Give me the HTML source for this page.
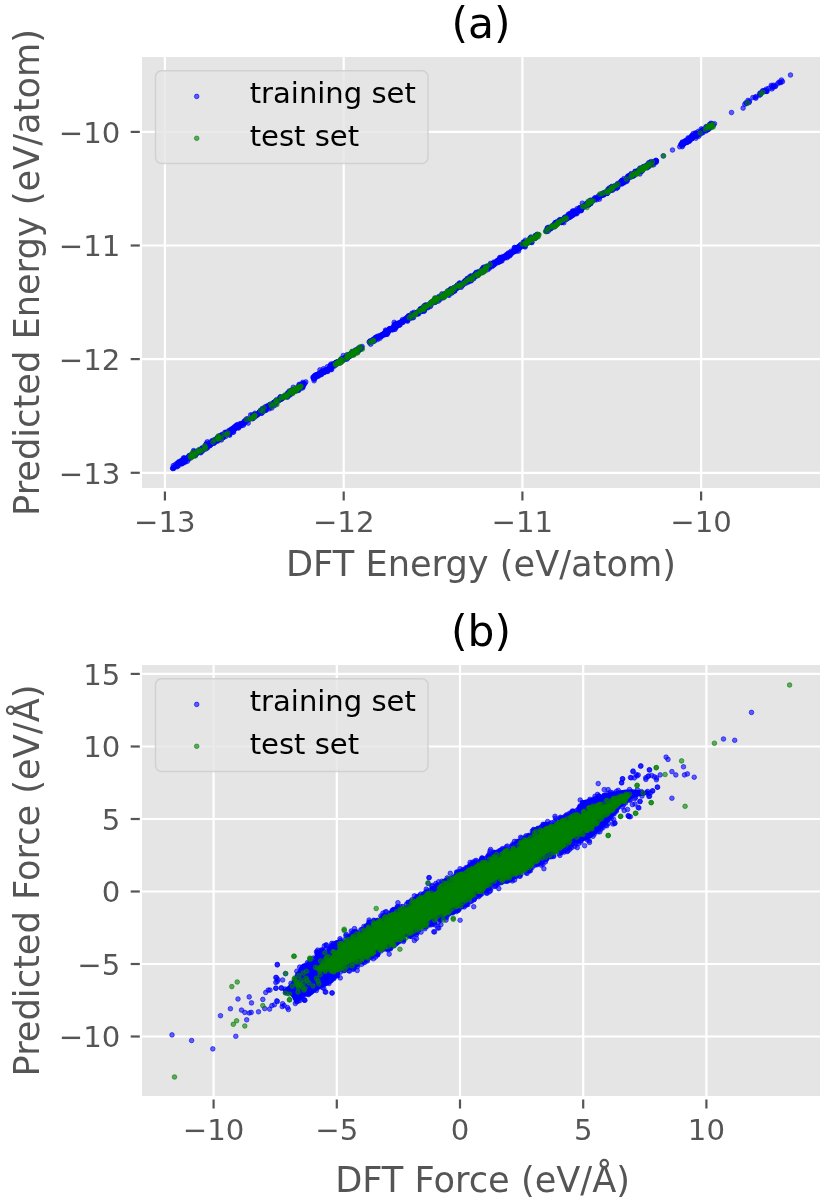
<!DOCTYPE html>
<html><head><meta charset="utf-8"><title>Energy and force parity plots</title>
<style>
html,body{margin:0;padding:0;background:#fff;}
body{width:825px;height:1201px;overflow:hidden;}
svg{display:block;}
text{font-family:"DejaVu Sans","Liberation Sans",sans-serif;}
.tk{font-size:29.2px;fill:#555555;}
.lg{font-size:29.05px;fill:#000;}
.lb{font-size:35.2px;fill:#555555;}
.tt{font-size:42.4px;fill:#000;}
</style></head>
<body>
<svg width="825" height="1201" viewBox="0 0 825 1201">
<rect x="0" y="0" width="825" height="1201" fill="#fff"/>
<rect x="142" y="57" width="678" height="431" fill="#e5e5e5"/>
<line x1="164.9" y1="57" x2="164.9" y2="488" stroke="#fff" stroke-width="2.2"/>
<line x1="343.7" y1="57" x2="343.7" y2="488" stroke="#fff" stroke-width="2.2"/>
<line x1="522.4" y1="57" x2="522.4" y2="488" stroke="#fff" stroke-width="2.2"/>
<line x1="701.1" y1="57" x2="701.1" y2="488" stroke="#fff" stroke-width="2.2"/>
<line x1="142" y1="472.8" x2="820" y2="472.8" stroke="#fff" stroke-width="2.2"/>
<line x1="142" y1="359.1" x2="820" y2="359.1" stroke="#fff" stroke-width="2.2"/>
<line x1="142" y1="245.5" x2="820" y2="245.5" stroke="#fff" stroke-width="2.2"/>
<line x1="142" y1="131.9" x2="820" y2="131.9" stroke="#fff" stroke-width="2.2"/>
<g fill="#0000ff" fill-opacity="0.6" stroke="#0000ff" stroke-opacity="0.6" stroke-width="1"><circle cx="172.6" cy="468.2" r="2.3"/><circle cx="172.8" cy="468.6" r="2.3"/><circle cx="173.3" cy="465.6" r="2.3"/><circle cx="173.8" cy="468.3" r="2.3"/><circle cx="173.9" cy="467.0" r="2.3"/><circle cx="174.0" cy="467.9" r="2.3"/><circle cx="175.6" cy="464.3" r="2.3"/><circle cx="176.3" cy="466.0" r="2.3"/><circle cx="176.8" cy="464.9" r="2.3"/><circle cx="177.2" cy="466.7" r="2.3"/><circle cx="177.3" cy="463.1" r="2.3"/><circle cx="177.5" cy="466.1" r="2.3"/><circle cx="178.5" cy="463.0" r="2.3"/><circle cx="178.6" cy="462.7" r="2.3"/><circle cx="178.8" cy="462.4" r="2.3"/><circle cx="179.0" cy="461.6" r="2.3"/><circle cx="179.1" cy="465.2" r="2.3"/><circle cx="179.5" cy="463.0" r="2.3"/><circle cx="180.0" cy="463.0" r="2.3"/><circle cx="180.2" cy="462.5" r="2.3"/><circle cx="180.4" cy="461.6" r="2.3"/><circle cx="181.4" cy="462.2" r="2.3"/><circle cx="181.5" cy="463.3" r="2.3"/><circle cx="181.5" cy="462.4" r="2.3"/><circle cx="181.5" cy="460.3" r="2.3"/><circle cx="181.7" cy="463.6" r="2.3"/><circle cx="181.7" cy="462.0" r="2.3"/><circle cx="181.8" cy="463.3" r="2.3"/><circle cx="182.2" cy="460.4" r="2.3"/><circle cx="182.4" cy="463.7" r="2.3"/><circle cx="183.1" cy="461.7" r="2.3"/><circle cx="183.3" cy="461.3" r="2.3"/><circle cx="183.4" cy="460.9" r="2.3"/><circle cx="183.5" cy="458.0" r="2.3"/><circle cx="184.0" cy="458.7" r="2.3"/><circle cx="184.0" cy="461.9" r="2.3"/><circle cx="184.3" cy="457.8" r="2.3"/><circle cx="184.8" cy="461.6" r="2.3"/><circle cx="185.0" cy="462.3" r="2.3"/><circle cx="185.4" cy="461.6" r="2.3"/><circle cx="185.5" cy="459.4" r="2.3"/><circle cx="187.2" cy="458.0" r="2.3"/><circle cx="187.5" cy="461.2" r="2.3"/><circle cx="187.6" cy="457.8" r="2.3"/><circle cx="187.9" cy="458.5" r="2.3"/><circle cx="188.1" cy="457.2" r="2.3"/><circle cx="188.6" cy="458.2" r="2.3"/><circle cx="188.8" cy="456.5" r="2.3"/><circle cx="188.8" cy="456.9" r="2.3"/><circle cx="188.9" cy="459.0" r="2.3"/><circle cx="189.1" cy="455.6" r="2.3"/><circle cx="189.3" cy="457.0" r="2.3"/><circle cx="189.4" cy="456.3" r="2.3"/><circle cx="189.9" cy="455.3" r="2.3"/><circle cx="189.9" cy="458.1" r="2.3"/><circle cx="190.8" cy="456.4" r="2.3"/><circle cx="191.7" cy="456.8" r="2.3"/><circle cx="191.9" cy="456.8" r="2.3"/><circle cx="192.2" cy="455.1" r="2.3"/><circle cx="192.6" cy="454.8" r="2.3"/><circle cx="192.6" cy="453.5" r="2.3"/><circle cx="192.7" cy="453.3" r="2.3"/><circle cx="192.8" cy="455.1" r="2.3"/><circle cx="192.9" cy="456.0" r="2.3"/><circle cx="193.6" cy="450.6" r="2.3"/><circle cx="193.9" cy="451.6" r="2.3"/><circle cx="194.2" cy="454.3" r="2.3"/><circle cx="194.3" cy="455.3" r="2.3"/><circle cx="194.3" cy="454.6" r="2.3"/><circle cx="194.3" cy="453.7" r="2.3"/><circle cx="194.5" cy="452.6" r="2.3"/><circle cx="194.7" cy="452.6" r="2.3"/><circle cx="194.7" cy="453.3" r="2.3"/><circle cx="195.0" cy="454.0" r="2.3"/><circle cx="195.0" cy="453.4" r="2.3"/><circle cx="195.1" cy="454.0" r="2.3"/><circle cx="195.1" cy="453.5" r="2.3"/><circle cx="195.2" cy="453.7" r="2.3"/><circle cx="195.2" cy="452.8" r="2.3"/><circle cx="195.4" cy="455.7" r="2.3"/><circle cx="195.8" cy="453.6" r="2.3"/><circle cx="195.9" cy="453.5" r="2.3"/><circle cx="195.9" cy="454.5" r="2.3"/><circle cx="196.1" cy="453.2" r="2.3"/><circle cx="196.1" cy="454.3" r="2.3"/><circle cx="196.3" cy="453.7" r="2.3"/><circle cx="196.3" cy="453.2" r="2.3"/><circle cx="196.4" cy="453.1" r="2.3"/><circle cx="196.5" cy="453.4" r="2.3"/><circle cx="196.6" cy="451.2" r="2.3"/><circle cx="197.5" cy="451.8" r="2.3"/><circle cx="197.9" cy="451.4" r="2.3"/><circle cx="198.2" cy="451.3" r="2.3"/><circle cx="198.4" cy="452.3" r="2.3"/><circle cx="199.8" cy="451.7" r="2.3"/><circle cx="199.8" cy="449.6" r="2.3"/><circle cx="200.5" cy="450.6" r="2.3"/><circle cx="200.6" cy="452.3" r="2.3"/><circle cx="200.7" cy="452.8" r="2.3"/><circle cx="200.8" cy="449.7" r="2.3"/><circle cx="200.9" cy="450.8" r="2.3"/><circle cx="200.9" cy="450.0" r="2.3"/><circle cx="201.0" cy="450.5" r="2.3"/><circle cx="201.1" cy="450.3" r="2.3"/><circle cx="201.3" cy="449.9" r="2.3"/><circle cx="201.7" cy="451.0" r="2.3"/><circle cx="201.9" cy="449.3" r="2.3"/><circle cx="201.9" cy="448.0" r="2.3"/><circle cx="202.1" cy="448.3" r="2.3"/><circle cx="202.1" cy="451.3" r="2.3"/><circle cx="202.3" cy="450.7" r="2.3"/><circle cx="202.9" cy="450.3" r="2.3"/><circle cx="204.6" cy="447.8" r="2.3"/><circle cx="205.0" cy="446.2" r="2.3"/><circle cx="205.1" cy="446.8" r="2.3"/><circle cx="205.4" cy="449.2" r="2.3"/><circle cx="205.6" cy="446.8" r="2.3"/><circle cx="205.7" cy="445.8" r="2.3"/><circle cx="205.7" cy="447.4" r="2.3"/><circle cx="205.8" cy="444.4" r="2.3"/><circle cx="206.3" cy="447.3" r="2.3"/><circle cx="206.3" cy="445.0" r="2.3"/><circle cx="206.6" cy="443.3" r="2.3"/><circle cx="206.9" cy="447.7" r="2.3"/><circle cx="207.0" cy="446.4" r="2.3"/><circle cx="207.1" cy="445.2" r="2.3"/><circle cx="207.3" cy="441.8" r="2.3"/><circle cx="207.4" cy="448.0" r="2.3"/><circle cx="208.1" cy="444.6" r="2.3"/><circle cx="209.1" cy="444.3" r="2.3"/><circle cx="209.1" cy="445.2" r="2.3"/><circle cx="209.3" cy="445.6" r="2.3"/><circle cx="209.4" cy="445.2" r="2.3"/><circle cx="209.4" cy="444.8" r="2.3"/><circle cx="209.8" cy="445.8" r="2.3"/><circle cx="210.2" cy="442.0" r="2.3"/><circle cx="210.2" cy="445.3" r="2.3"/><circle cx="210.3" cy="444.5" r="2.3"/><circle cx="210.9" cy="444.3" r="2.3"/><circle cx="211.0" cy="444.0" r="2.3"/><circle cx="211.3" cy="443.2" r="2.3"/><circle cx="211.6" cy="444.0" r="2.3"/><circle cx="211.9" cy="443.2" r="2.3"/><circle cx="212.3" cy="440.5" r="2.3"/><circle cx="213.0" cy="440.9" r="2.3"/><circle cx="213.0" cy="442.5" r="2.3"/><circle cx="213.2" cy="441.0" r="2.3"/><circle cx="213.3" cy="443.0" r="2.3"/><circle cx="213.4" cy="441.7" r="2.3"/><circle cx="214.1" cy="443.3" r="2.3"/><circle cx="214.3" cy="442.8" r="2.3"/><circle cx="214.7" cy="442.2" r="2.3"/><circle cx="214.8" cy="439.5" r="2.3"/><circle cx="214.8" cy="440.8" r="2.3"/><circle cx="216.1" cy="439.5" r="2.3"/><circle cx="216.5" cy="439.8" r="2.3"/><circle cx="216.7" cy="439.4" r="2.3"/><circle cx="216.7" cy="439.3" r="2.3"/><circle cx="216.8" cy="438.8" r="2.3"/><circle cx="217.0" cy="439.5" r="2.3"/><circle cx="217.0" cy="440.8" r="2.3"/><circle cx="217.1" cy="440.6" r="2.3"/><circle cx="217.1" cy="438.1" r="2.3"/><circle cx="217.5" cy="437.6" r="2.3"/><circle cx="217.9" cy="438.4" r="2.3"/><circle cx="217.9" cy="441.1" r="2.3"/><circle cx="218.0" cy="437.0" r="2.3"/><circle cx="218.5" cy="438.3" r="2.3"/><circle cx="218.6" cy="438.7" r="2.3"/><circle cx="218.7" cy="438.5" r="2.3"/><circle cx="218.8" cy="439.0" r="2.3"/><circle cx="218.9" cy="436.2" r="2.3"/><circle cx="219.4" cy="436.0" r="2.3"/><circle cx="219.9" cy="439.2" r="2.3"/><circle cx="220.0" cy="438.0" r="2.3"/><circle cx="220.0" cy="437.4" r="2.3"/><circle cx="221.0" cy="435.5" r="2.3"/><circle cx="221.4" cy="439.9" r="2.3"/><circle cx="221.5" cy="435.6" r="2.3"/><circle cx="221.6" cy="434.7" r="2.3"/><circle cx="222.0" cy="436.9" r="2.3"/><circle cx="222.1" cy="436.5" r="2.3"/><circle cx="222.3" cy="434.7" r="2.3"/><circle cx="222.4" cy="435.8" r="2.3"/><circle cx="222.9" cy="437.6" r="2.3"/><circle cx="223.0" cy="437.3" r="2.3"/><circle cx="223.1" cy="437.1" r="2.3"/><circle cx="223.4" cy="437.4" r="2.3"/><circle cx="223.5" cy="435.5" r="2.3"/><circle cx="223.8" cy="436.0" r="2.3"/><circle cx="224.0" cy="435.2" r="2.3"/><circle cx="224.0" cy="434.3" r="2.3"/><circle cx="224.7" cy="432.5" r="2.3"/><circle cx="224.9" cy="434.4" r="2.3"/><circle cx="225.6" cy="436.5" r="2.3"/><circle cx="225.9" cy="432.3" r="2.3"/><circle cx="226.2" cy="434.0" r="2.3"/><circle cx="226.3" cy="432.3" r="2.3"/><circle cx="227.1" cy="433.8" r="2.3"/><circle cx="227.6" cy="432.6" r="2.3"/><circle cx="227.8" cy="433.0" r="2.3"/><circle cx="228.2" cy="432.6" r="2.3"/><circle cx="228.9" cy="430.5" r="2.3"/><circle cx="228.9" cy="432.9" r="2.3"/><circle cx="229.2" cy="431.7" r="2.3"/><circle cx="229.2" cy="431.7" r="2.3"/><circle cx="229.3" cy="432.3" r="2.3"/><circle cx="229.5" cy="434.5" r="2.3"/><circle cx="229.5" cy="431.3" r="2.3"/><circle cx="229.7" cy="435.2" r="2.3"/><circle cx="229.7" cy="433.5" r="2.3"/><circle cx="230.1" cy="431.9" r="2.3"/><circle cx="230.2" cy="430.7" r="2.3"/><circle cx="230.6" cy="430.0" r="2.3"/><circle cx="230.6" cy="430.0" r="2.3"/><circle cx="230.9" cy="430.1" r="2.3"/><circle cx="231.3" cy="431.0" r="2.3"/><circle cx="231.5" cy="429.0" r="2.3"/><circle cx="231.5" cy="430.8" r="2.3"/><circle cx="232.8" cy="428.2" r="2.3"/><circle cx="232.9" cy="432.3" r="2.3"/><circle cx="233.3" cy="430.5" r="2.3"/><circle cx="233.5" cy="429.9" r="2.3"/><circle cx="233.5" cy="429.2" r="2.3"/><circle cx="233.6" cy="432.1" r="2.3"/><circle cx="233.8" cy="428.0" r="2.3"/><circle cx="233.9" cy="427.7" r="2.3"/><circle cx="234.2" cy="427.8" r="2.3"/><circle cx="234.6" cy="429.1" r="2.3"/><circle cx="234.9" cy="426.4" r="2.3"/><circle cx="235.3" cy="428.7" r="2.3"/><circle cx="235.8" cy="426.6" r="2.3"/><circle cx="235.9" cy="427.7" r="2.3"/><circle cx="236.1" cy="427.6" r="2.3"/><circle cx="236.2" cy="427.7" r="2.3"/><circle cx="236.2" cy="427.5" r="2.3"/><circle cx="236.4" cy="425.9" r="2.3"/><circle cx="236.4" cy="425.5" r="2.3"/><circle cx="236.7" cy="425.4" r="2.3"/><circle cx="236.8" cy="426.0" r="2.3"/><circle cx="236.9" cy="426.2" r="2.3"/><circle cx="237.1" cy="426.3" r="2.3"/><circle cx="237.3" cy="424.6" r="2.3"/><circle cx="237.7" cy="427.1" r="2.3"/><circle cx="237.8" cy="427.2" r="2.3"/><circle cx="238.1" cy="426.2" r="2.3"/><circle cx="238.5" cy="428.1" r="2.3"/><circle cx="238.5" cy="426.3" r="2.3"/><circle cx="238.6" cy="426.0" r="2.3"/><circle cx="238.7" cy="427.2" r="2.3"/><circle cx="239.0" cy="426.4" r="2.3"/><circle cx="239.7" cy="424.4" r="2.3"/><circle cx="239.8" cy="425.5" r="2.3"/><circle cx="239.9" cy="425.0" r="2.3"/><circle cx="240.2" cy="423.6" r="2.3"/><circle cx="240.7" cy="425.4" r="2.3"/><circle cx="241.3" cy="425.7" r="2.3"/><circle cx="241.4" cy="424.2" r="2.3"/><circle cx="241.5" cy="423.6" r="2.3"/><circle cx="243.4" cy="425.2" r="2.3"/><circle cx="243.7" cy="421.9" r="2.3"/><circle cx="243.7" cy="423.1" r="2.3"/><circle cx="244.0" cy="423.0" r="2.3"/><circle cx="244.1" cy="423.5" r="2.3"/><circle cx="244.2" cy="422.6" r="2.3"/><circle cx="244.7" cy="420.9" r="2.3"/><circle cx="245.3" cy="421.0" r="2.3"/><circle cx="245.4" cy="420.6" r="2.3"/><circle cx="246.1" cy="421.6" r="2.3"/><circle cx="246.4" cy="419.0" r="2.3"/><circle cx="247.2" cy="418.9" r="2.3"/><circle cx="247.8" cy="420.1" r="2.3"/><circle cx="248.2" cy="423.1" r="2.3"/><circle cx="248.9" cy="419.3" r="2.3"/><circle cx="250.6" cy="414.9" r="2.3"/><circle cx="252.1" cy="417.4" r="2.3"/><circle cx="252.3" cy="418.5" r="2.3"/><circle cx="252.3" cy="415.1" r="2.3"/><circle cx="252.6" cy="417.8" r="2.3"/><circle cx="252.6" cy="416.4" r="2.3"/><circle cx="252.7" cy="416.0" r="2.3"/><circle cx="252.9" cy="418.7" r="2.3"/><circle cx="253.1" cy="416.5" r="2.3"/><circle cx="254.0" cy="414.6" r="2.3"/><circle cx="254.7" cy="416.1" r="2.3"/><circle cx="254.8" cy="414.8" r="2.3"/><circle cx="254.9" cy="415.6" r="2.3"/><circle cx="255.0" cy="414.2" r="2.3"/><circle cx="255.0" cy="413.2" r="2.3"/><circle cx="255.2" cy="416.8" r="2.3"/><circle cx="255.8" cy="415.3" r="2.3"/><circle cx="256.3" cy="414.2" r="2.3"/><circle cx="256.7" cy="415.2" r="2.3"/><circle cx="257.1" cy="415.2" r="2.3"/><circle cx="257.8" cy="414.2" r="2.3"/><circle cx="257.9" cy="414.0" r="2.3"/><circle cx="258.1" cy="414.3" r="2.3"/><circle cx="259.4" cy="412.3" r="2.3"/><circle cx="259.6" cy="411.6" r="2.3"/><circle cx="259.8" cy="411.5" r="2.3"/><circle cx="260.3" cy="411.3" r="2.3"/><circle cx="260.5" cy="410.5" r="2.3"/><circle cx="261.2" cy="413.3" r="2.3"/><circle cx="261.3" cy="411.6" r="2.3"/><circle cx="261.5" cy="411.1" r="2.3"/><circle cx="261.6" cy="410.6" r="2.3"/><circle cx="261.9" cy="413.2" r="2.3"/><circle cx="262.2" cy="408.6" r="2.3"/><circle cx="262.5" cy="411.9" r="2.3"/><circle cx="262.6" cy="410.3" r="2.3"/><circle cx="262.7" cy="409.7" r="2.3"/><circle cx="263.5" cy="408.7" r="2.3"/><circle cx="263.7" cy="410.9" r="2.3"/><circle cx="263.8" cy="410.6" r="2.3"/><circle cx="264.0" cy="409.3" r="2.3"/><circle cx="264.1" cy="409.0" r="2.3"/><circle cx="264.9" cy="408.1" r="2.3"/><circle cx="264.9" cy="409.3" r="2.3"/><circle cx="265.3" cy="409.8" r="2.3"/><circle cx="265.5" cy="410.5" r="2.3"/><circle cx="265.5" cy="406.6" r="2.3"/><circle cx="266.3" cy="410.0" r="2.3"/><circle cx="266.8" cy="407.1" r="2.3"/><circle cx="267.1" cy="407.4" r="2.3"/><circle cx="267.5" cy="406.6" r="2.3"/><circle cx="267.7" cy="406.2" r="2.3"/><circle cx="267.9" cy="405.6" r="2.3"/><circle cx="268.8" cy="406.8" r="2.3"/><circle cx="268.9" cy="406.1" r="2.3"/><circle cx="269.1" cy="408.9" r="2.3"/><circle cx="269.5" cy="406.2" r="2.3"/><circle cx="269.7" cy="407.3" r="2.3"/><circle cx="269.8" cy="406.3" r="2.3"/><circle cx="270.0" cy="404.4" r="2.3"/><circle cx="270.2" cy="405.7" r="2.3"/><circle cx="270.4" cy="404.4" r="2.3"/><circle cx="271.0" cy="405.6" r="2.3"/><circle cx="271.4" cy="404.5" r="2.3"/><circle cx="271.5" cy="405.5" r="2.3"/><circle cx="271.8" cy="408.0" r="2.3"/><circle cx="272.2" cy="405.4" r="2.3"/><circle cx="272.4" cy="404.8" r="2.3"/><circle cx="272.6" cy="404.1" r="2.3"/><circle cx="272.6" cy="404.3" r="2.3"/><circle cx="272.9" cy="404.3" r="2.3"/><circle cx="273.5" cy="402.5" r="2.3"/><circle cx="273.6" cy="402.9" r="2.3"/><circle cx="273.8" cy="404.0" r="2.3"/><circle cx="274.2" cy="402.2" r="2.3"/><circle cx="274.4" cy="405.6" r="2.3"/><circle cx="274.9" cy="403.2" r="2.3"/><circle cx="275.4" cy="402.7" r="2.3"/><circle cx="275.7" cy="400.7" r="2.3"/><circle cx="276.0" cy="402.8" r="2.3"/><circle cx="276.1" cy="403.9" r="2.3"/><circle cx="276.3" cy="401.7" r="2.3"/><circle cx="276.5" cy="399.7" r="2.3"/><circle cx="276.8" cy="401.9" r="2.3"/><circle cx="278.8" cy="400.5" r="2.3"/><circle cx="278.8" cy="400.6" r="2.3"/><circle cx="279.5" cy="399.9" r="2.3"/><circle cx="279.5" cy="398.3" r="2.3"/><circle cx="280.3" cy="396.9" r="2.3"/><circle cx="280.3" cy="398.8" r="2.3"/><circle cx="280.4" cy="399.4" r="2.3"/><circle cx="280.5" cy="396.9" r="2.3"/><circle cx="280.9" cy="398.9" r="2.3"/><circle cx="281.3" cy="398.7" r="2.3"/><circle cx="281.5" cy="399.1" r="2.3"/><circle cx="282.1" cy="398.6" r="2.3"/><circle cx="282.7" cy="397.6" r="2.3"/><circle cx="282.7" cy="398.2" r="2.3"/><circle cx="284.3" cy="396.3" r="2.3"/><circle cx="284.7" cy="396.5" r="2.3"/><circle cx="284.8" cy="395.9" r="2.3"/><circle cx="286.0" cy="396.3" r="2.3"/><circle cx="286.3" cy="395.8" r="2.3"/><circle cx="286.4" cy="395.2" r="2.3"/><circle cx="287.2" cy="394.9" r="2.3"/><circle cx="287.3" cy="394.8" r="2.3"/><circle cx="287.4" cy="393.4" r="2.3"/><circle cx="287.5" cy="396.2" r="2.3"/><circle cx="287.5" cy="397.2" r="2.3"/><circle cx="287.6" cy="393.9" r="2.3"/><circle cx="288.0" cy="394.8" r="2.3"/><circle cx="288.0" cy="392.8" r="2.3"/><circle cx="288.2" cy="394.4" r="2.3"/><circle cx="288.5" cy="395.7" r="2.3"/><circle cx="289.2" cy="391.0" r="2.3"/><circle cx="289.3" cy="393.2" r="2.3"/><circle cx="289.4" cy="394.2" r="2.3"/><circle cx="289.5" cy="394.5" r="2.3"/><circle cx="289.5" cy="392.8" r="2.3"/><circle cx="289.9" cy="394.2" r="2.3"/><circle cx="289.9" cy="392.8" r="2.3"/><circle cx="290.1" cy="391.7" r="2.3"/><circle cx="290.3" cy="394.8" r="2.3"/><circle cx="290.3" cy="393.5" r="2.3"/><circle cx="290.7" cy="392.2" r="2.3"/><circle cx="290.7" cy="390.7" r="2.3"/><circle cx="291.7" cy="391.0" r="2.3"/><circle cx="292.0" cy="392.5" r="2.3"/><circle cx="292.2" cy="390.0" r="2.3"/><circle cx="292.6" cy="392.0" r="2.3"/><circle cx="292.8" cy="391.7" r="2.3"/><circle cx="292.9" cy="390.9" r="2.3"/><circle cx="293.2" cy="392.6" r="2.3"/><circle cx="293.3" cy="387.3" r="2.3"/><circle cx="293.4" cy="389.6" r="2.3"/><circle cx="294.8" cy="389.9" r="2.3"/><circle cx="295.1" cy="390.7" r="2.3"/><circle cx="296.3" cy="390.7" r="2.3"/><circle cx="296.4" cy="388.7" r="2.3"/><circle cx="296.7" cy="388.1" r="2.3"/><circle cx="296.7" cy="389.5" r="2.3"/><circle cx="296.9" cy="389.1" r="2.3"/><circle cx="297.2" cy="387.9" r="2.3"/><circle cx="297.5" cy="388.6" r="2.3"/><circle cx="298.0" cy="390.4" r="2.3"/><circle cx="298.2" cy="387.2" r="2.3"/><circle cx="298.2" cy="387.7" r="2.3"/><circle cx="298.3" cy="387.1" r="2.3"/><circle cx="298.6" cy="388.7" r="2.3"/><circle cx="298.8" cy="390.3" r="2.3"/><circle cx="299.0" cy="389.1" r="2.3"/><circle cx="299.0" cy="387.2" r="2.3"/><circle cx="299.0" cy="384.9" r="2.3"/><circle cx="299.4" cy="384.3" r="2.3"/><circle cx="300.2" cy="386.4" r="2.3"/><circle cx="301.1" cy="388.0" r="2.3"/><circle cx="301.2" cy="386.5" r="2.3"/><circle cx="301.2" cy="385.5" r="2.3"/><circle cx="301.3" cy="385.5" r="2.3"/><circle cx="301.6" cy="385.7" r="2.3"/><circle cx="302.2" cy="383.8" r="2.3"/><circle cx="302.3" cy="386.5" r="2.3"/><circle cx="302.6" cy="387.9" r="2.3"/><circle cx="302.6" cy="386.3" r="2.3"/><circle cx="302.7" cy="386.6" r="2.3"/><circle cx="302.8" cy="382.3" r="2.3"/><circle cx="303.0" cy="385.2" r="2.3"/><circle cx="303.1" cy="386.7" r="2.3"/><circle cx="303.2" cy="384.1" r="2.3"/><circle cx="303.3" cy="383.5" r="2.3"/><circle cx="304.0" cy="384.3" r="2.3"/><circle cx="304.9" cy="383.5" r="2.3"/><circle cx="305.8" cy="381.9" r="2.3"/><circle cx="312.9" cy="377.2" r="2.3"/><circle cx="313.5" cy="378.3" r="2.3"/><circle cx="313.7" cy="378.6" r="2.3"/><circle cx="313.8" cy="377.9" r="2.3"/><circle cx="313.8" cy="376.8" r="2.3"/><circle cx="313.9" cy="379.0" r="2.3"/><circle cx="313.9" cy="376.8" r="2.3"/><circle cx="314.1" cy="380.8" r="2.3"/><circle cx="314.5" cy="378.8" r="2.3"/><circle cx="314.7" cy="375.7" r="2.3"/><circle cx="314.9" cy="375.4" r="2.3"/><circle cx="315.2" cy="377.0" r="2.3"/><circle cx="315.3" cy="377.7" r="2.3"/><circle cx="315.9" cy="375.7" r="2.3"/><circle cx="315.9" cy="377.2" r="2.3"/><circle cx="316.2" cy="374.6" r="2.3"/><circle cx="317.3" cy="374.4" r="2.3"/><circle cx="317.6" cy="374.7" r="2.3"/><circle cx="318.2" cy="376.3" r="2.3"/><circle cx="318.4" cy="373.9" r="2.3"/><circle cx="318.5" cy="375.4" r="2.3"/><circle cx="318.6" cy="375.3" r="2.3"/><circle cx="318.6" cy="375.6" r="2.3"/><circle cx="318.9" cy="375.0" r="2.3"/><circle cx="319.2" cy="374.0" r="2.3"/><circle cx="319.6" cy="373.3" r="2.3"/><circle cx="319.8" cy="373.2" r="2.3"/><circle cx="319.9" cy="369.9" r="2.3"/><circle cx="320.4" cy="374.3" r="2.3"/><circle cx="320.8" cy="372.2" r="2.3"/><circle cx="321.0" cy="374.3" r="2.3"/><circle cx="321.5" cy="373.4" r="2.3"/><circle cx="321.5" cy="374.6" r="2.3"/><circle cx="321.6" cy="371.6" r="2.3"/><circle cx="322.2" cy="372.4" r="2.3"/><circle cx="322.2" cy="372.5" r="2.3"/><circle cx="323.0" cy="372.3" r="2.3"/><circle cx="323.1" cy="371.0" r="2.3"/><circle cx="323.3" cy="372.6" r="2.3"/><circle cx="323.4" cy="371.5" r="2.3"/><circle cx="323.5" cy="368.7" r="2.3"/><circle cx="324.0" cy="371.7" r="2.3"/><circle cx="324.3" cy="372.2" r="2.3"/><circle cx="324.6" cy="372.4" r="2.3"/><circle cx="324.7" cy="370.1" r="2.3"/><circle cx="325.2" cy="370.7" r="2.3"/><circle cx="326.1" cy="371.2" r="2.3"/><circle cx="326.2" cy="371.2" r="2.3"/><circle cx="326.2" cy="370.1" r="2.3"/><circle cx="326.9" cy="370.9" r="2.3"/><circle cx="327.3" cy="366.8" r="2.3"/><circle cx="327.6" cy="369.5" r="2.3"/><circle cx="327.6" cy="369.4" r="2.3"/><circle cx="327.7" cy="369.3" r="2.3"/><circle cx="327.8" cy="371.4" r="2.3"/><circle cx="327.9" cy="370.9" r="2.3"/><circle cx="328.9" cy="368.9" r="2.3"/><circle cx="329.3" cy="368.2" r="2.3"/><circle cx="330.0" cy="369.3" r="2.3"/><circle cx="330.1" cy="365.5" r="2.3"/><circle cx="330.4" cy="366.9" r="2.3"/><circle cx="330.5" cy="365.8" r="2.3"/><circle cx="330.6" cy="365.9" r="2.3"/><circle cx="330.7" cy="367.6" r="2.3"/><circle cx="330.9" cy="364.1" r="2.3"/><circle cx="331.1" cy="366.9" r="2.3"/><circle cx="331.3" cy="369.3" r="2.3"/><circle cx="331.6" cy="369.6" r="2.3"/><circle cx="331.6" cy="366.7" r="2.3"/><circle cx="331.7" cy="365.5" r="2.3"/><circle cx="331.7" cy="366.5" r="2.3"/><circle cx="332.7" cy="363.8" r="2.3"/><circle cx="332.8" cy="366.3" r="2.3"/><circle cx="333.3" cy="364.9" r="2.3"/><circle cx="333.7" cy="364.5" r="2.3"/><circle cx="334.2" cy="366.3" r="2.3"/><circle cx="334.4" cy="364.5" r="2.3"/><circle cx="334.8" cy="364.2" r="2.3"/><circle cx="334.9" cy="363.2" r="2.3"/><circle cx="335.7" cy="362.6" r="2.3"/><circle cx="335.8" cy="362.8" r="2.3"/><circle cx="336.0" cy="364.9" r="2.3"/><circle cx="336.0" cy="363.0" r="2.3"/><circle cx="336.4" cy="362.3" r="2.3"/><circle cx="336.6" cy="363.5" r="2.3"/><circle cx="336.8" cy="362.5" r="2.3"/><circle cx="336.9" cy="362.4" r="2.3"/><circle cx="337.2" cy="361.7" r="2.3"/><circle cx="337.3" cy="363.0" r="2.3"/><circle cx="337.4" cy="362.4" r="2.3"/><circle cx="337.6" cy="362.6" r="2.3"/><circle cx="338.0" cy="362.5" r="2.3"/><circle cx="338.6" cy="363.0" r="2.3"/><circle cx="339.5" cy="362.1" r="2.3"/><circle cx="339.7" cy="363.0" r="2.3"/><circle cx="340.0" cy="361.6" r="2.3"/><circle cx="340.2" cy="360.3" r="2.3"/><circle cx="340.3" cy="360.4" r="2.3"/><circle cx="340.8" cy="359.9" r="2.3"/><circle cx="341.2" cy="360.8" r="2.3"/><circle cx="341.3" cy="358.8" r="2.3"/><circle cx="341.5" cy="361.0" r="2.3"/><circle cx="341.5" cy="359.4" r="2.3"/><circle cx="341.6" cy="359.8" r="2.3"/><circle cx="341.9" cy="361.1" r="2.3"/><circle cx="342.1" cy="360.9" r="2.3"/><circle cx="342.4" cy="358.9" r="2.3"/><circle cx="342.5" cy="359.7" r="2.3"/><circle cx="342.5" cy="359.4" r="2.3"/><circle cx="343.3" cy="355.5" r="2.3"/><circle cx="343.4" cy="358.5" r="2.3"/><circle cx="343.9" cy="358.7" r="2.3"/><circle cx="343.9" cy="358.0" r="2.3"/><circle cx="344.5" cy="359.3" r="2.3"/><circle cx="344.8" cy="358.5" r="2.3"/><circle cx="345.2" cy="357.5" r="2.3"/><circle cx="345.3" cy="359.0" r="2.3"/><circle cx="345.6" cy="357.8" r="2.3"/><circle cx="345.7" cy="358.0" r="2.3"/><circle cx="346.5" cy="357.1" r="2.3"/><circle cx="346.9" cy="359.2" r="2.3"/><circle cx="347.0" cy="354.7" r="2.3"/><circle cx="347.4" cy="356.8" r="2.3"/><circle cx="347.9" cy="355.7" r="2.3"/><circle cx="347.9" cy="357.6" r="2.3"/><circle cx="348.1" cy="357.8" r="2.3"/><circle cx="348.1" cy="356.2" r="2.3"/><circle cx="349.4" cy="355.8" r="2.3"/><circle cx="349.7" cy="354.4" r="2.3"/><circle cx="349.8" cy="356.3" r="2.3"/><circle cx="350.4" cy="356.0" r="2.3"/><circle cx="350.5" cy="354.3" r="2.3"/><circle cx="350.6" cy="353.8" r="2.3"/><circle cx="350.6" cy="353.5" r="2.3"/><circle cx="350.9" cy="354.4" r="2.3"/><circle cx="351.6" cy="353.7" r="2.3"/><circle cx="352.7" cy="354.3" r="2.3"/><circle cx="352.8" cy="351.6" r="2.3"/><circle cx="353.1" cy="351.6" r="2.3"/><circle cx="353.1" cy="351.7" r="2.3"/><circle cx="354.1" cy="354.4" r="2.3"/><circle cx="354.7" cy="350.9" r="2.3"/><circle cx="355.2" cy="352.6" r="2.3"/><circle cx="355.4" cy="350.9" r="2.3"/><circle cx="355.6" cy="350.9" r="2.3"/><circle cx="355.7" cy="349.9" r="2.3"/><circle cx="355.8" cy="351.6" r="2.3"/><circle cx="356.8" cy="351.1" r="2.3"/><circle cx="357.5" cy="351.5" r="2.3"/><circle cx="357.7" cy="351.6" r="2.3"/><circle cx="357.8" cy="349.4" r="2.3"/><circle cx="357.8" cy="351.2" r="2.3"/><circle cx="357.8" cy="349.2" r="2.3"/><circle cx="358.0" cy="350.4" r="2.3"/><circle cx="358.2" cy="350.5" r="2.3"/><circle cx="358.6" cy="348.3" r="2.3"/><circle cx="359.1" cy="348.2" r="2.3"/><circle cx="359.4" cy="350.3" r="2.3"/><circle cx="359.7" cy="349.1" r="2.3"/><circle cx="359.8" cy="348.8" r="2.3"/><circle cx="360.3" cy="347.7" r="2.3"/><circle cx="360.9" cy="349.0" r="2.3"/><circle cx="361.2" cy="348.4" r="2.3"/><circle cx="361.7" cy="347.7" r="2.3"/><circle cx="362.1" cy="346.5" r="2.3"/><circle cx="369.2" cy="341.9" r="2.3"/><circle cx="369.6" cy="341.9" r="2.3"/><circle cx="369.6" cy="342.6" r="2.3"/><circle cx="370.2" cy="341.1" r="2.3"/><circle cx="370.3" cy="340.9" r="2.3"/><circle cx="370.3" cy="341.6" r="2.3"/><circle cx="370.7" cy="344.2" r="2.3"/><circle cx="371.4" cy="341.3" r="2.3"/><circle cx="372.5" cy="340.5" r="2.3"/><circle cx="372.9" cy="339.5" r="2.3"/><circle cx="373.1" cy="341.6" r="2.3"/><circle cx="373.7" cy="339.2" r="2.3"/><circle cx="373.8" cy="339.5" r="2.3"/><circle cx="374.2" cy="339.2" r="2.3"/><circle cx="374.4" cy="341.1" r="2.3"/><circle cx="374.6" cy="340.5" r="2.3"/><circle cx="375.2" cy="337.6" r="2.3"/><circle cx="375.7" cy="337.7" r="2.3"/><circle cx="376.0" cy="338.7" r="2.3"/><circle cx="376.5" cy="336.9" r="2.3"/><circle cx="376.9" cy="337.6" r="2.3"/><circle cx="377.2" cy="338.3" r="2.3"/><circle cx="377.7" cy="339.5" r="2.3"/><circle cx="377.9" cy="336.1" r="2.3"/><circle cx="378.5" cy="337.1" r="2.3"/><circle cx="379.7" cy="335.9" r="2.3"/><circle cx="380.1" cy="338.2" r="2.3"/><circle cx="380.3" cy="336.5" r="2.3"/><circle cx="380.6" cy="335.3" r="2.3"/><circle cx="381.3" cy="335.5" r="2.3"/><circle cx="381.9" cy="335.7" r="2.3"/><circle cx="382.0" cy="336.1" r="2.3"/><circle cx="382.3" cy="334.3" r="2.3"/><circle cx="382.8" cy="334.7" r="2.3"/><circle cx="382.9" cy="334.6" r="2.3"/><circle cx="382.9" cy="334.5" r="2.3"/><circle cx="383.9" cy="334.4" r="2.3"/><circle cx="383.9" cy="334.0" r="2.3"/><circle cx="384.0" cy="334.3" r="2.3"/><circle cx="384.0" cy="333.4" r="2.3"/><circle cx="384.5" cy="334.9" r="2.3"/><circle cx="384.7" cy="334.4" r="2.3"/><circle cx="384.9" cy="332.9" r="2.3"/><circle cx="385.0" cy="333.1" r="2.3"/><circle cx="385.3" cy="332.5" r="2.3"/><circle cx="385.5" cy="330.1" r="2.3"/><circle cx="385.5" cy="331.6" r="2.3"/><circle cx="386.1" cy="330.8" r="2.3"/><circle cx="386.1" cy="331.6" r="2.3"/><circle cx="386.3" cy="332.2" r="2.3"/><circle cx="386.4" cy="333.0" r="2.3"/><circle cx="386.5" cy="334.2" r="2.3"/><circle cx="386.9" cy="333.4" r="2.3"/><circle cx="387.1" cy="334.4" r="2.3"/><circle cx="387.2" cy="332.9" r="2.3"/><circle cx="387.9" cy="333.0" r="2.3"/><circle cx="387.9" cy="332.2" r="2.3"/><circle cx="388.3" cy="330.8" r="2.3"/><circle cx="388.9" cy="330.9" r="2.3"/><circle cx="388.9" cy="329.3" r="2.3"/><circle cx="389.2" cy="329.1" r="2.3"/><circle cx="389.3" cy="328.8" r="2.3"/><circle cx="389.8" cy="328.7" r="2.3"/><circle cx="390.1" cy="329.3" r="2.3"/><circle cx="390.4" cy="330.0" r="2.3"/><circle cx="390.5" cy="328.8" r="2.3"/><circle cx="390.6" cy="329.6" r="2.3"/><circle cx="390.9" cy="329.4" r="2.3"/><circle cx="392.2" cy="327.8" r="2.3"/><circle cx="392.5" cy="329.5" r="2.3"/><circle cx="392.7" cy="329.9" r="2.3"/><circle cx="393.6" cy="327.0" r="2.3"/><circle cx="394.1" cy="324.8" r="2.3"/><circle cx="394.1" cy="325.7" r="2.3"/><circle cx="394.2" cy="322.3" r="2.3"/><circle cx="394.5" cy="328.6" r="2.3"/><circle cx="394.9" cy="327.4" r="2.3"/><circle cx="395.0" cy="329.4" r="2.3"/><circle cx="395.1" cy="327.5" r="2.3"/><circle cx="395.3" cy="324.0" r="2.3"/><circle cx="395.7" cy="324.1" r="2.3"/><circle cx="395.7" cy="327.3" r="2.3"/><circle cx="395.7" cy="326.4" r="2.3"/><circle cx="396.1" cy="326.8" r="2.3"/><circle cx="396.1" cy="327.4" r="2.3"/><circle cx="396.4" cy="325.9" r="2.3"/><circle cx="396.4" cy="326.0" r="2.3"/><circle cx="396.5" cy="325.4" r="2.3"/><circle cx="396.8" cy="325.0" r="2.3"/><circle cx="396.9" cy="324.4" r="2.3"/><circle cx="397.2" cy="323.4" r="2.3"/><circle cx="397.7" cy="324.9" r="2.3"/><circle cx="397.8" cy="325.0" r="2.3"/><circle cx="397.8" cy="324.7" r="2.3"/><circle cx="398.5" cy="323.7" r="2.3"/><circle cx="398.7" cy="324.3" r="2.3"/><circle cx="398.8" cy="325.3" r="2.3"/><circle cx="399.3" cy="324.4" r="2.3"/><circle cx="399.3" cy="322.8" r="2.3"/><circle cx="399.5" cy="324.9" r="2.3"/><circle cx="399.5" cy="322.6" r="2.3"/><circle cx="400.1" cy="324.9" r="2.3"/><circle cx="401.8" cy="321.4" r="2.3"/><circle cx="401.8" cy="321.4" r="2.3"/><circle cx="401.9" cy="322.4" r="2.3"/><circle cx="402.0" cy="322.1" r="2.3"/><circle cx="402.4" cy="322.0" r="2.3"/><circle cx="402.5" cy="319.6" r="2.3"/><circle cx="402.7" cy="322.2" r="2.3"/><circle cx="403.2" cy="322.2" r="2.3"/><circle cx="404.0" cy="320.3" r="2.3"/><circle cx="405.1" cy="318.7" r="2.3"/><circle cx="405.2" cy="319.6" r="2.3"/><circle cx="406.0" cy="319.7" r="2.3"/><circle cx="406.5" cy="317.9" r="2.3"/><circle cx="406.5" cy="320.1" r="2.3"/><circle cx="406.7" cy="320.0" r="2.3"/><circle cx="407.4" cy="320.1" r="2.3"/><circle cx="407.5" cy="317.0" r="2.3"/><circle cx="407.6" cy="321.2" r="2.3"/><circle cx="407.8" cy="320.0" r="2.3"/><circle cx="408.3" cy="317.7" r="2.3"/><circle cx="408.3" cy="317.5" r="2.3"/><circle cx="408.4" cy="315.8" r="2.3"/><circle cx="408.7" cy="317.3" r="2.3"/><circle cx="408.8" cy="318.3" r="2.3"/><circle cx="409.0" cy="315.9" r="2.3"/><circle cx="409.7" cy="315.8" r="2.3"/><circle cx="409.8" cy="315.6" r="2.3"/><circle cx="410.6" cy="315.3" r="2.3"/><circle cx="410.9" cy="315.8" r="2.3"/><circle cx="411.0" cy="318.1" r="2.3"/><circle cx="411.1" cy="317.6" r="2.3"/><circle cx="412.0" cy="313.2" r="2.3"/><circle cx="412.1" cy="315.6" r="2.3"/><circle cx="412.6" cy="317.6" r="2.3"/><circle cx="412.7" cy="315.1" r="2.3"/><circle cx="412.9" cy="313.9" r="2.3"/><circle cx="413.3" cy="314.3" r="2.3"/><circle cx="413.4" cy="314.8" r="2.3"/><circle cx="413.5" cy="317.6" r="2.3"/><circle cx="413.5" cy="314.6" r="2.3"/><circle cx="413.8" cy="314.7" r="2.3"/><circle cx="414.1" cy="312.3" r="2.3"/><circle cx="414.3" cy="314.2" r="2.3"/><circle cx="414.5" cy="314.1" r="2.3"/><circle cx="415.3" cy="314.2" r="2.3"/><circle cx="415.8" cy="313.4" r="2.3"/><circle cx="416.1" cy="312.7" r="2.3"/><circle cx="416.7" cy="313.3" r="2.3"/><circle cx="416.8" cy="313.7" r="2.3"/><circle cx="417.5" cy="313.8" r="2.3"/><circle cx="418.0" cy="311.8" r="2.3"/><circle cx="418.0" cy="312.3" r="2.3"/><circle cx="418.2" cy="312.2" r="2.3"/><circle cx="418.2" cy="313.6" r="2.3"/><circle cx="418.4" cy="312.6" r="2.3"/><circle cx="418.5" cy="313.9" r="2.3"/><circle cx="420.1" cy="309.3" r="2.3"/><circle cx="420.3" cy="308.9" r="2.3"/><circle cx="420.8" cy="309.6" r="2.3"/><circle cx="421.0" cy="310.1" r="2.3"/><circle cx="421.2" cy="309.3" r="2.3"/><circle cx="421.3" cy="311.6" r="2.3"/><circle cx="421.8" cy="311.1" r="2.3"/><circle cx="421.9" cy="308.0" r="2.3"/><circle cx="422.0" cy="310.6" r="2.3"/><circle cx="422.1" cy="309.3" r="2.3"/><circle cx="423.6" cy="309.1" r="2.3"/><circle cx="423.9" cy="311.2" r="2.3"/><circle cx="424.0" cy="308.9" r="2.3"/><circle cx="424.1" cy="307.0" r="2.3"/><circle cx="424.3" cy="306.3" r="2.3"/><circle cx="424.3" cy="311.0" r="2.3"/><circle cx="424.4" cy="309.7" r="2.3"/><circle cx="424.8" cy="308.3" r="2.3"/><circle cx="424.9" cy="306.3" r="2.3"/><circle cx="425.0" cy="305.9" r="2.3"/><circle cx="425.1" cy="305.4" r="2.3"/><circle cx="425.5" cy="305.0" r="2.3"/><circle cx="425.6" cy="307.6" r="2.3"/><circle cx="425.7" cy="308.2" r="2.3"/><circle cx="426.1" cy="305.6" r="2.3"/><circle cx="426.2" cy="307.0" r="2.3"/><circle cx="426.4" cy="306.5" r="2.3"/><circle cx="426.6" cy="306.9" r="2.3"/><circle cx="426.7" cy="306.8" r="2.3"/><circle cx="427.1" cy="305.0" r="2.3"/><circle cx="427.6" cy="307.0" r="2.3"/><circle cx="427.8" cy="307.8" r="2.3"/><circle cx="427.9" cy="306.5" r="2.3"/><circle cx="429.5" cy="304.4" r="2.3"/><circle cx="430.2" cy="304.5" r="2.3"/><circle cx="430.3" cy="304.2" r="2.3"/><circle cx="430.4" cy="306.5" r="2.3"/><circle cx="430.6" cy="305.0" r="2.3"/><circle cx="430.6" cy="302.5" r="2.3"/><circle cx="431.1" cy="303.8" r="2.3"/><circle cx="431.2" cy="304.3" r="2.3"/><circle cx="433.3" cy="300.8" r="2.3"/><circle cx="433.7" cy="302.6" r="2.3"/><circle cx="433.7" cy="301.0" r="2.3"/><circle cx="433.7" cy="301.6" r="2.3"/><circle cx="433.9" cy="301.3" r="2.3"/><circle cx="434.0" cy="300.4" r="2.3"/><circle cx="435.0" cy="298.3" r="2.3"/><circle cx="435.1" cy="299.5" r="2.3"/><circle cx="435.3" cy="302.0" r="2.3"/><circle cx="435.4" cy="302.2" r="2.3"/><circle cx="436.2" cy="300.8" r="2.3"/><circle cx="436.3" cy="300.5" r="2.3"/><circle cx="436.8" cy="299.1" r="2.3"/><circle cx="437.0" cy="299.8" r="2.3"/><circle cx="437.6" cy="299.2" r="2.3"/><circle cx="438.4" cy="301.1" r="2.3"/><circle cx="438.5" cy="299.0" r="2.3"/><circle cx="438.5" cy="298.2" r="2.3"/><circle cx="438.7" cy="296.6" r="2.3"/><circle cx="439.1" cy="297.5" r="2.3"/><circle cx="439.5" cy="298.2" r="2.3"/><circle cx="439.9" cy="299.5" r="2.3"/><circle cx="440.0" cy="297.9" r="2.3"/><circle cx="440.5" cy="297.6" r="2.3"/><circle cx="440.7" cy="297.7" r="2.3"/><circle cx="440.9" cy="297.2" r="2.3"/><circle cx="441.4" cy="296.4" r="2.3"/><circle cx="441.4" cy="296.5" r="2.3"/><circle cx="441.9" cy="293.9" r="2.3"/><circle cx="442.1" cy="297.8" r="2.3"/><circle cx="443.3" cy="297.8" r="2.3"/><circle cx="443.5" cy="295.3" r="2.3"/><circle cx="443.7" cy="297.1" r="2.3"/><circle cx="443.9" cy="295.7" r="2.3"/><circle cx="443.9" cy="295.6" r="2.3"/><circle cx="444.5" cy="296.1" r="2.3"/><circle cx="444.6" cy="294.1" r="2.3"/><circle cx="444.8" cy="294.1" r="2.3"/><circle cx="444.9" cy="294.7" r="2.3"/><circle cx="444.9" cy="294.1" r="2.3"/><circle cx="445.4" cy="293.5" r="2.3"/><circle cx="445.6" cy="294.8" r="2.3"/><circle cx="445.6" cy="293.7" r="2.3"/><circle cx="445.7" cy="294.2" r="2.3"/><circle cx="446.0" cy="294.1" r="2.3"/><circle cx="447.6" cy="293.7" r="2.3"/><circle cx="447.7" cy="290.9" r="2.3"/><circle cx="447.7" cy="292.6" r="2.3"/><circle cx="448.3" cy="294.5" r="2.3"/><circle cx="448.6" cy="291.8" r="2.3"/><circle cx="449.0" cy="295.4" r="2.3"/><circle cx="449.1" cy="291.8" r="2.3"/><circle cx="449.7" cy="290.8" r="2.3"/><circle cx="449.9" cy="289.9" r="2.3"/><circle cx="450.0" cy="291.3" r="2.3"/><circle cx="450.2" cy="292.4" r="2.3"/><circle cx="450.8" cy="288.7" r="2.3"/><circle cx="450.9" cy="289.7" r="2.3"/><circle cx="451.5" cy="289.1" r="2.3"/><circle cx="451.7" cy="290.8" r="2.3"/><circle cx="451.8" cy="289.7" r="2.3"/><circle cx="451.8" cy="292.6" r="2.3"/><circle cx="451.8" cy="289.8" r="2.3"/><circle cx="452.0" cy="293.0" r="2.3"/><circle cx="452.5" cy="291.3" r="2.3"/><circle cx="452.6" cy="291.8" r="2.3"/><circle cx="452.6" cy="288.5" r="2.3"/><circle cx="453.1" cy="288.5" r="2.3"/><circle cx="453.5" cy="290.1" r="2.3"/><circle cx="453.8" cy="287.6" r="2.3"/><circle cx="454.5" cy="288.6" r="2.3"/><circle cx="454.6" cy="291.2" r="2.3"/><circle cx="454.7" cy="289.1" r="2.3"/><circle cx="454.8" cy="290.7" r="2.3"/><circle cx="455.8" cy="287.9" r="2.3"/><circle cx="455.9" cy="287.4" r="2.3"/><circle cx="456.1" cy="288.7" r="2.3"/><circle cx="456.2" cy="286.6" r="2.3"/><circle cx="456.5" cy="286.1" r="2.3"/><circle cx="456.7" cy="288.5" r="2.3"/><circle cx="456.8" cy="286.6" r="2.3"/><circle cx="457.0" cy="287.3" r="2.3"/><circle cx="457.3" cy="287.3" r="2.3"/><circle cx="457.4" cy="284.8" r="2.3"/><circle cx="457.6" cy="287.6" r="2.3"/><circle cx="457.8" cy="287.1" r="2.3"/><circle cx="457.8" cy="286.7" r="2.3"/><circle cx="457.9" cy="285.9" r="2.3"/><circle cx="459.2" cy="284.8" r="2.3"/><circle cx="459.2" cy="286.9" r="2.3"/><circle cx="459.4" cy="283.9" r="2.3"/><circle cx="459.6" cy="283.2" r="2.3"/><circle cx="459.6" cy="283.0" r="2.3"/><circle cx="459.6" cy="285.3" r="2.3"/><circle cx="459.7" cy="286.1" r="2.3"/><circle cx="459.8" cy="286.7" r="2.3"/><circle cx="459.8" cy="284.9" r="2.3"/><circle cx="460.2" cy="285.2" r="2.3"/><circle cx="460.5" cy="285.0" r="2.3"/><circle cx="460.9" cy="285.4" r="2.3"/><circle cx="461.2" cy="287.3" r="2.3"/><circle cx="461.5" cy="284.6" r="2.3"/><circle cx="461.5" cy="284.5" r="2.3"/><circle cx="461.8" cy="284.6" r="2.3"/><circle cx="462.4" cy="285.5" r="2.3"/><circle cx="462.7" cy="283.9" r="2.3"/><circle cx="463.3" cy="283.4" r="2.3"/><circle cx="463.4" cy="284.5" r="2.3"/><circle cx="463.7" cy="282.1" r="2.3"/><circle cx="463.7" cy="282.9" r="2.3"/><circle cx="463.7" cy="282.7" r="2.3"/><circle cx="464.0" cy="282.2" r="2.3"/><circle cx="464.4" cy="282.7" r="2.3"/><circle cx="464.5" cy="282.5" r="2.3"/><circle cx="464.5" cy="281.7" r="2.3"/><circle cx="464.9" cy="281.2" r="2.3"/><circle cx="465.1" cy="280.9" r="2.3"/><circle cx="465.4" cy="282.0" r="2.3"/><circle cx="465.5" cy="280.8" r="2.3"/><circle cx="465.8" cy="280.1" r="2.3"/><circle cx="466.0" cy="283.2" r="2.3"/><circle cx="466.3" cy="281.8" r="2.3"/><circle cx="466.3" cy="281.2" r="2.3"/><circle cx="466.8" cy="280.9" r="2.3"/><circle cx="467.3" cy="278.4" r="2.3"/><circle cx="467.4" cy="279.0" r="2.3"/><circle cx="467.4" cy="280.7" r="2.3"/><circle cx="467.4" cy="280.6" r="2.3"/><circle cx="468.1" cy="281.8" r="2.3"/><circle cx="468.6" cy="281.0" r="2.3"/><circle cx="468.7" cy="278.0" r="2.3"/><circle cx="468.7" cy="281.8" r="2.3"/><circle cx="468.9" cy="278.7" r="2.3"/><circle cx="469.2" cy="280.2" r="2.3"/><circle cx="469.8" cy="279.4" r="2.3"/><circle cx="469.8" cy="279.1" r="2.3"/><circle cx="470.0" cy="276.6" r="2.3"/><circle cx="470.2" cy="278.3" r="2.3"/><circle cx="470.6" cy="277.8" r="2.3"/><circle cx="471.0" cy="277.0" r="2.3"/><circle cx="471.2" cy="280.9" r="2.3"/><circle cx="471.2" cy="275.7" r="2.3"/><circle cx="471.4" cy="280.0" r="2.3"/><circle cx="471.4" cy="278.8" r="2.3"/><circle cx="472.1" cy="276.7" r="2.3"/><circle cx="473.4" cy="278.2" r="2.3"/><circle cx="473.8" cy="278.6" r="2.3"/><circle cx="474.5" cy="274.5" r="2.3"/><circle cx="475.1" cy="276.0" r="2.3"/><circle cx="475.3" cy="274.3" r="2.3"/><circle cx="475.3" cy="274.8" r="2.3"/><circle cx="475.7" cy="275.5" r="2.3"/><circle cx="475.7" cy="273.1" r="2.3"/><circle cx="475.9" cy="275.4" r="2.3"/><circle cx="476.2" cy="272.4" r="2.3"/><circle cx="476.3" cy="276.0" r="2.3"/><circle cx="476.6" cy="275.9" r="2.3"/><circle cx="477.2" cy="275.1" r="2.3"/><circle cx="477.7" cy="273.6" r="2.3"/><circle cx="478.0" cy="275.1" r="2.3"/><circle cx="478.3" cy="274.4" r="2.3"/><circle cx="478.4" cy="271.7" r="2.3"/><circle cx="478.6" cy="273.1" r="2.3"/><circle cx="478.7" cy="271.9" r="2.3"/><circle cx="479.0" cy="272.6" r="2.3"/><circle cx="479.3" cy="273.6" r="2.3"/><circle cx="479.5" cy="273.7" r="2.3"/><circle cx="479.9" cy="272.3" r="2.3"/><circle cx="480.8" cy="271.9" r="2.3"/><circle cx="480.9" cy="272.5" r="2.3"/><circle cx="481.1" cy="272.4" r="2.3"/><circle cx="481.7" cy="269.5" r="2.3"/><circle cx="481.9" cy="270.0" r="2.3"/><circle cx="482.1" cy="270.8" r="2.3"/><circle cx="482.3" cy="271.4" r="2.3"/><circle cx="482.4" cy="271.5" r="2.3"/><circle cx="482.8" cy="268.2" r="2.3"/><circle cx="482.8" cy="271.4" r="2.3"/><circle cx="483.3" cy="267.4" r="2.3"/><circle cx="483.4" cy="271.1" r="2.3"/><circle cx="483.5" cy="272.1" r="2.3"/><circle cx="484.5" cy="267.1" r="2.3"/><circle cx="485.4" cy="269.1" r="2.3"/><circle cx="486.3" cy="266.6" r="2.3"/><circle cx="486.8" cy="267.6" r="2.3"/><circle cx="487.0" cy="268.3" r="2.3"/><circle cx="487.3" cy="266.6" r="2.3"/><circle cx="487.4" cy="268.1" r="2.3"/><circle cx="487.7" cy="267.0" r="2.3"/><circle cx="487.8" cy="267.7" r="2.3"/><circle cx="487.9" cy="269.6" r="2.3"/><circle cx="488.0" cy="266.9" r="2.3"/><circle cx="489.0" cy="267.4" r="2.3"/><circle cx="489.3" cy="266.7" r="2.3"/><circle cx="489.3" cy="266.0" r="2.3"/><circle cx="489.6" cy="268.1" r="2.3"/><circle cx="490.1" cy="265.4" r="2.3"/><circle cx="490.3" cy="265.2" r="2.3"/><circle cx="490.5" cy="263.4" r="2.3"/><circle cx="490.9" cy="264.5" r="2.3"/><circle cx="491.2" cy="264.9" r="2.3"/><circle cx="491.6" cy="265.9" r="2.3"/><circle cx="492.2" cy="264.7" r="2.3"/><circle cx="492.3" cy="266.4" r="2.3"/><circle cx="492.8" cy="263.8" r="2.3"/><circle cx="492.9" cy="264.5" r="2.3"/><circle cx="493.1" cy="264.6" r="2.3"/><circle cx="493.2" cy="264.1" r="2.3"/><circle cx="493.2" cy="263.5" r="2.3"/><circle cx="493.4" cy="263.6" r="2.3"/><circle cx="493.8" cy="265.2" r="2.3"/><circle cx="493.8" cy="262.1" r="2.3"/><circle cx="493.8" cy="263.6" r="2.3"/><circle cx="494.3" cy="263.0" r="2.3"/><circle cx="494.4" cy="263.3" r="2.3"/><circle cx="494.8" cy="264.3" r="2.3"/><circle cx="494.8" cy="262.7" r="2.3"/><circle cx="494.9" cy="263.5" r="2.3"/><circle cx="496.6" cy="263.0" r="2.3"/><circle cx="496.7" cy="261.7" r="2.3"/><circle cx="496.8" cy="260.8" r="2.3"/><circle cx="497.2" cy="260.8" r="2.3"/><circle cx="498.2" cy="260.7" r="2.3"/><circle cx="498.4" cy="261.6" r="2.3"/><circle cx="498.5" cy="261.1" r="2.3"/><circle cx="498.5" cy="260.9" r="2.3"/><circle cx="498.5" cy="262.5" r="2.3"/><circle cx="498.9" cy="259.5" r="2.3"/><circle cx="499.2" cy="260.1" r="2.3"/><circle cx="499.5" cy="261.7" r="2.3"/><circle cx="499.5" cy="258.2" r="2.3"/><circle cx="499.9" cy="257.4" r="2.3"/><circle cx="500.2" cy="261.3" r="2.3"/><circle cx="500.3" cy="259.8" r="2.3"/><circle cx="500.7" cy="260.3" r="2.3"/><circle cx="500.9" cy="258.2" r="2.3"/><circle cx="501.0" cy="260.8" r="2.3"/><circle cx="501.0" cy="258.5" r="2.3"/><circle cx="501.4" cy="258.4" r="2.3"/><circle cx="501.7" cy="257.3" r="2.3"/><circle cx="502.0" cy="260.9" r="2.3"/><circle cx="502.0" cy="259.4" r="2.3"/><circle cx="502.5" cy="258.4" r="2.3"/><circle cx="502.6" cy="257.0" r="2.3"/><circle cx="503.6" cy="257.4" r="2.3"/><circle cx="504.0" cy="256.3" r="2.3"/><circle cx="504.1" cy="256.6" r="2.3"/><circle cx="504.4" cy="258.1" r="2.3"/><circle cx="504.6" cy="257.0" r="2.3"/><circle cx="504.9" cy="257.2" r="2.3"/><circle cx="504.9" cy="257.1" r="2.3"/><circle cx="505.5" cy="257.4" r="2.3"/><circle cx="506.2" cy="254.9" r="2.3"/><circle cx="506.3" cy="255.4" r="2.3"/><circle cx="506.9" cy="257.8" r="2.3"/><circle cx="507.2" cy="254.3" r="2.3"/><circle cx="507.4" cy="255.8" r="2.3"/><circle cx="508.1" cy="256.5" r="2.3"/><circle cx="508.3" cy="253.0" r="2.3"/><circle cx="508.8" cy="254.2" r="2.3"/><circle cx="509.0" cy="253.6" r="2.3"/><circle cx="509.3" cy="254.1" r="2.3"/><circle cx="509.4" cy="253.8" r="2.3"/><circle cx="509.7" cy="255.9" r="2.3"/><circle cx="509.7" cy="252.7" r="2.3"/><circle cx="509.8" cy="254.5" r="2.3"/><circle cx="510.1" cy="253.3" r="2.3"/><circle cx="510.3" cy="253.3" r="2.3"/><circle cx="510.3" cy="254.4" r="2.3"/><circle cx="510.7" cy="254.6" r="2.3"/><circle cx="511.0" cy="253.0" r="2.3"/><circle cx="511.2" cy="251.1" r="2.3"/><circle cx="512.3" cy="252.8" r="2.3"/><circle cx="512.4" cy="252.7" r="2.3"/><circle cx="513.2" cy="251.3" r="2.3"/><circle cx="513.6" cy="251.8" r="2.3"/><circle cx="514.1" cy="249.2" r="2.3"/><circle cx="514.4" cy="250.1" r="2.3"/><circle cx="514.4" cy="247.5" r="2.3"/><circle cx="514.6" cy="250.2" r="2.3"/><circle cx="514.7" cy="247.6" r="2.3"/><circle cx="514.9" cy="251.0" r="2.3"/><circle cx="515.1" cy="249.9" r="2.3"/><circle cx="515.1" cy="251.5" r="2.3"/><circle cx="515.4" cy="250.4" r="2.3"/><circle cx="515.4" cy="250.3" r="2.3"/><circle cx="515.8" cy="249.0" r="2.3"/><circle cx="516.3" cy="247.7" r="2.3"/><circle cx="516.4" cy="249.7" r="2.3"/><circle cx="516.6" cy="251.0" r="2.3"/><circle cx="516.7" cy="249.2" r="2.3"/><circle cx="516.7" cy="249.3" r="2.3"/><circle cx="517.1" cy="249.5" r="2.3"/><circle cx="517.6" cy="247.5" r="2.3"/><circle cx="517.7" cy="247.1" r="2.3"/><circle cx="518.1" cy="249.1" r="2.3"/><circle cx="518.4" cy="248.9" r="2.3"/><circle cx="518.6" cy="251.1" r="2.3"/><circle cx="518.8" cy="248.5" r="2.3"/><circle cx="518.9" cy="246.6" r="2.3"/><circle cx="519.1" cy="248.7" r="2.3"/><circle cx="519.3" cy="246.3" r="2.3"/><circle cx="519.4" cy="246.5" r="2.3"/><circle cx="519.5" cy="246.6" r="2.3"/><circle cx="519.5" cy="246.5" r="2.3"/><circle cx="520.0" cy="247.1" r="2.3"/><circle cx="520.3" cy="245.5" r="2.3"/><circle cx="520.4" cy="245.4" r="2.3"/><circle cx="520.4" cy="246.3" r="2.3"/><circle cx="520.5" cy="246.7" r="2.3"/><circle cx="520.6" cy="245.0" r="2.3"/><circle cx="520.7" cy="244.6" r="2.3"/><circle cx="520.8" cy="247.3" r="2.3"/><circle cx="521.0" cy="245.3" r="2.3"/><circle cx="522.9" cy="245.1" r="2.3"/><circle cx="523.2" cy="242.0" r="2.3"/><circle cx="523.2" cy="245.3" r="2.3"/><circle cx="523.3" cy="245.6" r="2.3"/><circle cx="523.4" cy="245.9" r="2.3"/><circle cx="523.9" cy="243.3" r="2.3"/><circle cx="524.0" cy="245.8" r="2.3"/><circle cx="524.0" cy="243.6" r="2.3"/><circle cx="524.2" cy="245.0" r="2.3"/><circle cx="524.2" cy="242.6" r="2.3"/><circle cx="524.2" cy="242.3" r="2.3"/><circle cx="524.7" cy="242.5" r="2.3"/><circle cx="524.8" cy="246.3" r="2.3"/><circle cx="525.2" cy="245.5" r="2.3"/><circle cx="525.2" cy="247.0" r="2.3"/><circle cx="525.4" cy="240.2" r="2.3"/><circle cx="525.7" cy="244.1" r="2.3"/><circle cx="526.1" cy="243.6" r="2.3"/><circle cx="526.2" cy="243.0" r="2.3"/><circle cx="527.3" cy="241.6" r="2.3"/><circle cx="527.3" cy="242.7" r="2.3"/><circle cx="527.7" cy="242.0" r="2.3"/><circle cx="528.4" cy="241.7" r="2.3"/><circle cx="529.7" cy="242.4" r="2.3"/><circle cx="530.0" cy="238.3" r="2.3"/><circle cx="530.3" cy="238.3" r="2.3"/><circle cx="530.8" cy="240.0" r="2.3"/><circle cx="530.9" cy="240.2" r="2.3"/><circle cx="530.9" cy="237.7" r="2.3"/><circle cx="530.9" cy="237.0" r="2.3"/><circle cx="531.0" cy="239.9" r="2.3"/><circle cx="531.3" cy="239.0" r="2.3"/><circle cx="531.7" cy="240.1" r="2.3"/><circle cx="531.7" cy="239.1" r="2.3"/><circle cx="531.8" cy="242.6" r="2.3"/><circle cx="531.8" cy="242.2" r="2.3"/><circle cx="531.9" cy="238.8" r="2.3"/><circle cx="532.0" cy="239.6" r="2.3"/><circle cx="532.1" cy="238.7" r="2.3"/><circle cx="532.2" cy="239.1" r="2.3"/><circle cx="533.4" cy="237.7" r="2.3"/><circle cx="533.5" cy="238.0" r="2.3"/><circle cx="533.6" cy="238.5" r="2.3"/><circle cx="534.5" cy="237.2" r="2.3"/><circle cx="535.0" cy="238.2" r="2.3"/><circle cx="535.1" cy="235.6" r="2.3"/><circle cx="535.3" cy="238.4" r="2.3"/><circle cx="535.7" cy="237.5" r="2.3"/><circle cx="535.8" cy="235.8" r="2.3"/><circle cx="536.6" cy="236.8" r="2.3"/><circle cx="537.0" cy="234.9" r="2.3"/><circle cx="537.0" cy="234.3" r="2.3"/><circle cx="538.1" cy="234.4" r="2.3"/><circle cx="546.0" cy="231.2" r="2.3"/><circle cx="546.6" cy="231.6" r="2.3"/><circle cx="546.6" cy="229.8" r="2.3"/><circle cx="547.4" cy="228.1" r="2.3"/><circle cx="547.5" cy="227.7" r="2.3"/><circle cx="547.7" cy="229.5" r="2.3"/><circle cx="548.1" cy="231.3" r="2.3"/><circle cx="548.2" cy="228.6" r="2.3"/><circle cx="548.4" cy="229.2" r="2.3"/><circle cx="548.6" cy="228.1" r="2.3"/><circle cx="548.9" cy="227.3" r="2.3"/><circle cx="549.4" cy="228.9" r="2.3"/><circle cx="549.6" cy="229.1" r="2.3"/><circle cx="550.3" cy="228.3" r="2.3"/><circle cx="550.5" cy="228.5" r="2.3"/><circle cx="550.5" cy="228.9" r="2.3"/><circle cx="550.5" cy="227.3" r="2.3"/><circle cx="550.8" cy="228.4" r="2.3"/><circle cx="551.0" cy="227.6" r="2.3"/><circle cx="552.1" cy="227.0" r="2.3"/><circle cx="552.3" cy="227.3" r="2.3"/><circle cx="552.8" cy="225.4" r="2.3"/><circle cx="553.0" cy="226.6" r="2.3"/><circle cx="553.4" cy="225.9" r="2.3"/><circle cx="553.7" cy="224.6" r="2.3"/><circle cx="553.9" cy="225.7" r="2.3"/><circle cx="554.5" cy="227.0" r="2.3"/><circle cx="554.5" cy="225.7" r="2.3"/><circle cx="554.6" cy="225.7" r="2.3"/><circle cx="555.1" cy="224.0" r="2.3"/><circle cx="555.1" cy="222.6" r="2.3"/><circle cx="555.2" cy="224.4" r="2.3"/><circle cx="555.6" cy="224.6" r="2.3"/><circle cx="555.6" cy="222.6" r="2.3"/><circle cx="555.9" cy="225.1" r="2.3"/><circle cx="556.2" cy="223.6" r="2.3"/><circle cx="556.4" cy="223.3" r="2.3"/><circle cx="556.6" cy="223.8" r="2.3"/><circle cx="557.0" cy="223.8" r="2.3"/><circle cx="557.0" cy="223.3" r="2.3"/><circle cx="557.1" cy="221.6" r="2.3"/><circle cx="557.3" cy="222.6" r="2.3"/><circle cx="557.4" cy="224.0" r="2.3"/><circle cx="558.1" cy="222.5" r="2.3"/><circle cx="559.4" cy="220.8" r="2.3"/><circle cx="559.6" cy="219.7" r="2.3"/><circle cx="559.6" cy="220.9" r="2.3"/><circle cx="559.7" cy="221.6" r="2.3"/><circle cx="559.8" cy="220.0" r="2.3"/><circle cx="560.0" cy="220.6" r="2.3"/><circle cx="560.2" cy="221.3" r="2.3"/><circle cx="560.3" cy="222.3" r="2.3"/><circle cx="560.3" cy="221.3" r="2.3"/><circle cx="560.9" cy="219.9" r="2.3"/><circle cx="561.2" cy="222.2" r="2.3"/><circle cx="561.5" cy="222.6" r="2.3"/><circle cx="562.1" cy="219.7" r="2.3"/><circle cx="562.5" cy="222.0" r="2.3"/><circle cx="562.5" cy="221.7" r="2.3"/><circle cx="562.5" cy="220.3" r="2.3"/><circle cx="562.6" cy="220.2" r="2.3"/><circle cx="562.6" cy="219.9" r="2.3"/><circle cx="563.0" cy="219.6" r="2.3"/><circle cx="563.4" cy="218.8" r="2.3"/><circle cx="563.4" cy="219.6" r="2.3"/><circle cx="563.7" cy="220.3" r="2.3"/><circle cx="563.9" cy="222.7" r="2.3"/><circle cx="564.6" cy="217.2" r="2.3"/><circle cx="564.8" cy="217.7" r="2.3"/><circle cx="565.2" cy="217.6" r="2.3"/><circle cx="565.5" cy="218.2" r="2.3"/><circle cx="565.8" cy="219.1" r="2.3"/><circle cx="566.1" cy="217.2" r="2.3"/><circle cx="566.4" cy="217.7" r="2.3"/><circle cx="566.5" cy="219.2" r="2.3"/><circle cx="566.8" cy="216.1" r="2.3"/><circle cx="567.0" cy="219.0" r="2.3"/><circle cx="567.9" cy="217.2" r="2.3"/><circle cx="568.5" cy="214.1" r="2.3"/><circle cx="568.6" cy="217.2" r="2.3"/><circle cx="568.7" cy="215.9" r="2.3"/><circle cx="568.8" cy="214.8" r="2.3"/><circle cx="569.0" cy="215.9" r="2.3"/><circle cx="569.1" cy="217.7" r="2.3"/><circle cx="569.6" cy="216.2" r="2.3"/><circle cx="569.6" cy="215.6" r="2.3"/><circle cx="570.0" cy="217.2" r="2.3"/><circle cx="570.0" cy="213.5" r="2.3"/><circle cx="570.1" cy="214.9" r="2.3"/><circle cx="570.2" cy="214.3" r="2.3"/><circle cx="570.3" cy="214.8" r="2.3"/><circle cx="570.6" cy="214.5" r="2.3"/><circle cx="570.7" cy="215.4" r="2.3"/><circle cx="571.1" cy="216.5" r="2.3"/><circle cx="571.5" cy="213.6" r="2.3"/><circle cx="571.6" cy="214.3" r="2.3"/><circle cx="572.0" cy="212.1" r="2.3"/><circle cx="572.1" cy="215.5" r="2.3"/><circle cx="572.3" cy="213.7" r="2.3"/><circle cx="572.6" cy="211.0" r="2.3"/><circle cx="572.6" cy="215.4" r="2.3"/><circle cx="573.0" cy="214.9" r="2.3"/><circle cx="573.2" cy="213.0" r="2.3"/><circle cx="573.3" cy="211.1" r="2.3"/><circle cx="573.5" cy="214.6" r="2.3"/><circle cx="573.7" cy="212.9" r="2.3"/><circle cx="574.4" cy="212.8" r="2.3"/><circle cx="574.6" cy="213.1" r="2.3"/><circle cx="574.7" cy="212.7" r="2.3"/><circle cx="574.8" cy="210.8" r="2.3"/><circle cx="575.2" cy="211.9" r="2.3"/><circle cx="575.2" cy="213.7" r="2.3"/><circle cx="575.2" cy="212.8" r="2.3"/><circle cx="575.4" cy="211.9" r="2.3"/><circle cx="575.9" cy="213.3" r="2.3"/><circle cx="576.2" cy="212.3" r="2.3"/><circle cx="576.5" cy="211.7" r="2.3"/><circle cx="576.6" cy="213.8" r="2.3"/><circle cx="577.0" cy="208.7" r="2.3"/><circle cx="577.3" cy="212.8" r="2.3"/><circle cx="577.9" cy="210.3" r="2.3"/><circle cx="578.4" cy="210.3" r="2.3"/><circle cx="578.6" cy="210.7" r="2.3"/><circle cx="579.3" cy="207.9" r="2.3"/><circle cx="579.5" cy="209.3" r="2.3"/><circle cx="579.5" cy="210.4" r="2.3"/><circle cx="579.6" cy="207.8" r="2.3"/><circle cx="579.9" cy="208.4" r="2.3"/><circle cx="580.1" cy="210.2" r="2.3"/><circle cx="580.4" cy="210.7" r="2.3"/><circle cx="580.6" cy="207.5" r="2.3"/><circle cx="580.7" cy="208.7" r="2.3"/><circle cx="580.9" cy="210.3" r="2.3"/><circle cx="580.9" cy="207.8" r="2.3"/><circle cx="581.1" cy="210.1" r="2.3"/><circle cx="581.1" cy="209.2" r="2.3"/><circle cx="581.3" cy="209.2" r="2.3"/><circle cx="581.4" cy="210.6" r="2.3"/><circle cx="581.5" cy="207.2" r="2.3"/><circle cx="582.3" cy="203.2" r="2.3"/><circle cx="582.3" cy="206.7" r="2.3"/><circle cx="582.7" cy="206.8" r="2.3"/><circle cx="582.8" cy="207.5" r="2.3"/><circle cx="583.2" cy="207.1" r="2.3"/><circle cx="583.5" cy="206.4" r="2.3"/><circle cx="584.0" cy="205.7" r="2.3"/><circle cx="584.5" cy="206.8" r="2.3"/><circle cx="585.2" cy="205.7" r="2.3"/><circle cx="585.5" cy="205.8" r="2.3"/><circle cx="585.9" cy="204.6" r="2.3"/><circle cx="586.1" cy="204.0" r="2.3"/><circle cx="586.3" cy="203.6" r="2.3"/><circle cx="586.4" cy="205.5" r="2.3"/><circle cx="586.5" cy="205.5" r="2.3"/><circle cx="586.6" cy="203.9" r="2.3"/><circle cx="587.0" cy="204.9" r="2.3"/><circle cx="587.0" cy="204.8" r="2.3"/><circle cx="587.0" cy="203.9" r="2.3"/><circle cx="587.3" cy="203.9" r="2.3"/><circle cx="588.0" cy="202.2" r="2.3"/><circle cx="588.5" cy="205.0" r="2.3"/><circle cx="588.7" cy="202.0" r="2.3"/><circle cx="588.8" cy="203.9" r="2.3"/><circle cx="589.1" cy="202.3" r="2.3"/><circle cx="589.3" cy="204.7" r="2.3"/><circle cx="589.6" cy="203.0" r="2.3"/><circle cx="589.9" cy="203.4" r="2.3"/><circle cx="590.3" cy="200.2" r="2.3"/><circle cx="590.5" cy="203.5" r="2.3"/><circle cx="590.7" cy="200.7" r="2.3"/><circle cx="590.8" cy="203.0" r="2.3"/><circle cx="590.9" cy="203.4" r="2.3"/><circle cx="591.2" cy="201.4" r="2.3"/><circle cx="591.3" cy="200.4" r="2.3"/><circle cx="593.2" cy="200.6" r="2.3"/><circle cx="594.1" cy="199.2" r="2.3"/><circle cx="594.6" cy="199.4" r="2.3"/><circle cx="594.6" cy="199.7" r="2.3"/><circle cx="594.8" cy="197.8" r="2.3"/><circle cx="595.5" cy="199.0" r="2.3"/><circle cx="595.6" cy="197.9" r="2.3"/><circle cx="596.6" cy="199.8" r="2.3"/><circle cx="597.7" cy="197.9" r="2.3"/><circle cx="598.4" cy="196.0" r="2.3"/><circle cx="598.7" cy="197.6" r="2.3"/><circle cx="599.4" cy="199.2" r="2.3"/><circle cx="599.6" cy="195.5" r="2.3"/><circle cx="600.2" cy="195.3" r="2.3"/><circle cx="600.3" cy="196.4" r="2.3"/><circle cx="601.0" cy="195.4" r="2.3"/><circle cx="601.2" cy="195.8" r="2.3"/><circle cx="601.8" cy="194.6" r="2.3"/><circle cx="602.0" cy="193.5" r="2.3"/><circle cx="602.9" cy="193.9" r="2.3"/><circle cx="603.1" cy="194.3" r="2.3"/><circle cx="603.1" cy="194.8" r="2.3"/><circle cx="603.3" cy="194.2" r="2.3"/><circle cx="603.5" cy="194.6" r="2.3"/><circle cx="603.6" cy="192.7" r="2.3"/><circle cx="603.7" cy="195.1" r="2.3"/><circle cx="603.8" cy="194.5" r="2.3"/><circle cx="604.7" cy="192.8" r="2.3"/><circle cx="604.8" cy="192.7" r="2.3"/><circle cx="605.2" cy="192.5" r="2.3"/><circle cx="605.5" cy="193.2" r="2.3"/><circle cx="605.8" cy="192.2" r="2.3"/><circle cx="607.0" cy="193.5" r="2.3"/><circle cx="607.2" cy="193.4" r="2.3"/><circle cx="607.7" cy="192.9" r="2.3"/><circle cx="607.8" cy="190.7" r="2.3"/><circle cx="608.0" cy="189.3" r="2.3"/><circle cx="608.3" cy="191.4" r="2.3"/><circle cx="608.3" cy="191.6" r="2.3"/><circle cx="609.0" cy="190.8" r="2.3"/><circle cx="609.2" cy="188.0" r="2.3"/><circle cx="609.6" cy="189.7" r="2.3"/><circle cx="609.7" cy="189.9" r="2.3"/><circle cx="609.8" cy="190.6" r="2.3"/><circle cx="610.1" cy="189.1" r="2.3"/><circle cx="610.6" cy="187.8" r="2.3"/><circle cx="610.6" cy="189.1" r="2.3"/><circle cx="610.8" cy="190.3" r="2.3"/><circle cx="611.2" cy="187.4" r="2.3"/><circle cx="611.7" cy="188.7" r="2.3"/><circle cx="611.8" cy="186.4" r="2.3"/><circle cx="612.1" cy="189.7" r="2.3"/><circle cx="612.2" cy="188.5" r="2.3"/><circle cx="612.4" cy="187.9" r="2.3"/><circle cx="612.7" cy="190.2" r="2.3"/><circle cx="613.1" cy="187.7" r="2.3"/><circle cx="613.1" cy="187.0" r="2.3"/><circle cx="613.2" cy="187.9" r="2.3"/><circle cx="613.4" cy="187.1" r="2.3"/><circle cx="613.6" cy="187.2" r="2.3"/><circle cx="613.8" cy="188.4" r="2.3"/><circle cx="613.8" cy="186.4" r="2.3"/><circle cx="614.3" cy="188.0" r="2.3"/><circle cx="614.3" cy="187.4" r="2.3"/><circle cx="614.3" cy="187.9" r="2.3"/><circle cx="614.8" cy="185.9" r="2.3"/><circle cx="614.9" cy="187.2" r="2.3"/><circle cx="616.2" cy="186.4" r="2.3"/><circle cx="616.4" cy="188.4" r="2.3"/><circle cx="616.8" cy="185.8" r="2.3"/><circle cx="617.3" cy="183.9" r="2.3"/><circle cx="617.4" cy="187.7" r="2.3"/><circle cx="617.4" cy="184.6" r="2.3"/><circle cx="617.7" cy="184.9" r="2.3"/><circle cx="617.9" cy="186.9" r="2.3"/><circle cx="618.5" cy="184.9" r="2.3"/><circle cx="618.7" cy="183.1" r="2.3"/><circle cx="618.7" cy="184.3" r="2.3"/><circle cx="619.4" cy="183.4" r="2.3"/><circle cx="621.0" cy="181.4" r="2.3"/><circle cx="621.2" cy="183.0" r="2.3"/><circle cx="621.3" cy="181.5" r="2.3"/><circle cx="621.6" cy="184.0" r="2.3"/><circle cx="621.7" cy="183.4" r="2.3"/><circle cx="621.9" cy="180.4" r="2.3"/><circle cx="622.1" cy="180.4" r="2.3"/><circle cx="622.4" cy="180.7" r="2.3"/><circle cx="622.6" cy="183.6" r="2.3"/><circle cx="623.0" cy="181.8" r="2.3"/><circle cx="623.9" cy="182.0" r="2.3"/><circle cx="624.0" cy="178.5" r="2.3"/><circle cx="624.2" cy="182.4" r="2.3"/><circle cx="624.5" cy="182.1" r="2.3"/><circle cx="625.7" cy="180.5" r="2.3"/><circle cx="625.8" cy="179.3" r="2.3"/><circle cx="625.9" cy="180.4" r="2.3"/><circle cx="625.9" cy="180.0" r="2.3"/><circle cx="625.9" cy="179.3" r="2.3"/><circle cx="626.5" cy="179.2" r="2.3"/><circle cx="626.7" cy="181.5" r="2.3"/><circle cx="627.5" cy="180.2" r="2.3"/><circle cx="627.6" cy="176.5" r="2.3"/><circle cx="628.2" cy="178.1" r="2.3"/><circle cx="628.2" cy="175.9" r="2.3"/><circle cx="628.2" cy="176.4" r="2.3"/><circle cx="629.2" cy="176.2" r="2.3"/><circle cx="629.5" cy="177.2" r="2.3"/><circle cx="630.6" cy="174.7" r="2.3"/><circle cx="631.0" cy="176.9" r="2.3"/><circle cx="631.1" cy="173.6" r="2.3"/><circle cx="632.0" cy="175.0" r="2.3"/><circle cx="632.1" cy="174.9" r="2.3"/><circle cx="632.4" cy="175.9" r="2.3"/><circle cx="632.5" cy="176.1" r="2.3"/><circle cx="633.0" cy="175.4" r="2.3"/><circle cx="633.1" cy="175.7" r="2.3"/><circle cx="633.2" cy="176.0" r="2.3"/><circle cx="634.1" cy="175.7" r="2.3"/><circle cx="634.2" cy="174.0" r="2.3"/><circle cx="634.3" cy="172.8" r="2.3"/><circle cx="635.0" cy="171.4" r="2.3"/><circle cx="635.4" cy="172.6" r="2.3"/><circle cx="635.4" cy="173.7" r="2.3"/><circle cx="635.4" cy="172.8" r="2.3"/><circle cx="635.5" cy="171.4" r="2.3"/><circle cx="635.5" cy="173.3" r="2.3"/><circle cx="635.7" cy="172.1" r="2.3"/><circle cx="635.9" cy="172.7" r="2.3"/><circle cx="636.2" cy="172.8" r="2.3"/><circle cx="636.6" cy="173.5" r="2.3"/><circle cx="636.9" cy="171.7" r="2.3"/><circle cx="637.4" cy="173.2" r="2.3"/><circle cx="637.7" cy="173.2" r="2.3"/><circle cx="637.8" cy="171.6" r="2.3"/><circle cx="638.1" cy="170.6" r="2.3"/><circle cx="638.1" cy="170.6" r="2.3"/><circle cx="638.6" cy="170.4" r="2.3"/><circle cx="638.6" cy="171.8" r="2.3"/><circle cx="639.4" cy="171.1" r="2.3"/><circle cx="639.8" cy="169.3" r="2.3"/><circle cx="639.9" cy="168.1" r="2.3"/><circle cx="639.9" cy="174.0" r="2.3"/><circle cx="639.9" cy="169.1" r="2.3"/><circle cx="640.0" cy="170.3" r="2.3"/><circle cx="640.2" cy="170.5" r="2.3"/><circle cx="640.5" cy="171.2" r="2.3"/><circle cx="640.5" cy="171.0" r="2.3"/><circle cx="640.9" cy="171.5" r="2.3"/><circle cx="641.1" cy="169.6" r="2.3"/><circle cx="641.4" cy="170.9" r="2.3"/><circle cx="641.6" cy="169.8" r="2.3"/><circle cx="642.0" cy="171.2" r="2.3"/><circle cx="642.0" cy="167.8" r="2.3"/><circle cx="642.2" cy="168.3" r="2.3"/><circle cx="642.3" cy="170.6" r="2.3"/><circle cx="642.3" cy="168.6" r="2.3"/><circle cx="642.3" cy="169.6" r="2.3"/><circle cx="643.0" cy="169.8" r="2.3"/><circle cx="643.1" cy="168.6" r="2.3"/><circle cx="643.1" cy="167.6" r="2.3"/><circle cx="643.3" cy="166.6" r="2.3"/><circle cx="643.7" cy="167.9" r="2.3"/><circle cx="643.8" cy="166.8" r="2.3"/><circle cx="643.9" cy="167.3" r="2.3"/><circle cx="646.1" cy="165.9" r="2.3"/><circle cx="646.5" cy="165.2" r="2.3"/><circle cx="647.0" cy="167.9" r="2.3"/><circle cx="647.4" cy="166.4" r="2.3"/><circle cx="648.3" cy="163.5" r="2.3"/><circle cx="648.4" cy="166.9" r="2.3"/><circle cx="648.8" cy="166.1" r="2.3"/><circle cx="649.0" cy="162.6" r="2.3"/><circle cx="649.0" cy="166.1" r="2.3"/><circle cx="649.4" cy="164.5" r="2.3"/><circle cx="649.7" cy="164.2" r="2.3"/><circle cx="650.2" cy="164.5" r="2.3"/><circle cx="650.7" cy="162.7" r="2.3"/><circle cx="650.8" cy="162.7" r="2.3"/><circle cx="651.0" cy="164.5" r="2.3"/><circle cx="651.0" cy="161.5" r="2.3"/><circle cx="651.9" cy="164.1" r="2.3"/><circle cx="652.0" cy="163.6" r="2.3"/><circle cx="652.8" cy="162.7" r="2.3"/><circle cx="653.0" cy="162.1" r="2.3"/><circle cx="653.1" cy="163.7" r="2.3"/><circle cx="653.7" cy="161.6" r="2.3"/><circle cx="653.7" cy="164.7" r="2.3"/><circle cx="654.0" cy="162.4" r="2.3"/><circle cx="654.3" cy="162.7" r="2.3"/><circle cx="654.4" cy="162.4" r="2.3"/><circle cx="654.8" cy="161.4" r="2.3"/><circle cx="655.8" cy="160.4" r="2.3"/><circle cx="655.9" cy="161.6" r="2.3"/><circle cx="656.1" cy="160.5" r="2.3"/><circle cx="656.3" cy="162.2" r="2.3"/><circle cx="656.5" cy="160.7" r="2.3"/><circle cx="679.7" cy="146.8" r="2.3"/><circle cx="680.9" cy="144.8" r="2.3"/><circle cx="681.0" cy="144.2" r="2.3"/><circle cx="681.9" cy="145.3" r="2.3"/><circle cx="682.0" cy="143.6" r="2.3"/><circle cx="682.0" cy="144.8" r="2.3"/><circle cx="682.2" cy="142.2" r="2.3"/><circle cx="682.3" cy="146.7" r="2.3"/><circle cx="682.4" cy="143.8" r="2.3"/><circle cx="682.6" cy="142.3" r="2.3"/><circle cx="682.7" cy="144.1" r="2.3"/><circle cx="683.2" cy="144.7" r="2.3"/><circle cx="683.3" cy="144.4" r="2.3"/><circle cx="683.3" cy="142.6" r="2.3"/><circle cx="683.6" cy="143.8" r="2.3"/><circle cx="684.5" cy="141.2" r="2.3"/><circle cx="684.9" cy="142.2" r="2.3"/><circle cx="685.3" cy="142.7" r="2.3"/><circle cx="685.5" cy="142.4" r="2.3"/><circle cx="685.5" cy="141.3" r="2.3"/><circle cx="685.9" cy="140.3" r="2.3"/><circle cx="686.6" cy="142.2" r="2.3"/><circle cx="686.9" cy="142.5" r="2.3"/><circle cx="686.9" cy="142.4" r="2.3"/><circle cx="686.9" cy="140.3" r="2.3"/><circle cx="688.1" cy="137.9" r="2.3"/><circle cx="688.5" cy="140.6" r="2.3"/><circle cx="688.8" cy="138.9" r="2.3"/><circle cx="689.0" cy="140.1" r="2.3"/><circle cx="689.0" cy="138.5" r="2.3"/><circle cx="689.1" cy="141.4" r="2.3"/><circle cx="689.3" cy="138.7" r="2.3"/><circle cx="689.5" cy="140.9" r="2.3"/><circle cx="689.6" cy="140.3" r="2.3"/><circle cx="689.6" cy="138.8" r="2.3"/><circle cx="689.7" cy="139.5" r="2.3"/><circle cx="690.1" cy="139.0" r="2.3"/><circle cx="690.2" cy="138.2" r="2.3"/><circle cx="690.7" cy="138.3" r="2.3"/><circle cx="691.2" cy="136.4" r="2.3"/><circle cx="691.2" cy="137.3" r="2.3"/><circle cx="691.3" cy="139.2" r="2.3"/><circle cx="691.5" cy="138.1" r="2.3"/><circle cx="691.7" cy="138.6" r="2.3"/><circle cx="691.8" cy="138.3" r="2.3"/><circle cx="692.0" cy="135.5" r="2.3"/><circle cx="692.2" cy="138.6" r="2.3"/><circle cx="692.5" cy="135.8" r="2.3"/><circle cx="693.1" cy="135.1" r="2.3"/><circle cx="693.2" cy="133.5" r="2.3"/><circle cx="693.6" cy="136.7" r="2.3"/><circle cx="693.6" cy="136.3" r="2.3"/><circle cx="693.9" cy="136.1" r="2.3"/><circle cx="694.7" cy="136.4" r="2.3"/><circle cx="695.3" cy="133.4" r="2.3"/><circle cx="695.7" cy="132.9" r="2.3"/><circle cx="695.8" cy="138.2" r="2.3"/><circle cx="696.5" cy="135.3" r="2.3"/><circle cx="696.6" cy="133.3" r="2.3"/><circle cx="696.6" cy="136.1" r="2.3"/><circle cx="696.6" cy="135.6" r="2.3"/><circle cx="696.7" cy="134.7" r="2.3"/><circle cx="697.1" cy="134.5" r="2.3"/><circle cx="697.5" cy="134.4" r="2.3"/><circle cx="698.1" cy="134.0" r="2.3"/><circle cx="698.4" cy="131.3" r="2.3"/><circle cx="698.8" cy="136.3" r="2.3"/><circle cx="698.9" cy="133.9" r="2.3"/><circle cx="699.3" cy="134.5" r="2.3"/><circle cx="699.7" cy="132.5" r="2.3"/><circle cx="700.5" cy="132.8" r="2.3"/><circle cx="700.7" cy="131.6" r="2.3"/><circle cx="701.1" cy="131.9" r="2.3"/><circle cx="701.4" cy="128.8" r="2.3"/><circle cx="701.5" cy="133.3" r="2.3"/><circle cx="701.6" cy="132.2" r="2.3"/><circle cx="702.3" cy="130.0" r="2.3"/><circle cx="702.5" cy="131.5" r="2.3"/><circle cx="702.7" cy="130.7" r="2.3"/><circle cx="702.9" cy="132.7" r="2.3"/><circle cx="703.1" cy="129.7" r="2.3"/><circle cx="703.6" cy="130.5" r="2.3"/><circle cx="704.0" cy="129.4" r="2.3"/><circle cx="705.1" cy="130.5" r="2.3"/><circle cx="705.4" cy="129.9" r="2.3"/><circle cx="705.8" cy="130.0" r="2.3"/><circle cx="705.9" cy="126.8" r="2.3"/><circle cx="706.0" cy="131.0" r="2.3"/><circle cx="706.1" cy="128.2" r="2.3"/><circle cx="706.1" cy="128.4" r="2.3"/><circle cx="706.7" cy="126.8" r="2.3"/><circle cx="707.0" cy="127.8" r="2.3"/><circle cx="707.1" cy="129.5" r="2.3"/><circle cx="707.6" cy="127.2" r="2.3"/><circle cx="707.7" cy="129.9" r="2.3"/><circle cx="707.8" cy="126.4" r="2.3"/><circle cx="708.4" cy="127.4" r="2.3"/><circle cx="708.6" cy="128.1" r="2.3"/><circle cx="708.9" cy="127.6" r="2.3"/><circle cx="708.9" cy="126.2" r="2.3"/><circle cx="709.2" cy="128.9" r="2.3"/><circle cx="709.5" cy="124.5" r="2.3"/><circle cx="709.6" cy="127.4" r="2.3"/><circle cx="710.3" cy="124.2" r="2.3"/><circle cx="710.8" cy="125.6" r="2.3"/><circle cx="711.0" cy="123.2" r="2.3"/><circle cx="711.2" cy="127.1" r="2.3"/><circle cx="711.2" cy="124.4" r="2.3"/><circle cx="711.5" cy="125.4" r="2.3"/><circle cx="711.5" cy="126.1" r="2.3"/><circle cx="712.1" cy="123.9" r="2.3"/><circle cx="712.3" cy="125.1" r="2.3"/><circle cx="712.7" cy="125.5" r="2.3"/><circle cx="712.8" cy="124.8" r="2.3"/><circle cx="713.4" cy="125.1" r="2.3"/><circle cx="714.5" cy="123.7" r="2.3"/><circle cx="743.1" cy="108.1" r="2.3"/><circle cx="744.8" cy="104.2" r="2.3"/><circle cx="745.9" cy="102.7" r="2.3"/><circle cx="746.9" cy="103.5" r="2.3"/><circle cx="748.0" cy="100.4" r="2.3"/><circle cx="749.2" cy="102.4" r="2.3"/><circle cx="749.4" cy="101.2" r="2.3"/><circle cx="752.8" cy="97.6" r="2.3"/><circle cx="755.1" cy="97.3" r="2.3"/><circle cx="755.8" cy="98.2" r="2.3"/><circle cx="756.2" cy="96.5" r="2.3"/><circle cx="759.7" cy="95.2" r="2.3"/><circle cx="759.9" cy="93.2" r="2.3"/><circle cx="760.3" cy="93.3" r="2.3"/><circle cx="760.3" cy="94.6" r="2.3"/><circle cx="761.9" cy="92.7" r="2.3"/><circle cx="762.6" cy="90.7" r="2.3"/><circle cx="763.5" cy="90.9" r="2.3"/><circle cx="764.7" cy="90.5" r="2.3"/><circle cx="765.7" cy="91.1" r="2.3"/><circle cx="766.0" cy="91.4" r="2.3"/><circle cx="766.3" cy="91.4" r="2.3"/><circle cx="766.4" cy="89.1" r="2.3"/><circle cx="767.1" cy="91.4" r="2.3"/><circle cx="768.7" cy="88.4" r="2.3"/><circle cx="771.3" cy="85.3" r="2.3"/><circle cx="771.9" cy="88.9" r="2.3"/><circle cx="771.9" cy="86.5" r="2.3"/><circle cx="773.0" cy="87.5" r="2.3"/><circle cx="773.4" cy="86.2" r="2.3"/><circle cx="773.7" cy="85.2" r="2.3"/><circle cx="775.1" cy="86.1" r="2.3"/><circle cx="775.4" cy="86.4" r="2.3"/><circle cx="777.6" cy="83.8" r="2.3"/><circle cx="778.9" cy="82.2" r="2.3"/><circle cx="780.1" cy="82.2" r="2.3"/><circle cx="780.7" cy="82.6" r="2.3"/><circle cx="781.4" cy="80.0" r="2.3"/><circle cx="782.5" cy="81.6" r="2.3"/><circle cx="672.5" cy="150.0" r="2.3"/><circle cx="731.5" cy="112.5" r="2.3"/><circle cx="790.5" cy="75.0" r="2.3"/><circle cx="663.2" cy="155.9" r="2.3"/></g><g fill="#008000" fill-opacity="0.6" stroke="#008000" stroke-opacity="0.6" stroke-width="1"><circle cx="217.8" cy="438.9" r="2.3"/><circle cx="219.0" cy="437.7" r="2.3"/><circle cx="227.1" cy="434.5" r="2.3"/><circle cx="218.7" cy="436.9" r="2.3"/><circle cx="227.8" cy="433.1" r="2.3"/><circle cx="224.1" cy="434.5" r="2.3"/><circle cx="221.3" cy="438.4" r="2.3"/><circle cx="212.9" cy="442.2" r="2.3"/><circle cx="218.5" cy="438.9" r="2.3"/><circle cx="214.5" cy="439.8" r="2.3"/><circle cx="218.2" cy="436.1" r="2.3"/><circle cx="218.1" cy="438.6" r="2.3"/><circle cx="532.2" cy="240.3" r="2.3"/><circle cx="531.6" cy="239.7" r="2.3"/><circle cx="531.8" cy="237.5" r="2.3"/><circle cx="531.7" cy="238.8" r="2.3"/><circle cx="535.7" cy="236.9" r="2.3"/><circle cx="530.1" cy="240.1" r="2.3"/><circle cx="353.4" cy="355.2" r="2.3"/><circle cx="348.0" cy="356.6" r="2.3"/><circle cx="354.2" cy="351.6" r="2.3"/><circle cx="351.8" cy="353.8" r="2.3"/><circle cx="348.3" cy="355.6" r="2.3"/><circle cx="356.8" cy="350.9" r="2.3"/><circle cx="358.0" cy="350.3" r="2.3"/><circle cx="350.9" cy="354.8" r="2.3"/><circle cx="354.3" cy="352.8" r="2.3"/><circle cx="548.2" cy="228.4" r="2.3"/><circle cx="555.1" cy="225.0" r="2.3"/><circle cx="551.6" cy="226.9" r="2.3"/><circle cx="556.1" cy="225.7" r="2.3"/><circle cx="557.5" cy="223.5" r="2.3"/><circle cx="555.7" cy="225.2" r="2.3"/><circle cx="559.3" cy="221.7" r="2.3"/><circle cx="558.7" cy="223.0" r="2.3"/><circle cx="482.9" cy="270.2" r="2.3"/><circle cx="485.3" cy="268.6" r="2.3"/><circle cx="478.3" cy="275.5" r="2.3"/><circle cx="469.5" cy="278.4" r="2.3"/><circle cx="482.3" cy="271.9" r="2.3"/><circle cx="482.2" cy="271.2" r="2.3"/><circle cx="480.0" cy="271.4" r="2.3"/><circle cx="472.8" cy="276.6" r="2.3"/><circle cx="482.2" cy="271.2" r="2.3"/><circle cx="431.2" cy="303.3" r="2.3"/><circle cx="437.0" cy="298.9" r="2.3"/><circle cx="432.6" cy="301.7" r="2.3"/><circle cx="435.9" cy="299.7" r="2.3"/><circle cx="434.8" cy="300.5" r="2.3"/><circle cx="435.6" cy="298.1" r="2.3"/><circle cx="433.9" cy="300.5" r="2.3"/><circle cx="453.0" cy="288.3" r="2.3"/><circle cx="454.7" cy="287.7" r="2.3"/><circle cx="444.9" cy="294.4" r="2.3"/><circle cx="441.3" cy="295.2" r="2.3"/><circle cx="459.7" cy="286.4" r="2.3"/><circle cx="447.5" cy="294.3" r="2.3"/><circle cx="445.3" cy="294.9" r="2.3"/><circle cx="442.6" cy="296.7" r="2.3"/><circle cx="454.0" cy="289.3" r="2.3"/><circle cx="616.5" cy="185.5" r="2.3"/><circle cx="611.4" cy="187.9" r="2.3"/><circle cx="612.0" cy="188.9" r="2.3"/><circle cx="611.3" cy="188.4" r="2.3"/><circle cx="612.4" cy="187.6" r="2.3"/><circle cx="626.3" cy="179.1" r="2.3"/><circle cx="606.8" cy="190.7" r="2.3"/><circle cx="618.1" cy="184.0" r="2.3"/><circle cx="486.6" cy="268.3" r="2.3"/><circle cx="475.1" cy="275.6" r="2.3"/><circle cx="485.4" cy="270.9" r="2.3"/><circle cx="482.2" cy="272.9" r="2.3"/><circle cx="487.2" cy="265.9" r="2.3"/><circle cx="486.0" cy="269.0" r="2.3"/><circle cx="485.5" cy="267.5" r="2.3"/><circle cx="490.1" cy="264.5" r="2.3"/><circle cx="429.8" cy="304.4" r="2.3"/><circle cx="437.3" cy="299.5" r="2.3"/><circle cx="424.8" cy="307.6" r="2.3"/><circle cx="431.2" cy="303.2" r="2.3"/><circle cx="436.6" cy="301.5" r="2.3"/><circle cx="430.9" cy="303.4" r="2.3"/><circle cx="429.4" cy="304.6" r="2.3"/><circle cx="430.5" cy="304.6" r="2.3"/><circle cx="439.3" cy="298.4" r="2.3"/><circle cx="431.9" cy="301.4" r="2.3"/><circle cx="433.1" cy="302.2" r="2.3"/><circle cx="434.8" cy="298.0" r="2.3"/><circle cx="438.0" cy="298.2" r="2.3"/><circle cx="642.5" cy="170.3" r="2.3"/><circle cx="639.2" cy="169.5" r="2.3"/><circle cx="645.8" cy="166.7" r="2.3"/><circle cx="648.1" cy="166.2" r="2.3"/><circle cx="642.2" cy="168.7" r="2.3"/><circle cx="632.2" cy="174.6" r="2.3"/><circle cx="631.2" cy="176.9" r="2.3"/><circle cx="636.8" cy="173.9" r="2.3"/><circle cx="642.8" cy="169.3" r="2.3"/><circle cx="631.4" cy="175.9" r="2.3"/><circle cx="637.2" cy="173.6" r="2.3"/><circle cx="648.5" cy="164.4" r="2.3"/><circle cx="634.8" cy="172.9" r="2.3"/><circle cx="648.9" cy="163.8" r="2.3"/><circle cx="640.9" cy="170.8" r="2.3"/><circle cx="643.1" cy="169.4" r="2.3"/><circle cx="642.2" cy="169.9" r="2.3"/><circle cx="642.0" cy="169.9" r="2.3"/><circle cx="643.8" cy="168.1" r="2.3"/><circle cx="642.2" cy="169.8" r="2.3"/><circle cx="652.4" cy="161.8" r="2.3"/><circle cx="646.3" cy="167.6" r="2.3"/><circle cx="647.1" cy="166.3" r="2.3"/><circle cx="288.2" cy="394.3" r="2.3"/><circle cx="270.8" cy="404.2" r="2.3"/><circle cx="281.5" cy="397.2" r="2.3"/><circle cx="262.9" cy="411.4" r="2.3"/><circle cx="271.7" cy="406.5" r="2.3"/><circle cx="276.3" cy="401.2" r="2.3"/><circle cx="281.0" cy="398.0" r="2.3"/><circle cx="275.8" cy="400.6" r="2.3"/><circle cx="276.9" cy="404.5" r="2.3"/><circle cx="274.0" cy="404.2" r="2.3"/><circle cx="447.8" cy="293.3" r="2.3"/><circle cx="451.9" cy="291.1" r="2.3"/><circle cx="445.6" cy="294.1" r="2.3"/><circle cx="450.2" cy="291.5" r="2.3"/><circle cx="448.7" cy="293.0" r="2.3"/><circle cx="445.6" cy="295.1" r="2.3"/><circle cx="446.2" cy="292.7" r="2.3"/><circle cx="448.1" cy="291.3" r="2.3"/><circle cx="448.3" cy="293.6" r="2.3"/><circle cx="449.1" cy="291.9" r="2.3"/><circle cx="451.7" cy="292.6" r="2.3"/><circle cx="642.1" cy="169.3" r="2.3"/><circle cx="644.4" cy="166.5" r="2.3"/><circle cx="652.1" cy="165.2" r="2.3"/><circle cx="638.2" cy="172.7" r="2.3"/><circle cx="645.5" cy="167.4" r="2.3"/><circle cx="643.3" cy="168.0" r="2.3"/><circle cx="525.7" cy="243.7" r="2.3"/><circle cx="525.5" cy="244.4" r="2.3"/><circle cx="528.2" cy="240.9" r="2.3"/><circle cx="522.2" cy="244.2" r="2.3"/><circle cx="525.2" cy="242.9" r="2.3"/><circle cx="525.4" cy="243.8" r="2.3"/><circle cx="527.9" cy="243.1" r="2.3"/><circle cx="254.3" cy="416.2" r="2.3"/><circle cx="250.4" cy="419.0" r="2.3"/><circle cx="255.0" cy="415.2" r="2.3"/><circle cx="250.9" cy="418.6" r="2.3"/><circle cx="260.5" cy="410.5" r="2.3"/><circle cx="246.6" cy="419.6" r="2.3"/><circle cx="254.5" cy="415.5" r="2.3"/><circle cx="254.0" cy="417.5" r="2.3"/><circle cx="263.8" cy="407.8" r="2.3"/><circle cx="252.2" cy="417.3" r="2.3"/><circle cx="459.5" cy="284.9" r="2.3"/><circle cx="461.3" cy="285.5" r="2.3"/><circle cx="460.0" cy="285.9" r="2.3"/><circle cx="459.6" cy="285.8" r="2.3"/><circle cx="463.0" cy="283.7" r="2.3"/><circle cx="456.8" cy="285.7" r="2.3"/><circle cx="535.7" cy="236.5" r="2.3"/><circle cx="528.9" cy="241.3" r="2.3"/><circle cx="531.8" cy="239.6" r="2.3"/><circle cx="537.2" cy="236.5" r="2.3"/><circle cx="527.4" cy="241.9" r="2.3"/><circle cx="537.5" cy="234.8" r="2.3"/><circle cx="539.0" cy="234.7" r="2.3"/><circle cx="535.2" cy="237.4" r="2.3"/><circle cx="535.0" cy="238.1" r="2.3"/><circle cx="533.4" cy="237.7" r="2.3"/><circle cx="537.5" cy="234.7" r="2.3"/><circle cx="557.9" cy="222.5" r="2.3"/><circle cx="555.2" cy="225.6" r="2.3"/><circle cx="563.1" cy="220.0" r="2.3"/><circle cx="564.4" cy="218.8" r="2.3"/><circle cx="557.4" cy="224.4" r="2.3"/><circle cx="566.1" cy="217.8" r="2.3"/><circle cx="554.9" cy="226.4" r="2.3"/><circle cx="552.9" cy="226.6" r="2.3"/><circle cx="566.2" cy="218.7" r="2.3"/><circle cx="561.1" cy="220.7" r="2.3"/><circle cx="204.8" cy="447.5" r="2.3"/><circle cx="191.7" cy="453.9" r="2.3"/><circle cx="198.9" cy="449.6" r="2.3"/><circle cx="200.5" cy="451.0" r="2.3"/><circle cx="204.8" cy="445.7" r="2.3"/><circle cx="205.5" cy="448.3" r="2.3"/><circle cx="202.4" cy="450.2" r="2.3"/><circle cx="196.7" cy="451.3" r="2.3"/><circle cx="192.8" cy="452.6" r="2.3"/><circle cx="192.2" cy="456.9" r="2.3"/><circle cx="194.1" cy="454.5" r="2.3"/><circle cx="190.1" cy="456.1" r="2.3"/><circle cx="196.4" cy="452.9" r="2.3"/><circle cx="190.8" cy="458.0" r="2.3"/><circle cx="195.1" cy="455.9" r="2.3"/><circle cx="191.6" cy="455.3" r="2.3"/><circle cx="199.0" cy="451.7" r="2.3"/><circle cx="292.3" cy="391.8" r="2.3"/><circle cx="294.5" cy="389.4" r="2.3"/><circle cx="278.3" cy="401.1" r="2.3"/><circle cx="284.8" cy="395.0" r="2.3"/><circle cx="293.4" cy="391.1" r="2.3"/><circle cx="290.6" cy="392.0" r="2.3"/><circle cx="283.6" cy="397.6" r="2.3"/><circle cx="287.0" cy="395.7" r="2.3"/><circle cx="285.7" cy="395.8" r="2.3"/><circle cx="353.3" cy="352.3" r="2.3"/><circle cx="360.1" cy="346.8" r="2.3"/><circle cx="351.8" cy="353.7" r="2.3"/><circle cx="354.1" cy="353.2" r="2.3"/><circle cx="355.7" cy="351.2" r="2.3"/><circle cx="357.6" cy="352.9" r="2.3"/><circle cx="354.7" cy="351.1" r="2.3"/><circle cx="356.5" cy="352.8" r="2.3"/><circle cx="353.7" cy="353.7" r="2.3"/><circle cx="358.8" cy="347.8" r="2.3"/><circle cx="353.4" cy="352.5" r="2.3"/><circle cx="342.9" cy="360.9" r="2.3"/><circle cx="340.4" cy="362.0" r="2.3"/><circle cx="353.0" cy="354.1" r="2.3"/><circle cx="347.6" cy="357.7" r="2.3"/><circle cx="340.2" cy="361.2" r="2.3"/><circle cx="340.8" cy="359.0" r="2.3"/><circle cx="352.1" cy="355.1" r="2.3"/><circle cx="347.3" cy="355.4" r="2.3"/><circle cx="337.0" cy="363.9" r="2.3"/><circle cx="353.1" cy="354.1" r="2.3"/><circle cx="348.0" cy="356.6" r="2.3"/><circle cx="527.6" cy="242.4" r="2.3"/><circle cx="529.3" cy="239.4" r="2.3"/><circle cx="532.2" cy="239.3" r="2.3"/><circle cx="530.4" cy="239.8" r="2.3"/><circle cx="526.1" cy="244.3" r="2.3"/><circle cx="527.9" cy="243.0" r="2.3"/><circle cx="526.0" cy="242.8" r="2.3"/><circle cx="369.6" cy="342.4" r="2.3"/><circle cx="373.4" cy="340.9" r="2.3"/><circle cx="373.5" cy="340.5" r="2.3"/><circle cx="371.5" cy="341.6" r="2.3"/><circle cx="362.4" cy="349.1" r="2.3"/><circle cx="458.2" cy="286.0" r="2.3"/><circle cx="441.9" cy="296.3" r="2.3"/><circle cx="449.2" cy="292.6" r="2.3"/><circle cx="444.7" cy="297.0" r="2.3"/><circle cx="447.4" cy="291.4" r="2.3"/><circle cx="452.6" cy="288.9" r="2.3"/><circle cx="442.7" cy="297.4" r="2.3"/><circle cx="451.1" cy="290.6" r="2.3"/><circle cx="445.0" cy="295.2" r="2.3"/><circle cx="451.5" cy="290.1" r="2.3"/><circle cx="538.2" cy="236.8" r="2.3"/><circle cx="545.6" cy="231.4" r="2.3"/><circle cx="547.9" cy="230.3" r="2.3"/><circle cx="551.8" cy="225.9" r="2.3"/><circle cx="477.5" cy="274.4" r="2.3"/><circle cx="469.6" cy="279.7" r="2.3"/><circle cx="464.2" cy="283.1" r="2.3"/><circle cx="471.3" cy="279.1" r="2.3"/><circle cx="472.1" cy="279.3" r="2.3"/><circle cx="480.8" cy="272.3" r="2.3"/><circle cx="467.0" cy="280.1" r="2.3"/><circle cx="477.3" cy="274.8" r="2.3"/><circle cx="466.1" cy="281.5" r="2.3"/><circle cx="476.8" cy="274.0" r="2.3"/><circle cx="583.9" cy="206.5" r="2.3"/><circle cx="582.5" cy="206.4" r="2.3"/><circle cx="590.2" cy="201.5" r="2.3"/><circle cx="589.0" cy="203.3" r="2.3"/><circle cx="587.0" cy="207.5" r="2.3"/><circle cx="588.2" cy="201.2" r="2.3"/><circle cx="593.2" cy="200.9" r="2.3"/><circle cx="590.0" cy="202.2" r="2.3"/><circle cx="586.9" cy="204.6" r="2.3"/><circle cx="590.0" cy="203.2" r="2.3"/><circle cx="590.4" cy="201.1" r="2.3"/><circle cx="591.7" cy="201.3" r="2.3"/><circle cx="588.3" cy="203.0" r="2.3"/><circle cx="411.0" cy="315.2" r="2.3"/><circle cx="412.3" cy="317.0" r="2.3"/><circle cx="418.6" cy="310.9" r="2.3"/><circle cx="420.0" cy="310.9" r="2.3"/><circle cx="420.1" cy="310.8" r="2.3"/><circle cx="409.1" cy="317.8" r="2.3"/><circle cx="415.6" cy="314.7" r="2.3"/><circle cx="421.7" cy="309.6" r="2.3"/><circle cx="423.4" cy="309.4" r="2.3"/><circle cx="424.9" cy="307.0" r="2.3"/><circle cx="415.0" cy="314.6" r="2.3"/><circle cx="427.0" cy="305.8" r="2.3"/><circle cx="415.5" cy="313.3" r="2.3"/><circle cx="429.5" cy="303.8" r="2.3"/><circle cx="426.8" cy="306.5" r="2.3"/><circle cx="423.9" cy="309.4" r="2.3"/><circle cx="423.7" cy="306.0" r="2.3"/><circle cx="605.1" cy="192.5" r="2.3"/><circle cx="599.8" cy="194.0" r="2.3"/><circle cx="612.5" cy="188.6" r="2.3"/><circle cx="607.8" cy="192.2" r="2.3"/><circle cx="610.1" cy="189.8" r="2.3"/><circle cx="602.1" cy="193.8" r="2.3"/><circle cx="607.9" cy="192.3" r="2.3"/><circle cx="614.0" cy="186.5" r="2.3"/><circle cx="296.5" cy="389.6" r="2.3"/><circle cx="292.5" cy="390.3" r="2.3"/><circle cx="286.2" cy="397.2" r="2.3"/><circle cx="287.9" cy="395.2" r="2.3"/><circle cx="291.8" cy="391.2" r="2.3"/><circle cx="289.8" cy="391.7" r="2.3"/><circle cx="292.6" cy="393.6" r="2.3"/><circle cx="291.5" cy="391.6" r="2.3"/><circle cx="296.6" cy="389.8" r="2.3"/><circle cx="291.3" cy="390.2" r="2.3"/><circle cx="292.4" cy="392.7" r="2.3"/><circle cx="297.2" cy="388.3" r="2.3"/><circle cx="294.9" cy="388.7" r="2.3"/><circle cx="296.1" cy="391.3" r="2.3"/><circle cx="301.0" cy="386.2" r="2.3"/><circle cx="297.9" cy="386.9" r="2.3"/><circle cx="296.7" cy="388.3" r="2.3"/><circle cx="296.7" cy="389.0" r="2.3"/><circle cx="300.4" cy="386.7" r="2.3"/><circle cx="299.5" cy="387.4" r="2.3"/><circle cx="300.6" cy="386.5" r="2.3"/><circle cx="293.4" cy="390.5" r="2.3"/><circle cx="299.6" cy="388.2" r="2.3"/><circle cx="337.0" cy="363.2" r="2.3"/><circle cx="351.9" cy="351.4" r="2.3"/><circle cx="348.6" cy="354.9" r="2.3"/><circle cx="355.7" cy="350.7" r="2.3"/><circle cx="335.9" cy="364.5" r="2.3"/><circle cx="349.0" cy="355.4" r="2.3"/><circle cx="347.7" cy="357.5" r="2.3"/><circle cx="335.9" cy="363.7" r="2.3"/><circle cx="353.8" cy="353.2" r="2.3"/><circle cx="350.2" cy="355.5" r="2.3"/><circle cx="346.1" cy="358.1" r="2.3"/><circle cx="339.6" cy="360.8" r="2.3"/><circle cx="339.1" cy="363.2" r="2.3"/><circle cx="340.3" cy="361.4" r="2.3"/><circle cx="335.4" cy="364.6" r="2.3"/><circle cx="338.3" cy="361.9" r="2.3"/><circle cx="337.8" cy="362.8" r="2.3"/><circle cx="341.0" cy="362.8" r="2.3"/><circle cx="342.1" cy="360.1" r="2.3"/><circle cx="336.2" cy="363.7" r="2.3"/><circle cx="636.1" cy="173.8" r="2.3"/><circle cx="642.4" cy="167.6" r="2.3"/><circle cx="644.3" cy="167.9" r="2.3"/><circle cx="635.3" cy="174.7" r="2.3"/><circle cx="637.2" cy="173.5" r="2.3"/><circle cx="639.6" cy="169.7" r="2.3"/><circle cx="708.3" cy="128.0" r="2.3"/><circle cx="706.4" cy="127.8" r="2.3"/><circle cx="711.6" cy="125.2" r="2.3"/><circle cx="700.2" cy="133.0" r="2.3"/><circle cx="713.1" cy="127.0" r="2.3"/><circle cx="712.7" cy="124.9" r="2.3"/><circle cx="711.4" cy="127.3" r="2.3"/><circle cx="705.2" cy="129.4" r="2.3"/><circle cx="709.2" cy="126.6" r="2.3"/><circle cx="708.2" cy="125.9" r="2.3"/><circle cx="709.4" cy="125.9" r="2.3"/><circle cx="712.2" cy="124.8" r="2.3"/><circle cx="708.8" cy="126.2" r="2.3"/><circle cx="761.0" cy="94.0" r="2.3"/><circle cx="762.8" cy="92.3" r="2.3"/><circle cx="747.6" cy="102.9" r="2.3"/><circle cx="663.6" cy="155.9" r="2.3"/></g>
<line x1="164.9" y1="491.5" x2="164.9" y2="500.5" stroke="#555" stroke-width="2.2"/>
<text x="164.9" y="532.2" class="tk" text-anchor="middle">−13</text>
<line x1="343.7" y1="491.5" x2="343.7" y2="500.5" stroke="#555" stroke-width="2.2"/>
<text x="343.7" y="532.2" class="tk" text-anchor="middle">−12</text>
<line x1="522.4" y1="491.5" x2="522.4" y2="500.5" stroke="#555" stroke-width="2.2"/>
<text x="522.4" y="532.2" class="tk" text-anchor="middle">−11</text>
<line x1="701.1" y1="491.5" x2="701.1" y2="500.5" stroke="#555" stroke-width="2.2"/>
<text x="701.1" y="532.2" class="tk" text-anchor="middle">−10</text>
<line x1="130.7" y1="472.8" x2="139.8" y2="472.8" stroke="#555" stroke-width="2.2"/>
<text x="120.3" y="483.6" class="tk" text-anchor="end">−13</text>
<line x1="130.7" y1="359.1" x2="139.8" y2="359.1" stroke="#555" stroke-width="2.2"/>
<text x="120.3" y="370" class="tk" text-anchor="end">−12</text>
<line x1="130.7" y1="245.5" x2="139.8" y2="245.5" stroke="#555" stroke-width="2.2"/>
<text x="120.3" y="256.4" class="tk" text-anchor="end">−11</text>
<line x1="130.7" y1="131.9" x2="139.8" y2="131.9" stroke="#555" stroke-width="2.2"/>
<text x="120.3" y="142.8" class="tk" text-anchor="end">−10</text>
<text x="481" y="37.7" class="tt" text-anchor="middle">(a)</text>
<text x="481" y="576.4" class="lb" text-anchor="middle">DFT Energy (eV/atom)</text>
<text x="38.8" y="272.5" class="lb" text-anchor="middle" transform="rotate(-90 38.8 272.5)">Predicted Energy (eV/atom)</text>
<rect x="155.5" y="70.7" width="272.5" height="92.8" rx="5.9" fill="#e5e5e5" fill-opacity="0.8" stroke="#cccccc" stroke-opacity="0.8" stroke-width="1.5"/>
<circle cx="196.7" cy="96.4" r="2.3" fill="#0000ff" fill-opacity="0.6" stroke="#0000ff" stroke-opacity="0.6" stroke-width="1"/>
<circle cx="196.7" cy="138.3" r="2.3" fill="#008000" fill-opacity="0.6" stroke="#008000" stroke-opacity="0.6" stroke-width="1"/>
<text x="249.7" y="103.2" class="lg">training set</text>
<text x="249.7" y="146.2" class="lg">test set</text>
<rect x="142" y="665" width="678" height="431" fill="#e5e5e5"/>
<line x1="213.6" y1="665" x2="213.6" y2="1096" stroke="#fff" stroke-width="2.2"/>
<line x1="336.8" y1="665" x2="336.8" y2="1096" stroke="#fff" stroke-width="2.2"/>
<line x1="460" y1="665" x2="460" y2="1096" stroke="#fff" stroke-width="2.2"/>
<line x1="583.2" y1="665" x2="583.2" y2="1096" stroke="#fff" stroke-width="2.2"/>
<line x1="706.4" y1="665" x2="706.4" y2="1096" stroke="#fff" stroke-width="2.2"/>
<line x1="142" y1="1036.5" x2="820" y2="1036.5" stroke="#fff" stroke-width="2.2"/>
<line x1="142" y1="964" x2="820" y2="964" stroke="#fff" stroke-width="2.2"/>
<line x1="142" y1="891.5" x2="820" y2="891.5" stroke="#fff" stroke-width="2.2"/>
<line x1="142" y1="819" x2="820" y2="819" stroke="#fff" stroke-width="2.2"/>
<line x1="142" y1="746.5" x2="820" y2="746.5" stroke="#fff" stroke-width="2.2"/>
<line x1="142" y1="673.9" x2="820" y2="673.9" stroke="#fff" stroke-width="2.2"/>
<path d="M298.0,981.7 L301.0,973.3 L304.0,967.7 L307.0,965.4 L310.0,963.1 L313.0,960.8 L316.0,958.4 L319.0,956.1 L322.0,954.1 L325.0,952.2 L328.0,950.4 L331.0,948.5 L334.0,946.6 L337.0,944.7 L340.0,942.9 L343.0,941.2 L346.0,939.5 L349.0,937.8 L352.0,936.1 L355.0,934.4 L358.0,932.7 L361.0,931.0 L364.0,929.3 L367.0,927.6 L370.0,925.8 L373.0,924.1 L376.0,922.4 L379.0,920.7 L382.0,918.9 L385.0,917.2 L388.0,915.5 L391.0,913.8 L394.0,912.0 L397.0,910.3 L400.0,908.6 L403.0,906.9 L406.0,905.2 L409.0,903.6 L412.0,901.9 L415.0,900.2 L418.0,898.5 L421.0,896.8 L424.0,895.2 L427.0,893.5 L430.0,891.8 L433.0,889.9 L436.0,888.1 L439.0,886.2 L442.0,884.3 L445.0,882.5 L448.0,880.7 L451.0,878.8 L454.0,877.0 L457.0,875.1 L460.0,873.3 L463.0,871.5 L466.0,869.7 L469.0,867.8 L472.0,866.0 L475.0,864.2 L478.0,862.4 L481.0,860.8 L484.0,859.5 L487.0,858.2 L490.0,856.9 L493.0,855.6 L496.0,854.2 L499.0,852.7 L502.0,851.2 L505.0,849.8 L508.0,848.5 L511.0,847.1 L514.0,845.7 L517.0,844.3 L520.0,842.9 L523.0,840.9 L526.0,838.8 L529.0,836.8 L532.0,834.7 L535.0,832.7 L538.0,830.6 L541.0,828.8 L544.0,827.3 L547.0,825.9 L550.0,824.5 L553.0,823.0 L556.0,821.6 L559.0,820.1 L562.0,818.7 L565.0,817.2 L568.0,815.8 L571.0,814.1 L574.0,812.5 L577.0,810.8 L580.0,809.1 L583.0,807.4 L586.0,805.8 L589.0,804.1 L592.0,802.7 L595.0,801.4 L598.0,800.1 L601.0,798.8 L604.0,797.5 L607.0,797.0 L610.0,796.9 L613.0,796.9 L616.0,798.2 L619.0,800.4 L619.0,800.4 L616.0,806.2 L613.0,811.3 L610.0,814.9 L607.0,818.6 L604.0,821.8 L601.0,824.1 L598.0,826.4 L595.0,828.7 L592.0,831.0 L589.0,833.2 L586.0,835.1 L583.0,837.1 L580.0,839.0 L577.0,841.0 L574.0,842.9 L571.0,844.9 L568.0,846.8 L565.0,848.3 L562.0,849.9 L559.0,851.4 L556.0,853.0 L553.0,854.5 L550.0,856.1 L547.0,857.6 L544.0,859.2 L541.0,860.7 L538.0,862.5 L535.0,864.5 L532.0,866.4 L529.0,868.3 L526.0,870.3 L523.0,872.2 L520.0,874.1 L517.0,875.4 L514.0,876.6 L511.0,877.9 L508.0,879.1 L505.0,880.3 L502.0,881.6 L499.0,882.9 L496.0,884.3 L493.0,885.8 L490.0,887.4 L487.0,889.1 L484.0,890.7 L481.0,892.4 L478.0,894.3 L475.0,896.5 L472.0,898.7 L469.0,900.8 L466.0,903.0 L463.0,905.1 L460.0,907.3 L457.0,908.8 L454.0,910.4 L451.0,911.9 L448.0,913.5 L445.0,915.0 L442.0,916.5 L439.0,918.1 L436.0,919.7 L433.0,921.2 L430.0,922.8 L427.0,924.6 L424.0,926.4 L421.0,928.1 L418.0,929.9 L415.0,931.7 L412.0,933.5 L409.0,935.3 L406.0,937.0 L403.0,938.8 L400.0,940.6 L397.0,942.2 L394.0,943.7 L391.0,945.3 L388.0,946.9 L385.0,948.5 L382.0,950.0 L379.0,951.6 L376.0,953.2 L373.0,954.8 L370.0,956.3 L367.0,957.9 L364.0,959.5 L361.0,961.1 L358.0,962.6 L355.0,964.2 L352.0,965.7 L349.0,967.2 L346.0,968.8 L343.0,970.3 L340.0,971.9 L337.0,973.4 L334.0,975.0 L331.0,976.6 L328.0,978.2 L325.0,979.7 L322.0,981.3 L319.0,982.8 L316.0,983.9 L313.0,985.0 L310.0,986.2 L307.0,987.3 L304.0,988.5 L301.0,986.3 L298.0,981.7Z" fill="#0000ff"/><path d="M299.1,968.8 L302.0,963.9 L308.8,962.0 L314.6,960.1 L321.4,957.2 L328.2,951.3 L333.0,947.5 L339.8,941.0 L339.8,978.0 L335.9,978.5 L333.0,982.4 L328.2,985.3 L321.4,988.2 L315.6,992.1 L310.7,996.0 L303.9,996.9 L299.1,1001.8 L295.2,1003.7 L292.3,997.9 L289.4,994.0 L284.5,994.0 L282.6,990.1 L287.5,986.2 L291.3,982.4 L294.2,976.6Z" fill="#0000ff"/><path d="M580.0,800.7 L589.7,798.8 L599.4,795.9 L609.1,792.5 L616.9,791.0 L625.6,789.5 L634.3,789.5 L642.1,790.5 L648.8,791.5 L649.0,793.5 L644.9,795.4 L638.1,796.5 L632.3,798.5 L627.5,802.7 L622.6,805.6 L618.8,810.4 L615.9,814.3 L612.0,818.2 L609.1,822.1 L603.3,827.9 L597.5,832.7 L591.6,837.6 L587.8,840.0 L580.0,842.0Z" fill="#0000ff"/><g fill="#0000ff" fill-opacity="0.6" stroke="#0000ff" stroke-opacity="0.6" stroke-width="1"><circle cx="494.8" cy="852.6" r="2.3"/><circle cx="608.3" cy="795.8" r="2.3"/><circle cx="406.5" cy="904.3" r="2.3"/><circle cx="535.0" cy="865.2" r="2.3"/><circle cx="316.5" cy="983.9" r="2.3"/><circle cx="516.9" cy="841.6" r="2.3"/><circle cx="331.9" cy="945.7" r="2.3"/><circle cx="433.8" cy="888.8" r="2.3"/><circle cx="368.8" cy="922.4" r="2.3"/><circle cx="331.2" cy="946.1" r="2.3"/><circle cx="339.2" cy="942.8" r="2.3"/><circle cx="585.2" cy="804.7" r="2.3"/><circle cx="548.5" cy="825.1" r="2.3"/><circle cx="350.9" cy="935.9" r="2.3"/><circle cx="341.1" cy="942.0" r="2.3"/><circle cx="410.5" cy="901.7" r="2.3"/><circle cx="347.9" cy="936.6" r="2.3"/><circle cx="447.0" cy="915.4" r="2.3"/><circle cx="521.7" cy="838.1" r="2.3"/><circle cx="429.9" cy="924.2" r="2.3"/><circle cx="588.9" cy="835.6" r="2.3"/><circle cx="546.9" cy="825.2" r="2.3"/><circle cx="528.4" cy="870.7" r="2.3"/><circle cx="535.8" cy="864.2" r="2.3"/><circle cx="442.4" cy="917.3" r="2.3"/><circle cx="411.3" cy="934.1" r="2.3"/><circle cx="474.1" cy="898.5" r="2.3"/><circle cx="313.5" cy="986.3" r="2.3"/><circle cx="367.4" cy="960.9" r="2.3"/><circle cx="371.1" cy="957.6" r="2.3"/><circle cx="391.0" cy="912.9" r="2.3"/><circle cx="434.3" cy="921.2" r="2.3"/><circle cx="403.4" cy="941.5" r="2.3"/><circle cx="613.0" cy="811.9" r="2.3"/><circle cx="333.6" cy="977.7" r="2.3"/><circle cx="396.0" cy="910.2" r="2.3"/><circle cx="439.7" cy="918.2" r="2.3"/><circle cx="535.2" cy="830.5" r="2.3"/><circle cx="460.1" cy="868.7" r="2.3"/><circle cx="456.7" cy="875.1" r="2.3"/><circle cx="416.1" cy="932.9" r="2.3"/><circle cx="306.9" cy="965.0" r="2.3"/><circle cx="489.6" cy="856.4" r="2.3"/><circle cx="575.8" cy="843.5" r="2.3"/><circle cx="476.2" cy="860.4" r="2.3"/><circle cx="596.0" cy="799.0" r="2.3"/><circle cx="608.7" cy="796.4" r="2.3"/><circle cx="390.4" cy="948.9" r="2.3"/><circle cx="588.1" cy="834.0" r="2.3"/><circle cx="300.8" cy="970.8" r="2.3"/><circle cx="619.1" cy="799.2" r="2.3"/><circle cx="553.7" cy="855.5" r="2.3"/><circle cx="378.1" cy="953.7" r="2.3"/><circle cx="384.5" cy="916.4" r="2.3"/><circle cx="309.8" cy="987.3" r="2.3"/><circle cx="472.7" cy="863.4" r="2.3"/><circle cx="610.3" cy="792.2" r="2.3"/><circle cx="540.9" cy="828.0" r="2.3"/><circle cx="452.7" cy="912.8" r="2.3"/><circle cx="425.4" cy="892.4" r="2.3"/><circle cx="381.1" cy="951.0" r="2.3"/><circle cx="566.6" cy="814.8" r="2.3"/><circle cx="470.0" cy="867.2" r="2.3"/><circle cx="317.7" cy="954.7" r="2.3"/><circle cx="461.1" cy="871.5" r="2.3"/><circle cx="348.7" cy="970.6" r="2.3"/><circle cx="537.5" cy="830.8" r="2.3"/><circle cx="544.7" cy="825.9" r="2.3"/><circle cx="565.1" cy="816.2" r="2.3"/><circle cx="426.4" cy="925.3" r="2.3"/><circle cx="479.7" cy="895.5" r="2.3"/><circle cx="353.9" cy="932.0" r="2.3"/><circle cx="598.2" cy="798.2" r="2.3"/><circle cx="462.0" cy="906.7" r="2.3"/><circle cx="545.9" cy="858.9" r="2.3"/><circle cx="377.7" cy="954.6" r="2.3"/><circle cx="506.2" cy="881.2" r="2.3"/><circle cx="368.9" cy="923.8" r="2.3"/><circle cx="529.2" cy="870.9" r="2.3"/><circle cx="374.1" cy="920.8" r="2.3"/><circle cx="365.2" cy="927.6" r="2.3"/><circle cx="512.5" cy="846.0" r="2.3"/><circle cx="357.0" cy="964.3" r="2.3"/><circle cx="386.4" cy="916.4" r="2.3"/><circle cx="418.7" cy="929.9" r="2.3"/><circle cx="487.3" cy="889.2" r="2.3"/><circle cx="349.6" cy="967.3" r="2.3"/><circle cx="395.3" cy="911.1" r="2.3"/><circle cx="498.1" cy="883.4" r="2.3"/><circle cx="449.7" cy="913.3" r="2.3"/><circle cx="396.2" cy="943.9" r="2.3"/><circle cx="458.4" cy="910.4" r="2.3"/><circle cx="409.9" cy="936.4" r="2.3"/><circle cx="572.3" cy="811.1" r="2.3"/><circle cx="485.9" cy="891.0" r="2.3"/><circle cx="497.8" cy="852.7" r="2.3"/><circle cx="397.4" cy="942.5" r="2.3"/><circle cx="415.1" cy="899.6" r="2.3"/><circle cx="435.8" cy="883.6" r="2.3"/><circle cx="457.0" cy="910.2" r="2.3"/><circle cx="525.8" cy="838.2" r="2.3"/><circle cx="511.5" cy="846.1" r="2.3"/><circle cx="316.7" cy="957.5" r="2.3"/><circle cx="455.4" cy="909.9" r="2.3"/><circle cx="528.3" cy="837.1" r="2.3"/><circle cx="584.7" cy="804.6" r="2.3"/><circle cx="345.5" cy="939.2" r="2.3"/><circle cx="490.8" cy="888.3" r="2.3"/><circle cx="482.7" cy="858.6" r="2.3"/><circle cx="364.7" cy="962.4" r="2.3"/><circle cx="476.3" cy="896.6" r="2.3"/><circle cx="496.1" cy="885.0" r="2.3"/><circle cx="480.3" cy="860.9" r="2.3"/><circle cx="530.7" cy="867.5" r="2.3"/><circle cx="463.0" cy="870.5" r="2.3"/><circle cx="336.1" cy="944.3" r="2.3"/><circle cx="525.6" cy="837.2" r="2.3"/><circle cx="554.7" cy="821.5" r="2.3"/><circle cx="535.3" cy="831.4" r="2.3"/><circle cx="319.8" cy="984.9" r="2.3"/><circle cx="361.7" cy="964.3" r="2.3"/><circle cx="543.4" cy="860.1" r="2.3"/><circle cx="613.6" cy="812.1" r="2.3"/><circle cx="585.4" cy="836.1" r="2.3"/><circle cx="507.3" cy="846.1" r="2.3"/><circle cx="322.5" cy="952.7" r="2.3"/><circle cx="336.2" cy="974.1" r="2.3"/><circle cx="390.9" cy="947.4" r="2.3"/><circle cx="351.3" cy="966.5" r="2.3"/><circle cx="498.2" cy="852.4" r="2.3"/><circle cx="330.4" cy="947.6" r="2.3"/><circle cx="321.7" cy="953.0" r="2.3"/><circle cx="310.6" cy="961.3" r="2.3"/><circle cx="426.9" cy="891.0" r="2.3"/><circle cx="330.3" cy="948.7" r="2.3"/><circle cx="324.9" cy="982.0" r="2.3"/><circle cx="327.5" cy="981.4" r="2.3"/><circle cx="377.4" cy="955.0" r="2.3"/><circle cx="600.3" cy="825.4" r="2.3"/><circle cx="325.2" cy="981.8" r="2.3"/><circle cx="597.1" cy="828.7" r="2.3"/><circle cx="366.5" cy="959.3" r="2.3"/><circle cx="495.4" cy="886.0" r="2.3"/><circle cx="459.1" cy="871.9" r="2.3"/><circle cx="394.1" cy="945.8" r="2.3"/><circle cx="440.1" cy="884.4" r="2.3"/><circle cx="509.3" cy="879.9" r="2.3"/><circle cx="501.3" cy="850.3" r="2.3"/><circle cx="484.8" cy="890.5" r="2.3"/><circle cx="332.7" cy="975.9" r="2.3"/><circle cx="470.0" cy="864.8" r="2.3"/><circle cx="497.2" cy="852.0" r="2.3"/><circle cx="351.2" cy="931.0" r="2.3"/><circle cx="570.3" cy="847.1" r="2.3"/><circle cx="589.0" cy="802.8" r="2.3"/><circle cx="457.2" cy="873.1" r="2.3"/><circle cx="473.9" cy="899.5" r="2.3"/><circle cx="423.6" cy="893.9" r="2.3"/><circle cx="617.6" cy="804.0" r="2.3"/><circle cx="362.3" cy="960.8" r="2.3"/><circle cx="499.7" cy="850.5" r="2.3"/><circle cx="619.5" cy="798.5" r="2.3"/><circle cx="579.5" cy="807.3" r="2.3"/><circle cx="518.4" cy="841.3" r="2.3"/><circle cx="317.3" cy="957.2" r="2.3"/><circle cx="397.3" cy="906.6" r="2.3"/><circle cx="431.7" cy="886.1" r="2.3"/><circle cx="507.0" cy="881.3" r="2.3"/><circle cx="333.0" cy="947.1" r="2.3"/><circle cx="543.5" cy="824.8" r="2.3"/><circle cx="318.9" cy="955.5" r="2.3"/><circle cx="383.8" cy="949.2" r="2.3"/><circle cx="541.7" cy="862.7" r="2.3"/><circle cx="521.0" cy="874.1" r="2.3"/><circle cx="602.9" cy="823.2" r="2.3"/><circle cx="417.0" cy="898.8" r="2.3"/><circle cx="377.4" cy="920.7" r="2.3"/><circle cx="445.7" cy="880.8" r="2.3"/><circle cx="427.4" cy="926.1" r="2.3"/><circle cx="514.2" cy="844.7" r="2.3"/><circle cx="532.2" cy="867.5" r="2.3"/><circle cx="464.3" cy="906.9" r="2.3"/><circle cx="434.7" cy="922.9" r="2.3"/><circle cx="481.8" cy="860.1" r="2.3"/><circle cx="338.4" cy="943.7" r="2.3"/><circle cx="302.3" cy="968.5" r="2.3"/><circle cx="313.2" cy="958.1" r="2.3"/><circle cx="357.4" cy="964.8" r="2.3"/><circle cx="387.7" cy="949.8" r="2.3"/><circle cx="466.8" cy="868.3" r="2.3"/><circle cx="462.8" cy="869.9" r="2.3"/><circle cx="313.7" cy="986.1" r="2.3"/><circle cx="396.2" cy="943.0" r="2.3"/><circle cx="502.5" cy="848.6" r="2.3"/><circle cx="474.2" cy="899.5" r="2.3"/><circle cx="467.8" cy="904.6" r="2.3"/><circle cx="355.7" cy="932.1" r="2.3"/><circle cx="423.4" cy="894.5" r="2.3"/><circle cx="322.9" cy="983.0" r="2.3"/><circle cx="386.3" cy="948.8" r="2.3"/><circle cx="440.3" cy="919.9" r="2.3"/><circle cx="546.1" cy="824.3" r="2.3"/><circle cx="345.3" cy="969.6" r="2.3"/><circle cx="398.8" cy="908.0" r="2.3"/><circle cx="585.2" cy="804.1" r="2.3"/><circle cx="581.8" cy="805.5" r="2.3"/><circle cx="578.2" cy="809.3" r="2.3"/><circle cx="362.0" cy="929.5" r="2.3"/><circle cx="454.1" cy="876.9" r="2.3"/><circle cx="368.1" cy="958.5" r="2.3"/><circle cx="475.0" cy="864.0" r="2.3"/><circle cx="602.3" cy="796.9" r="2.3"/><circle cx="407.9" cy="902.6" r="2.3"/><circle cx="333.3" cy="946.7" r="2.3"/><circle cx="566.7" cy="815.5" r="2.3"/><circle cx="480.7" cy="892.9" r="2.3"/><circle cx="415.4" cy="899.0" r="2.3"/><circle cx="453.4" cy="911.8" r="2.3"/><circle cx="456.6" cy="872.0" r="2.3"/><circle cx="466.6" cy="904.8" r="2.3"/><circle cx="605.6" cy="820.9" r="2.3"/><circle cx="354.1" cy="934.2" r="2.3"/><circle cx="416.4" cy="934.7" r="2.3"/><circle cx="355.9" cy="933.7" r="2.3"/><circle cx="433.1" cy="924.1" r="2.3"/><circle cx="414.0" cy="933.4" r="2.3"/><circle cx="504.8" cy="849.2" r="2.3"/><circle cx="457.2" cy="872.4" r="2.3"/><circle cx="393.3" cy="909.7" r="2.3"/><circle cx="569.5" cy="813.3" r="2.3"/><circle cx="489.0" cy="888.4" r="2.3"/><circle cx="410.9" cy="935.6" r="2.3"/><circle cx="443.4" cy="882.2" r="2.3"/><circle cx="614.9" cy="796.7" r="2.3"/><circle cx="572.6" cy="811.7" r="2.3"/><circle cx="519.4" cy="875.9" r="2.3"/><circle cx="311.7" cy="986.1" r="2.3"/><circle cx="465.0" cy="904.2" r="2.3"/><circle cx="361.4" cy="961.7" r="2.3"/><circle cx="340.2" cy="972.3" r="2.3"/><circle cx="576.9" cy="841.1" r="2.3"/><circle cx="444.3" cy="881.2" r="2.3"/><circle cx="313.2" cy="985.8" r="2.3"/><circle cx="590.9" cy="800.9" r="2.3"/><circle cx="494.3" cy="853.1" r="2.3"/><circle cx="617.6" cy="798.8" r="2.3"/><circle cx="510.7" cy="878.4" r="2.3"/><circle cx="499.4" cy="851.7" r="2.3"/><circle cx="392.6" cy="911.1" r="2.3"/><circle cx="532.3" cy="831.0" r="2.3"/><circle cx="408.5" cy="902.3" r="2.3"/><circle cx="545.4" cy="861.9" r="2.3"/><circle cx="561.3" cy="852.6" r="2.3"/><circle cx="589.8" cy="834.1" r="2.3"/><circle cx="560.4" cy="817.2" r="2.3"/><circle cx="373.4" cy="958.8" r="2.3"/><circle cx="439.5" cy="918.7" r="2.3"/><circle cx="420.7" cy="894.0" r="2.3"/><circle cx="595.3" cy="829.4" r="2.3"/><circle cx="376.9" cy="953.1" r="2.3"/><circle cx="605.9" cy="795.6" r="2.3"/><circle cx="316.7" cy="984.8" r="2.3"/><circle cx="563.8" cy="850.3" r="2.3"/><circle cx="336.8" cy="943.3" r="2.3"/><circle cx="382.6" cy="917.5" r="2.3"/><circle cx="335.6" cy="945.1" r="2.3"/><circle cx="345.9" cy="935.7" r="2.3"/><circle cx="417.1" cy="896.6" r="2.3"/><circle cx="599.8" cy="798.9" r="2.3"/><circle cx="321.8" cy="952.0" r="2.3"/><circle cx="384.0" cy="915.5" r="2.3"/><circle cx="538.0" cy="828.3" r="2.3"/><circle cx="335.1" cy="945.7" r="2.3"/><circle cx="592.3" cy="801.4" r="2.3"/><circle cx="336.3" cy="943.3" r="2.3"/><circle cx="424.1" cy="926.9" r="2.3"/><circle cx="351.6" cy="936.0" r="2.3"/><circle cx="469.5" cy="866.7" r="2.3"/><circle cx="555.5" cy="818.2" r="2.3"/><circle cx="331.8" cy="943.4" r="2.3"/><circle cx="582.3" cy="838.0" r="2.3"/><circle cx="511.4" cy="878.7" r="2.3"/><circle cx="321.0" cy="953.5" r="2.3"/><circle cx="572.1" cy="844.3" r="2.3"/><circle cx="473.7" cy="864.8" r="2.3"/><circle cx="348.6" cy="967.6" r="2.3"/><circle cx="585.7" cy="835.8" r="2.3"/><circle cx="454.8" cy="910.9" r="2.3"/><circle cx="580.1" cy="806.9" r="2.3"/><circle cx="567.8" cy="847.9" r="2.3"/><circle cx="464.4" cy="870.3" r="2.3"/><circle cx="491.0" cy="856.3" r="2.3"/><circle cx="389.7" cy="913.3" r="2.3"/><circle cx="364.5" cy="959.4" r="2.3"/><circle cx="465.9" cy="867.7" r="2.3"/><circle cx="409.6" cy="935.3" r="2.3"/><circle cx="369.6" cy="925.5" r="2.3"/><circle cx="570.6" cy="814.3" r="2.3"/><circle cx="419.5" cy="895.8" r="2.3"/><circle cx="568.0" cy="850.9" r="2.3"/><circle cx="448.3" cy="879.1" r="2.3"/><circle cx="452.3" cy="911.7" r="2.3"/><circle cx="545.5" cy="824.5" r="2.3"/><circle cx="304.5" cy="990.3" r="2.3"/><circle cx="537.2" cy="864.6" r="2.3"/><circle cx="394.5" cy="911.2" r="2.3"/><circle cx="315.2" cy="958.7" r="2.3"/><circle cx="615.6" cy="807.6" r="2.3"/><circle cx="415.7" cy="932.4" r="2.3"/><circle cx="605.6" cy="821.9" r="2.3"/><circle cx="560.4" cy="818.5" r="2.3"/><circle cx="498.5" cy="852.3" r="2.3"/><circle cx="346.6" cy="968.7" r="2.3"/><circle cx="363.9" cy="926.5" r="2.3"/><circle cx="550.0" cy="823.6" r="2.3"/><circle cx="582.6" cy="806.9" r="2.3"/><circle cx="529.2" cy="835.5" r="2.3"/><circle cx="430.9" cy="923.1" r="2.3"/><circle cx="528.8" cy="836.4" r="2.3"/><circle cx="534.6" cy="831.7" r="2.3"/><circle cx="458.0" cy="909.8" r="2.3"/><circle cx="393.4" cy="911.7" r="2.3"/><circle cx="354.8" cy="965.6" r="2.3"/><circle cx="444.7" cy="915.4" r="2.3"/><circle cx="355.7" cy="931.5" r="2.3"/><circle cx="604.3" cy="795.2" r="2.3"/><circle cx="614.2" cy="794.3" r="2.3"/><circle cx="329.6" cy="949.3" r="2.3"/><circle cx="432.2" cy="890.0" r="2.3"/><circle cx="353.6" cy="968.4" r="2.3"/><circle cx="437.8" cy="886.1" r="2.3"/><circle cx="436.5" cy="887.2" r="2.3"/><circle cx="458.3" cy="872.2" r="2.3"/><circle cx="470.4" cy="901.5" r="2.3"/><circle cx="607.7" cy="793.6" r="2.3"/><circle cx="573.2" cy="843.4" r="2.3"/><circle cx="549.7" cy="856.8" r="2.3"/><circle cx="490.5" cy="890.7" r="2.3"/><circle cx="523.8" cy="840.1" r="2.3"/><circle cx="469.9" cy="866.1" r="2.3"/><circle cx="350.1" cy="935.7" r="2.3"/><circle cx="357.0" cy="932.4" r="2.3"/><circle cx="384.1" cy="917.3" r="2.3"/><circle cx="432.2" cy="889.1" r="2.3"/><circle cx="383.6" cy="915.9" r="2.3"/><circle cx="514.3" cy="876.7" r="2.3"/><circle cx="515.8" cy="843.9" r="2.3"/><circle cx="417.3" cy="896.7" r="2.3"/><circle cx="537.9" cy="828.7" r="2.3"/><circle cx="397.6" cy="907.4" r="2.3"/><circle cx="298.5" cy="981.0" r="2.3"/><circle cx="478.4" cy="894.8" r="2.3"/><circle cx="546.6" cy="858.2" r="2.3"/><circle cx="393.9" cy="909.6" r="2.3"/><circle cx="589.8" cy="800.7" r="2.3"/><circle cx="541.1" cy="865.1" r="2.3"/><circle cx="474.9" cy="861.1" r="2.3"/><circle cx="425.0" cy="928.7" r="2.3"/><circle cx="495.3" cy="853.0" r="2.3"/><circle cx="438.3" cy="922.5" r="2.3"/><circle cx="595.7" cy="829.2" r="2.3"/><circle cx="482.2" cy="859.8" r="2.3"/><circle cx="413.2" cy="933.2" r="2.3"/><circle cx="302.9" cy="989.2" r="2.3"/><circle cx="578.9" cy="840.4" r="2.3"/><circle cx="514.2" cy="876.5" r="2.3"/><circle cx="533.5" cy="831.9" r="2.3"/><circle cx="374.7" cy="954.1" r="2.3"/><circle cx="317.1" cy="955.0" r="2.3"/><circle cx="443.4" cy="883.3" r="2.3"/><circle cx="532.8" cy="834.0" r="2.3"/><circle cx="374.0" cy="922.7" r="2.3"/><circle cx="323.5" cy="951.3" r="2.3"/><circle cx="392.3" cy="910.4" r="2.3"/><circle cx="366.4" cy="925.7" r="2.3"/><circle cx="447.3" cy="880.3" r="2.3"/><circle cx="477.6" cy="862.2" r="2.3"/><circle cx="488.8" cy="855.5" r="2.3"/><circle cx="495.3" cy="853.9" r="2.3"/><circle cx="542.7" cy="826.0" r="2.3"/><circle cx="334.3" cy="946.2" r="2.3"/><circle cx="520.1" cy="876.3" r="2.3"/><circle cx="402.8" cy="906.6" r="2.3"/><circle cx="302.2" cy="967.4" r="2.3"/><circle cx="553.6" cy="856.5" r="2.3"/><circle cx="595.4" cy="800.9" r="2.3"/><circle cx="450.3" cy="878.7" r="2.3"/><circle cx="559.2" cy="853.7" r="2.3"/><circle cx="506.2" cy="847.0" r="2.3"/><circle cx="398.6" cy="908.8" r="2.3"/><circle cx="337.6" cy="973.2" r="2.3"/><circle cx="493.8" cy="852.3" r="2.3"/><circle cx="311.1" cy="986.0" r="2.3"/><circle cx="377.4" cy="920.4" r="2.3"/><circle cx="371.0" cy="955.9" r="2.3"/><circle cx="440.1" cy="919.7" r="2.3"/><circle cx="464.3" cy="869.8" r="2.3"/><circle cx="487.7" cy="856.3" r="2.3"/><circle cx="570.7" cy="813.5" r="2.3"/><circle cx="578.8" cy="843.4" r="2.3"/><circle cx="447.8" cy="880.0" r="2.3"/><circle cx="581.1" cy="840.4" r="2.3"/><circle cx="474.7" cy="862.9" r="2.3"/><circle cx="514.5" cy="841.4" r="2.3"/><circle cx="415.6" cy="899.2" r="2.3"/><circle cx="356.9" cy="963.8" r="2.3"/><circle cx="298.2" cy="982.2" r="2.3"/><circle cx="527.5" cy="837.8" r="2.3"/><circle cx="311.1" cy="961.8" r="2.3"/><circle cx="612.1" cy="812.9" r="2.3"/><circle cx="512.7" cy="844.2" r="2.3"/><circle cx="387.0" cy="948.5" r="2.3"/><circle cx="516.2" cy="876.5" r="2.3"/><circle cx="445.7" cy="881.2" r="2.3"/><circle cx="481.7" cy="859.9" r="2.3"/><circle cx="538.0" cy="863.8" r="2.3"/><circle cx="482.3" cy="858.1" r="2.3"/><circle cx="365.8" cy="960.1" r="2.3"/><circle cx="403.0" cy="939.9" r="2.3"/><circle cx="599.2" cy="827.2" r="2.3"/><circle cx="446.6" cy="917.4" r="2.3"/><circle cx="503.2" cy="881.5" r="2.3"/><circle cx="579.0" cy="809.6" r="2.3"/><circle cx="390.2" cy="948.2" r="2.3"/><circle cx="501.8" cy="882.2" r="2.3"/><circle cx="525.9" cy="835.9" r="2.3"/><circle cx="500.7" cy="882.8" r="2.3"/><circle cx="337.0" cy="974.1" r="2.3"/><circle cx="438.6" cy="881.8" r="2.3"/><circle cx="586.7" cy="835.6" r="2.3"/><circle cx="428.1" cy="892.6" r="2.3"/><circle cx="464.5" cy="905.4" r="2.3"/><circle cx="435.0" cy="924.9" r="2.3"/><circle cx="586.9" cy="836.9" r="2.3"/><circle cx="368.5" cy="925.6" r="2.3"/><circle cx="560.6" cy="818.0" r="2.3"/><circle cx="481.8" cy="858.0" r="2.3"/><circle cx="473.7" cy="863.8" r="2.3"/><circle cx="576.4" cy="810.7" r="2.3"/><circle cx="486.3" cy="892.9" r="2.3"/><circle cx="593.0" cy="801.8" r="2.3"/><circle cx="595.0" cy="800.6" r="2.3"/><circle cx="547.6" cy="821.5" r="2.3"/><circle cx="377.3" cy="954.2" r="2.3"/><circle cx="430.9" cy="924.0" r="2.3"/><circle cx="578.5" cy="840.7" r="2.3"/><circle cx="363.4" cy="962.2" r="2.3"/><circle cx="580.8" cy="808.1" r="2.3"/><circle cx="604.3" cy="822.0" r="2.3"/><circle cx="588.3" cy="803.3" r="2.3"/><circle cx="430.3" cy="890.1" r="2.3"/><circle cx="582.9" cy="806.6" r="2.3"/><circle cx="323.8" cy="983.8" r="2.3"/><circle cx="393.2" cy="945.6" r="2.3"/><circle cx="562.1" cy="850.2" r="2.3"/><circle cx="539.1" cy="862.4" r="2.3"/><circle cx="611.9" cy="813.0" r="2.3"/><circle cx="565.1" cy="850.7" r="2.3"/><circle cx="346.2" cy="934.3" r="2.3"/><circle cx="467.0" cy="903.8" r="2.3"/><circle cx="466.6" cy="904.1" r="2.3"/><circle cx="561.6" cy="851.9" r="2.3"/><circle cx="587.2" cy="836.7" r="2.3"/><circle cx="336.6" cy="945.0" r="2.3"/><circle cx="539.6" cy="862.9" r="2.3"/><circle cx="551.7" cy="822.7" r="2.3"/><circle cx="543.1" cy="824.3" r="2.3"/><circle cx="618.4" cy="800.4" r="2.3"/><circle cx="534.5" cy="832.7" r="2.3"/><circle cx="481.6" cy="894.1" r="2.3"/><circle cx="444.6" cy="917.4" r="2.3"/><circle cx="562.3" cy="818.1" r="2.3"/><circle cx="518.8" cy="841.6" r="2.3"/><circle cx="497.7" cy="883.6" r="2.3"/><circle cx="360.9" cy="929.7" r="2.3"/><circle cx="399.4" cy="941.4" r="2.3"/><circle cx="354.6" cy="932.3" r="2.3"/><circle cx="489.2" cy="854.0" r="2.3"/><circle cx="456.2" cy="874.7" r="2.3"/><circle cx="415.4" cy="931.7" r="2.3"/><circle cx="592.3" cy="802.3" r="2.3"/><circle cx="543.1" cy="826.8" r="2.3"/><circle cx="452.2" cy="912.1" r="2.3"/><circle cx="440.8" cy="917.9" r="2.3"/><circle cx="340.5" cy="940.4" r="2.3"/><circle cx="569.8" cy="849.3" r="2.3"/><circle cx="517.5" cy="842.5" r="2.3"/><circle cx="336.4" cy="942.7" r="2.3"/><circle cx="546.9" cy="858.5" r="2.3"/><circle cx="355.8" cy="932.7" r="2.3"/><circle cx="366.6" cy="959.9" r="2.3"/><circle cx="604.9" cy="822.5" r="2.3"/><circle cx="354.2" cy="967.8" r="2.3"/><circle cx="377.7" cy="952.7" r="2.3"/><circle cx="322.1" cy="981.5" r="2.3"/><circle cx="599.7" cy="826.3" r="2.3"/><circle cx="408.5" cy="935.6" r="2.3"/><circle cx="530.4" cy="870.7" r="2.3"/><circle cx="321.2" cy="952.8" r="2.3"/><circle cx="494.5" cy="853.5" r="2.3"/><circle cx="352.3" cy="932.9" r="2.3"/><circle cx="299.1" cy="980.5" r="2.3"/><circle cx="413.1" cy="934.2" r="2.3"/><circle cx="581.1" cy="838.5" r="2.3"/><circle cx="361.4" cy="961.2" r="2.3"/><circle cx="367.2" cy="958.8" r="2.3"/><circle cx="368.3" cy="926.3" r="2.3"/><circle cx="494.8" cy="886.4" r="2.3"/><circle cx="521.5" cy="841.4" r="2.3"/><circle cx="556.7" cy="820.4" r="2.3"/><circle cx="369.2" cy="957.5" r="2.3"/><circle cx="336.7" cy="944.5" r="2.3"/><circle cx="615.1" cy="794.9" r="2.3"/><circle cx="391.8" cy="912.2" r="2.3"/><circle cx="350.1" cy="967.5" r="2.3"/><circle cx="489.5" cy="888.0" r="2.3"/><circle cx="492.4" cy="854.3" r="2.3"/><circle cx="403.2" cy="939.3" r="2.3"/><circle cx="432.4" cy="922.4" r="2.3"/><circle cx="432.3" cy="888.9" r="2.3"/><circle cx="332.9" cy="946.6" r="2.3"/><circle cx="415.4" cy="899.7" r="2.3"/><circle cx="417.3" cy="898.0" r="2.3"/><circle cx="398.3" cy="941.8" r="2.3"/><circle cx="366.5" cy="958.4" r="2.3"/><circle cx="304.1" cy="989.2" r="2.3"/><circle cx="381.8" cy="917.5" r="2.3"/><circle cx="528.4" cy="835.5" r="2.3"/><circle cx="456.8" cy="875.0" r="2.3"/><circle cx="511.2" cy="879.4" r="2.3"/><circle cx="351.5" cy="966.4" r="2.3"/><circle cx="343.6" cy="970.5" r="2.3"/><circle cx="393.0" cy="910.2" r="2.3"/><circle cx="317.6" cy="983.5" r="2.3"/><circle cx="534.2" cy="829.8" r="2.3"/><circle cx="452.6" cy="877.7" r="2.3"/><circle cx="415.5" cy="899.5" r="2.3"/><circle cx="573.4" cy="811.2" r="2.3"/><circle cx="344.6" cy="970.5" r="2.3"/><circle cx="616.8" cy="794.9" r="2.3"/><circle cx="447.2" cy="877.9" r="2.3"/><circle cx="584.6" cy="836.8" r="2.3"/><circle cx="540.9" cy="827.1" r="2.3"/><circle cx="417.7" cy="898.0" r="2.3"/><circle cx="546.1" cy="859.8" r="2.3"/><circle cx="551.5" cy="855.9" r="2.3"/><circle cx="536.4" cy="831.1" r="2.3"/><circle cx="505.2" cy="880.5" r="2.3"/><circle cx="301.9" cy="968.7" r="2.3"/><circle cx="563.9" cy="817.5" r="2.3"/><circle cx="604.3" cy="822.7" r="2.3"/><circle cx="337.8" cy="942.7" r="2.3"/><circle cx="376.3" cy="921.1" r="2.3"/><circle cx="508.2" cy="880.7" r="2.3"/><circle cx="458.0" cy="908.8" r="2.3"/><circle cx="598.9" cy="826.2" r="2.3"/><circle cx="584.4" cy="806.4" r="2.3"/><circle cx="484.9" cy="858.9" r="2.3"/><circle cx="471.6" cy="901.2" r="2.3"/><circle cx="386.3" cy="911.7" r="2.3"/><circle cx="444.5" cy="882.2" r="2.3"/><circle cx="432.4" cy="885.5" r="2.3"/><circle cx="488.0" cy="857.1" r="2.3"/><circle cx="323.8" cy="988.3" r="2.3"/><circle cx="375.4" cy="957.1" r="2.3"/><circle cx="559.9" cy="855.4" r="2.3"/><circle cx="470.1" cy="862.4" r="2.3"/><circle cx="581.2" cy="806.9" r="2.3"/><circle cx="356.2" cy="932.7" r="2.3"/><circle cx="366.7" cy="926.1" r="2.3"/><circle cx="567.9" cy="847.6" r="2.3"/><circle cx="598.4" cy="828.5" r="2.3"/><circle cx="380.8" cy="916.0" r="2.3"/><circle cx="354.5" cy="928.6" r="2.3"/><circle cx="369.9" cy="922.1" r="2.3"/><circle cx="403.9" cy="940.0" r="2.3"/><circle cx="594.0" cy="832.2" r="2.3"/><circle cx="487.1" cy="893.3" r="2.3"/><circle cx="446.0" cy="920.1" r="2.3"/><circle cx="478.5" cy="896.7" r="2.3"/><circle cx="436.8" cy="885.1" r="2.3"/><circle cx="589.9" cy="801.9" r="2.3"/><circle cx="555.0" cy="816.3" r="2.3"/><circle cx="467.7" cy="867.2" r="2.3"/><circle cx="567.5" cy="815.9" r="2.3"/><circle cx="331.3" cy="976.5" r="2.3"/><circle cx="604.5" cy="795.4" r="2.3"/><circle cx="321.0" cy="950.1" r="2.3"/><circle cx="514.6" cy="879.9" r="2.3"/><circle cx="543.9" cy="868.7" r="2.3"/><circle cx="317.7" cy="950.1" r="2.3"/><circle cx="577.3" cy="847.6" r="2.3"/><circle cx="618.0" cy="797.7" r="2.3"/><circle cx="595.0" cy="796.3" r="2.3"/><circle cx="502.5" cy="849.6" r="2.3"/><circle cx="461.8" cy="906.6" r="2.3"/><circle cx="459.4" cy="908.7" r="2.3"/><circle cx="426.3" cy="889.1" r="2.3"/><circle cx="369.1" cy="920.0" r="2.3"/><circle cx="430.9" cy="924.9" r="2.3"/><circle cx="536.6" cy="829.5" r="2.3"/><circle cx="603.1" cy="827.4" r="2.3"/><circle cx="437.2" cy="885.6" r="2.3"/><circle cx="615.8" cy="810.3" r="2.3"/><circle cx="526.0" cy="872.6" r="2.3"/><circle cx="490.0" cy="851.2" r="2.3"/><circle cx="388.3" cy="949.3" r="2.3"/><circle cx="606.8" cy="825.7" r="2.3"/><circle cx="304.0" cy="966.2" r="2.3"/><circle cx="400.3" cy="906.4" r="2.3"/><circle cx="422.6" cy="895.7" r="2.3"/><circle cx="490.6" cy="849.5" r="2.3"/><circle cx="353.2" cy="969.4" r="2.3"/><circle cx="353.7" cy="933.1" r="2.3"/><circle cx="385.9" cy="948.3" r="2.3"/><circle cx="590.8" cy="835.2" r="2.3"/><circle cx="580.2" cy="805.8" r="2.3"/><circle cx="357.7" cy="966.5" r="2.3"/><circle cx="328.9" cy="949.6" r="2.3"/><circle cx="472.6" cy="862.2" r="2.3"/><circle cx="512.4" cy="880.9" r="2.3"/><circle cx="593.0" cy="836.3" r="2.3"/><circle cx="340.0" cy="938.7" r="2.3"/><circle cx="586.0" cy="805.3" r="2.3"/><circle cx="382.9" cy="913.2" r="2.3"/><circle cx="529.7" cy="869.4" r="2.3"/><circle cx="480.5" cy="894.1" r="2.3"/><circle cx="533.5" cy="829.5" r="2.3"/><circle cx="520.6" cy="837.3" r="2.3"/><circle cx="603.0" cy="822.8" r="2.3"/><circle cx="489.3" cy="891.8" r="2.3"/><circle cx="324.3" cy="945.9" r="2.3"/><circle cx="425.3" cy="926.8" r="2.3"/><circle cx="456.3" cy="911.6" r="2.3"/><circle cx="336.3" cy="974.2" r="2.3"/><circle cx="551.4" cy="856.7" r="2.3"/><circle cx="326.1" cy="949.3" r="2.3"/><circle cx="421.1" cy="932.1" r="2.3"/><circle cx="417.2" cy="932.8" r="2.3"/><circle cx="317.6" cy="984.6" r="2.3"/><circle cx="450.3" cy="873.3" r="2.3"/><circle cx="498.8" cy="888.6" r="2.3"/><circle cx="527.0" cy="873.4" r="2.3"/><circle cx="571.7" cy="847.6" r="2.3"/><circle cx="373.8" cy="920.2" r="2.3"/><circle cx="411.9" cy="899.8" r="2.3"/><circle cx="589.1" cy="802.2" r="2.3"/><circle cx="532.9" cy="833.2" r="2.3"/><circle cx="396.4" cy="908.7" r="2.3"/><circle cx="448.5" cy="880.3" r="2.3"/><circle cx="441.8" cy="881.2" r="2.3"/><circle cx="598.9" cy="796.1" r="2.3"/><circle cx="448.9" cy="914.1" r="2.3"/><circle cx="596.8" cy="798.9" r="2.3"/><circle cx="594.5" cy="830.2" r="2.3"/><circle cx="440.9" cy="924.6" r="2.3"/><circle cx="349.5" cy="971.1" r="2.3"/><circle cx="388.6" cy="948.2" r="2.3"/><circle cx="375.4" cy="953.6" r="2.3"/><circle cx="411.8" cy="936.6" r="2.3"/><circle cx="299.7" cy="967.1" r="2.3"/><circle cx="307.5" cy="962.6" r="2.3"/><circle cx="308.9" cy="963.2" r="2.3"/><circle cx="318.4" cy="959.8" r="2.3"/><circle cx="322.2" cy="957.4" r="2.3"/><circle cx="326.2" cy="953.3" r="2.3"/><circle cx="331.2" cy="949.2" r="2.3"/><circle cx="335.2" cy="945.6" r="2.3"/><circle cx="338.6" cy="942.4" r="2.3"/><circle cx="337.8" cy="946.5" r="2.3"/><circle cx="338.2" cy="949.4" r="2.3"/><circle cx="338.8" cy="954.1" r="2.3"/><circle cx="340.0" cy="955.1" r="2.3"/><circle cx="336.3" cy="960.4" r="2.3"/><circle cx="339.0" cy="965.4" r="2.3"/><circle cx="338.3" cy="968.0" r="2.3"/><circle cx="336.6" cy="973.4" r="2.3"/><circle cx="340.3" cy="977.9" r="2.3"/><circle cx="334.0" cy="978.5" r="2.3"/><circle cx="331.7" cy="979.3" r="2.3"/><circle cx="329.0" cy="983.5" r="2.3"/><circle cx="322.4" cy="987.5" r="2.3"/><circle cx="316.4" cy="990.5" r="2.3"/><circle cx="310.8" cy="992.2" r="2.3"/><circle cx="308.5" cy="994.6" r="2.3"/><circle cx="299.8" cy="1000.6" r="2.3"/><circle cx="298.1" cy="1001.1" r="2.3"/><circle cx="295.3" cy="1003.5" r="2.3"/><circle cx="292.2" cy="992.3" r="2.3"/><circle cx="287.6" cy="993.3" r="2.3"/><circle cx="285.4" cy="992.6" r="2.3"/><circle cx="285.0" cy="989.0" r="2.3"/><circle cx="291.0" cy="983.3" r="2.3"/><circle cx="294.3" cy="981.7" r="2.3"/><circle cx="297.6" cy="974.6" r="2.3"/><circle cx="296.8" cy="971.2" r="2.3"/><circle cx="580.2" cy="800.0" r="2.3"/><circle cx="590.8" cy="801.2" r="2.3"/><circle cx="589.9" cy="799.3" r="2.3"/><circle cx="593.4" cy="799.4" r="2.3"/><circle cx="595.2" cy="798.6" r="2.3"/><circle cx="599.0" cy="796.0" r="2.3"/><circle cx="604.5" cy="796.6" r="2.3"/><circle cx="607.5" cy="798.2" r="2.3"/><circle cx="610.6" cy="799.3" r="2.3"/><circle cx="612.3" cy="792.9" r="2.3"/><circle cx="616.5" cy="791.4" r="2.3"/><circle cx="618.3" cy="790.3" r="2.3"/><circle cx="620.5" cy="792.7" r="2.3"/><circle cx="629.5" cy="789.5" r="2.3"/><circle cx="631.8" cy="791.8" r="2.3"/><circle cx="637.4" cy="789.7" r="2.3"/><circle cx="637.0" cy="793.3" r="2.3"/><circle cx="641.4" cy="791.6" r="2.3"/><circle cx="646.6" cy="792.4" r="2.3"/><circle cx="650.4" cy="792.9" r="2.3"/><circle cx="648.4" cy="793.9" r="2.3"/><circle cx="642.0" cy="796.0" r="2.3"/><circle cx="634.8" cy="798.6" r="2.3"/><circle cx="635.6" cy="797.4" r="2.3"/><circle cx="629.2" cy="800.3" r="2.3"/><circle cx="630.6" cy="799.8" r="2.3"/><circle cx="625.5" cy="802.9" r="2.3"/><circle cx="623.4" cy="804.9" r="2.3"/><circle cx="622.5" cy="807.1" r="2.3"/><circle cx="624.2" cy="810.5" r="2.3"/><circle cx="616.3" cy="811.2" r="2.3"/><circle cx="614.1" cy="813.9" r="2.3"/><circle cx="611.3" cy="818.8" r="2.3"/><circle cx="608.3" cy="823.4" r="2.3"/><circle cx="605.4" cy="825.3" r="2.3"/><circle cx="599.8" cy="831.8" r="2.3"/><circle cx="601.2" cy="829.0" r="2.3"/><circle cx="598.0" cy="831.7" r="2.3"/><circle cx="589.2" cy="840.8" r="2.3"/><circle cx="594.3" cy="834.0" r="2.3"/><circle cx="587.4" cy="839.9" r="2.3"/><circle cx="580.9" cy="842.0" r="2.3"/><circle cx="582.7" cy="837.4" r="2.3"/><circle cx="579.9" cy="837.5" r="2.3"/><circle cx="583.1" cy="831.8" r="2.3"/><circle cx="578.4" cy="833.6" r="2.3"/><circle cx="580.6" cy="827.9" r="2.3"/><circle cx="580.1" cy="823.7" r="2.3"/><circle cx="580.9" cy="822.1" r="2.3"/><circle cx="582.2" cy="816.1" r="2.3"/><circle cx="585.8" cy="813.2" r="2.3"/><circle cx="583.7" cy="810.4" r="2.3"/><circle cx="580.8" cy="807.2" r="2.3"/><circle cx="583.0" cy="805.2" r="2.3"/><circle cx="586.1" cy="803.6" r="2.3"/><circle cx="666.1" cy="757.1" r="2.3"/><circle cx="668.0" cy="759.4" r="2.3"/><circle cx="640.9" cy="765.8" r="2.3"/><circle cx="683.5" cy="766.8" r="2.3"/><circle cx="671.9" cy="771.6" r="2.3"/><circle cx="675.8" cy="774.9" r="2.3"/><circle cx="684.5" cy="774.9" r="2.3"/><circle cx="687.4" cy="773.9" r="2.3"/><circle cx="694.2" cy="777.2" r="2.3"/><circle cx="649.6" cy="770.0" r="2.3"/><circle cx="633.1" cy="771.0" r="2.3"/><circle cx="637.0" cy="775.9" r="2.3"/><circle cx="631.2" cy="777.8" r="2.3"/><circle cx="622.4" cy="778.8" r="2.3"/><circle cx="621.5" cy="782.7" r="2.3"/><circle cx="598.2" cy="783.6" r="2.3"/><circle cx="645.7" cy="777.8" r="2.3"/><circle cx="648.6" cy="775.9" r="2.3"/><circle cx="654.4" cy="776.8" r="2.3"/><circle cx="656.4" cy="779.8" r="2.3"/><circle cx="660.2" cy="774.9" r="2.3"/><circle cx="657.3" cy="787.1" r="2.3"/><circle cx="671.9" cy="798.2" r="2.3"/><circle cx="652.5" cy="790.8" r="2.3"/><circle cx="647.6" cy="791.4" r="2.3"/><circle cx="649.6" cy="796.2" r="2.3"/><circle cx="639.9" cy="801.7" r="2.3"/><circle cx="638.9" cy="807.9" r="2.3"/><circle cx="635.0" cy="804.0" r="2.3"/><circle cx="628.2" cy="815.6" r="2.3"/><circle cx="629.2" cy="816.6" r="2.3"/><circle cx="614.7" cy="823.4" r="2.3"/><circle cx="613.7" cy="819.5" r="2.3"/><circle cx="584.6" cy="845.7" r="2.3"/><circle cx="589.5" cy="842.4" r="2.3"/><circle cx="574.9" cy="846.3" r="2.3"/><circle cx="567.2" cy="851.5" r="2.3"/><circle cx="564.2" cy="852.1" r="2.3"/><circle cx="542.9" cy="864.1" r="2.3"/><circle cx="640.6" cy="766.3" r="2.3"/><circle cx="632.9" cy="771.6" r="2.3"/><circle cx="636.2" cy="774.5" r="2.3"/><circle cx="630.4" cy="777.5" r="2.3"/><circle cx="634.3" cy="777.9" r="2.3"/><circle cx="638.2" cy="775.0" r="2.3"/><circle cx="622.7" cy="778.9" r="2.3"/><circle cx="621.7" cy="782.8" r="2.3"/><circle cx="604.2" cy="789.6" r="2.3"/><circle cx="608.1" cy="789.6" r="2.3"/><circle cx="597.5" cy="794.4" r="2.3"/><circle cx="582.9" cy="802.7" r="2.3"/><circle cx="649.3" cy="769.7" r="2.3"/><circle cx="645.9" cy="779.4" r="2.3"/><circle cx="647.9" cy="776.5" r="2.3"/><circle cx="651.8" cy="775.5" r="2.3"/><circle cx="656.6" cy="777.9" r="2.3"/><circle cx="657.6" cy="787.2" r="2.3"/><circle cx="652.7" cy="791.0" r="2.3"/><circle cx="648.9" cy="796.4" r="2.3"/><circle cx="640.1" cy="801.2" r="2.3"/><circle cx="632.4" cy="804.6" r="2.3"/><circle cx="638.2" cy="807.5" r="2.3"/><circle cx="627.5" cy="809.5" r="2.3"/><circle cx="628.5" cy="816.2" r="2.3"/><circle cx="630.4" cy="816.7" r="2.3"/><circle cx="613.0" cy="824.0" r="2.3"/><circle cx="614.9" cy="823.0" r="2.3"/><circle cx="751.5" cy="712.4" r="2.3"/><circle cx="723.5" cy="739.0" r="2.3"/><circle cx="734.7" cy="740.3" r="2.3"/><circle cx="172.0" cy="1034.9" r="2.3"/><circle cx="191.6" cy="1040.5" r="2.3"/><circle cx="212.8" cy="1048.9" r="2.3"/><circle cx="235.8" cy="1036.3" r="2.3"/><circle cx="220.5" cy="1015.7" r="2.3"/><circle cx="230.4" cy="1008.7" r="2.3"/><circle cx="238.0" cy="999.0" r="2.3"/><circle cx="249.2" cy="996.9" r="2.3"/><circle cx="251.5" cy="1002.9" r="2.3"/><circle cx="241.5" cy="1010.1" r="2.3"/><circle cx="244.8" cy="1012.4" r="2.3"/><circle cx="249.2" cy="1013.0" r="2.3"/><circle cx="251.2" cy="1012.4" r="2.3"/><circle cx="246.7" cy="1019.8" r="2.3"/><circle cx="258.5" cy="1011.8" r="2.3"/><circle cx="262.8" cy="999.4" r="2.3"/><circle cx="265.7" cy="992.5" r="2.3"/><circle cx="268.2" cy="990.1" r="2.3"/><circle cx="264.7" cy="1008.6" r="2.3"/><circle cx="269.6" cy="1009.1" r="2.3"/><circle cx="276.0" cy="988.2" r="2.3"/><circle cx="277.3" cy="964.9" r="2.3"/><circle cx="276.4" cy="977.5" r="2.3"/><circle cx="277.3" cy="981.4" r="2.3"/><circle cx="281.2" cy="987.8" r="2.3"/><circle cx="274.4" cy="1004.7" r="2.3"/><circle cx="277.3" cy="1001.4" r="2.3"/><circle cx="282.2" cy="1006.6" r="2.3"/><circle cx="284.1" cy="1005.6" r="2.3"/><circle cx="288.4" cy="1009.5" r="2.3"/><circle cx="296.7" cy="1001.8" r="2.3"/><circle cx="304.5" cy="1000.2" r="2.3"/><circle cx="317.1" cy="952.3" r="2.3"/><circle cx="277.3" cy="964.4" r="2.3"/><circle cx="326.2" cy="945.0" r="2.3"/><circle cx="322.4" cy="949.9" r="2.3"/><circle cx="316.5" cy="951.8" r="2.3"/><circle cx="317.5" cy="954.2" r="2.3"/><circle cx="333.5" cy="943.6" r="2.3"/><circle cx="275.8" cy="977.5" r="2.3"/><circle cx="277.8" cy="979.5" r="2.3"/><circle cx="275.8" cy="982.4" r="2.3"/><circle cx="282.6" cy="980.0" r="2.3"/><circle cx="275.8" cy="988.2" r="2.3"/><circle cx="281.6" cy="988.2" r="2.3"/><circle cx="325.8" cy="992.1" r="2.3"/><circle cx="332.1" cy="993.0" r="2.3"/><circle cx="302.0" cy="996.9" r="2.3"/><circle cx="304.9" cy="1000.3" r="2.3"/><circle cx="276.8" cy="1000.8" r="2.3"/><circle cx="282.6" cy="1003.7" r="2.3"/><circle cx="287.5" cy="1007.6" r="2.3"/><circle cx="271.9" cy="1005.6" r="2.3"/><circle cx="285.5" cy="973.6" r="2.3"/><circle cx="270.0" cy="990.1" r="2.3"/><circle cx="429.0" cy="877.8" r="2.3"/><circle cx="397.9" cy="902.7" r="2.3"/><circle cx="385.3" cy="912.0" r="2.3"/><circle cx="414.4" cy="895.9" r="2.3"/><circle cx="326.2" cy="945.0" r="2.3"/><circle cx="333.0" cy="945.0" r="2.3"/><circle cx="317.5" cy="952.1" r="2.3"/><circle cx="322.3" cy="950.8" r="2.3"/><circle cx="433.8" cy="931.8" r="2.3"/><circle cx="437.7" cy="927.9" r="2.3"/><circle cx="416.4" cy="938.5" r="2.3"/><circle cx="414.4" cy="940.5" r="2.3"/><circle cx="389.2" cy="954.1" r="2.3"/><circle cx="357.2" cy="970.5" r="2.3"/><circle cx="325.2" cy="991.9" r="2.3"/><circle cx="332.0" cy="992.9" r="2.3"/><circle cx="303.9" cy="999.6" r="2.3"/><circle cx="434.5" cy="931.9" r="2.3"/><circle cx="438.8" cy="928.0" r="2.3"/><circle cx="460.1" cy="920.2" r="2.3"/><circle cx="473.7" cy="906.7" r="2.3"/><circle cx="428.1" cy="883.4" r="2.3"/><circle cx="429.1" cy="877.6" r="2.3"/></g><path d="M318.0,970.0 L321.0,968.3 L324.0,963.6 L327.0,960.3 L330.0,957.1 L333.0,953.9 L336.0,950.7 L339.0,947.8 L342.0,945.8 L345.0,943.8 L348.0,941.8 L351.0,939.9 L354.0,938.1 L357.0,936.4 L360.0,934.6 L363.0,932.8 L366.0,931.0 L369.0,929.2 L372.0,927.4 L375.0,925.6 L378.0,923.8 L381.0,922.0 L384.0,920.4 L387.0,918.7 L390.0,917.1 L393.0,915.4 L396.0,913.8 L399.0,912.1 L402.0,910.4 L405.0,908.7 L408.0,907.0 L411.0,905.2 L414.0,903.5 L417.0,901.8 L420.0,900.1 L423.0,898.3 L426.0,896.6 L429.0,894.9 L432.0,893.1 L435.0,891.4 L438.0,889.6 L441.0,887.8 L444.0,886.1 L447.0,884.3 L450.0,882.6 L453.0,880.9 L456.0,879.1 L459.0,877.4 L462.0,875.7 L465.0,874.1 L468.0,872.5 L471.0,870.9 L474.0,869.3 L477.0,867.7 L480.0,866.0 L483.0,864.6 L486.0,863.1 L489.0,861.6 L492.0,860.2 L495.0,858.7 L498.0,857.3 L501.0,855.8 L504.0,854.2 L507.0,852.7 L510.0,851.1 L513.0,849.6 L516.0,848.1 L519.0,846.5 L522.0,844.7 L525.0,842.7 L528.0,840.7 L531.0,838.7 L534.0,836.7 L537.0,834.7 L540.0,832.8 L543.0,831.4 L546.0,830.1 L549.0,828.8 L552.0,827.4 L555.0,826.1 L558.0,824.7 L561.0,823.4 L564.0,822.1 L567.0,820.7 L570.0,819.3 L573.0,817.9 L576.0,816.4 L579.0,814.9 L582.0,813.5 L585.0,812.0 L588.0,810.5 L591.0,809.2 L594.0,808.1 L597.0,807.1 L600.0,806.0 L603.0,804.9 L606.0,803.6 L609.0,802.4 L612.0,801.2 L615.0,800.0 L618.0,798.8 L621.0,797.5 L624.0,796.3 L627.0,795.5 L630.0,793.6 L630.0,793.6 L627.0,795.5 L624.0,798.3 L621.0,800.8 L618.0,803.3 L615.0,805.7 L612.0,808.2 L609.0,810.7 L606.0,813.1 L603.0,815.6 L600.0,818.0 L597.0,820.6 L594.0,823.1 L591.0,825.7 L588.0,828.0 L585.0,830.1 L582.0,832.3 L579.0,834.4 L576.0,836.6 L573.0,838.7 L570.0,840.9 L567.0,842.8 L564.0,844.5 L561.0,846.2 L558.0,847.8 L555.0,849.5 L552.0,851.1 L549.0,852.8 L546.0,854.4 L543.0,856.1 L540.0,857.8 L537.0,859.7 L534.0,861.7 L531.0,863.7 L528.0,865.7 L525.0,867.7 L522.0,869.7 L519.0,871.4 L516.0,872.5 L513.0,873.6 L510.0,874.6 L507.0,875.7 L504.0,876.8 L501.0,877.9 L498.0,879.3 L495.0,880.7 L492.0,882.2 L489.0,883.6 L486.0,885.1 L483.0,886.6 L480.0,888.0 L477.0,890.4 L474.0,892.8 L471.0,895.1 L468.0,897.5 L465.0,899.9 L462.0,902.2 L459.0,904.3 L456.0,906.0 L453.0,907.6 L450.0,909.3 L447.0,910.9 L444.0,912.5 L441.0,914.2 L438.0,915.8 L435.0,917.5 L432.0,919.2 L429.0,920.9 L426.0,922.6 L423.0,924.3 L420.0,926.1 L417.0,927.8 L414.0,929.5 L411.0,931.2 L408.0,933.0 L405.0,934.7 L402.0,936.4 L399.0,938.1 L396.0,939.8 L393.0,941.4 L390.0,943.1 L387.0,944.7 L384.0,946.4 L381.0,948.0 L378.0,949.6 L375.0,951.1 L372.0,952.6 L369.0,954.1 L366.0,955.6 L363.0,957.1 L360.0,958.6 L357.0,960.1 L354.0,961.5 L351.0,963.0 L348.0,964.3 L345.0,965.5 L342.0,966.8 L339.0,968.1 L336.0,968.7 L333.0,968.9 L330.0,969.1 L327.0,969.3 L324.0,969.6 L321.0,968.3 L318.0,970.0Z" fill="#008000"/><g fill="#008000" fill-opacity="0.6" stroke="#008000" stroke-opacity="0.6" stroke-width="1"><circle cx="475.8" cy="867.5" r="2.3"/><circle cx="378.7" cy="921.7" r="2.3"/><circle cx="559.0" cy="822.6" r="2.3"/><circle cx="598.7" cy="820.2" r="2.3"/><circle cx="584.0" cy="811.2" r="2.3"/><circle cx="589.6" cy="809.0" r="2.3"/><circle cx="471.2" cy="869.9" r="2.3"/><circle cx="353.9" cy="936.7" r="2.3"/><circle cx="556.8" cy="824.1" r="2.3"/><circle cx="437.6" cy="916.2" r="2.3"/><circle cx="562.9" cy="821.7" r="2.3"/><circle cx="571.3" cy="818.6" r="2.3"/><circle cx="555.4" cy="849.5" r="2.3"/><circle cx="367.5" cy="955.4" r="2.3"/><circle cx="439.8" cy="887.6" r="2.3"/><circle cx="612.7" cy="810.1" r="2.3"/><circle cx="377.9" cy="922.6" r="2.3"/><circle cx="524.7" cy="839.7" r="2.3"/><circle cx="504.2" cy="853.6" r="2.3"/><circle cx="442.5" cy="915.5" r="2.3"/><circle cx="516.1" cy="872.7" r="2.3"/><circle cx="379.4" cy="922.8" r="2.3"/><circle cx="481.0" cy="888.2" r="2.3"/><circle cx="579.1" cy="834.8" r="2.3"/><circle cx="457.7" cy="877.2" r="2.3"/><circle cx="587.7" cy="830.3" r="2.3"/><circle cx="444.0" cy="913.9" r="2.3"/><circle cx="375.1" cy="924.4" r="2.3"/><circle cx="396.6" cy="911.8" r="2.3"/><circle cx="560.2" cy="823.7" r="2.3"/><circle cx="405.9" cy="937.9" r="2.3"/><circle cx="484.6" cy="862.1" r="2.3"/><circle cx="497.0" cy="857.3" r="2.3"/><circle cx="513.2" cy="849.4" r="2.3"/><circle cx="629.5" cy="794.2" r="2.3"/><circle cx="543.9" cy="830.4" r="2.3"/><circle cx="532.0" cy="863.5" r="2.3"/><circle cx="590.8" cy="827.0" r="2.3"/><circle cx="368.9" cy="928.4" r="2.3"/><circle cx="588.0" cy="828.2" r="2.3"/><circle cx="355.8" cy="961.0" r="2.3"/><circle cx="416.2" cy="902.1" r="2.3"/><circle cx="418.3" cy="900.4" r="2.3"/><circle cx="479.6" cy="889.5" r="2.3"/><circle cx="441.0" cy="886.5" r="2.3"/><circle cx="626.8" cy="795.2" r="2.3"/><circle cx="606.3" cy="815.0" r="2.3"/><circle cx="601.4" cy="817.0" r="2.3"/><circle cx="447.1" cy="883.2" r="2.3"/><circle cx="570.7" cy="817.1" r="2.3"/><circle cx="606.4" cy="801.0" r="2.3"/><circle cx="469.7" cy="898.3" r="2.3"/><circle cx="506.6" cy="850.6" r="2.3"/><circle cx="598.8" cy="805.0" r="2.3"/><circle cx="461.1" cy="874.5" r="2.3"/><circle cx="402.9" cy="908.5" r="2.3"/><circle cx="506.4" cy="850.8" r="2.3"/><circle cx="589.0" cy="808.4" r="2.3"/><circle cx="340.9" cy="968.1" r="2.3"/><circle cx="319.7" cy="971.3" r="2.3"/><circle cx="379.7" cy="949.9" r="2.3"/><circle cx="402.8" cy="936.0" r="2.3"/><circle cx="611.8" cy="800.6" r="2.3"/><circle cx="602.1" cy="804.2" r="2.3"/><circle cx="569.7" cy="841.2" r="2.3"/><circle cx="583.1" cy="834.4" r="2.3"/><circle cx="484.2" cy="863.4" r="2.3"/><circle cx="450.1" cy="910.9" r="2.3"/><circle cx="352.0" cy="966.0" r="2.3"/><circle cx="347.1" cy="966.2" r="2.3"/><circle cx="522.6" cy="843.5" r="2.3"/><circle cx="458.3" cy="905.5" r="2.3"/><circle cx="361.9" cy="958.3" r="2.3"/><circle cx="319.0" cy="968.6" r="2.3"/><circle cx="333.1" cy="969.6" r="2.3"/><circle cx="489.7" cy="859.1" r="2.3"/><circle cx="625.6" cy="796.0" r="2.3"/><circle cx="615.4" cy="799.3" r="2.3"/><circle cx="502.4" cy="880.7" r="2.3"/><circle cx="372.3" cy="953.6" r="2.3"/><circle cx="368.2" cy="929.3" r="2.3"/><circle cx="456.5" cy="877.9" r="2.3"/><circle cx="520.7" cy="842.2" r="2.3"/><circle cx="597.9" cy="806.2" r="2.3"/><circle cx="534.4" cy="833.1" r="2.3"/><circle cx="454.6" cy="878.0" r="2.3"/><circle cx="374.0" cy="925.1" r="2.3"/><circle cx="344.7" cy="969.4" r="2.3"/><circle cx="465.5" cy="900.8" r="2.3"/><circle cx="619.7" cy="802.2" r="2.3"/><circle cx="400.2" cy="909.0" r="2.3"/><circle cx="563.5" cy="845.5" r="2.3"/><circle cx="391.2" cy="942.9" r="2.3"/><circle cx="613.7" cy="798.9" r="2.3"/><circle cx="494.3" cy="881.2" r="2.3"/><circle cx="418.6" cy="899.4" r="2.3"/><circle cx="470.7" cy="895.4" r="2.3"/><circle cx="513.6" cy="848.0" r="2.3"/><circle cx="482.9" cy="889.1" r="2.3"/><circle cx="335.8" cy="969.9" r="2.3"/><circle cx="350.2" cy="939.6" r="2.3"/><circle cx="446.3" cy="883.9" r="2.3"/><circle cx="392.7" cy="914.9" r="2.3"/><circle cx="368.1" cy="958.1" r="2.3"/><circle cx="509.5" cy="877.9" r="2.3"/><circle cx="442.6" cy="885.9" r="2.3"/><circle cx="528.9" cy="839.9" r="2.3"/><circle cx="392.7" cy="914.7" r="2.3"/><circle cx="479.2" cy="891.0" r="2.3"/><circle cx="333.0" cy="951.5" r="2.3"/><circle cx="618.7" cy="803.2" r="2.3"/><circle cx="366.0" cy="956.5" r="2.3"/><circle cx="613.7" cy="798.4" r="2.3"/><circle cx="478.0" cy="891.6" r="2.3"/><circle cx="380.0" cy="921.2" r="2.3"/><circle cx="373.6" cy="922.7" r="2.3"/><circle cx="556.4" cy="825.0" r="2.3"/><circle cx="572.2" cy="817.3" r="2.3"/><circle cx="556.7" cy="851.3" r="2.3"/><circle cx="501.9" cy="854.3" r="2.3"/><circle cx="586.7" cy="830.2" r="2.3"/><circle cx="513.1" cy="849.4" r="2.3"/><circle cx="426.0" cy="925.9" r="2.3"/><circle cx="526.5" cy="841.5" r="2.3"/><circle cx="384.3" cy="946.4" r="2.3"/><circle cx="417.7" cy="900.8" r="2.3"/><circle cx="427.0" cy="894.2" r="2.3"/><circle cx="322.1" cy="968.8" r="2.3"/><circle cx="339.8" cy="946.9" r="2.3"/><circle cx="534.0" cy="836.5" r="2.3"/><circle cx="382.8" cy="948.6" r="2.3"/><circle cx="530.3" cy="837.7" r="2.3"/><circle cx="624.2" cy="798.1" r="2.3"/><circle cx="344.0" cy="966.1" r="2.3"/><circle cx="505.4" cy="876.3" r="2.3"/><circle cx="553.7" cy="852.6" r="2.3"/><circle cx="560.6" cy="847.4" r="2.3"/><circle cx="420.3" cy="898.7" r="2.3"/><circle cx="444.9" cy="913.8" r="2.3"/><circle cx="531.7" cy="863.9" r="2.3"/><circle cx="586.7" cy="829.8" r="2.3"/><circle cx="619.1" cy="802.5" r="2.3"/><circle cx="428.6" cy="894.8" r="2.3"/><circle cx="393.4" cy="944.7" r="2.3"/><circle cx="527.3" cy="867.1" r="2.3"/><circle cx="482.6" cy="864.0" r="2.3"/><circle cx="453.5" cy="879.6" r="2.3"/><circle cx="472.1" cy="868.6" r="2.3"/><circle cx="325.2" cy="971.4" r="2.3"/><circle cx="341.3" cy="968.3" r="2.3"/><circle cx="485.0" cy="885.6" r="2.3"/><circle cx="331.0" cy="970.0" r="2.3"/><circle cx="494.4" cy="858.3" r="2.3"/><circle cx="546.2" cy="828.8" r="2.3"/><circle cx="481.4" cy="891.5" r="2.3"/><circle cx="576.7" cy="837.1" r="2.3"/><circle cx="523.4" cy="870.2" r="2.3"/><circle cx="485.8" cy="885.9" r="2.3"/><circle cx="557.9" cy="824.0" r="2.3"/><circle cx="483.6" cy="887.5" r="2.3"/><circle cx="448.0" cy="912.0" r="2.3"/><circle cx="521.5" cy="843.3" r="2.3"/><circle cx="591.0" cy="828.0" r="2.3"/><circle cx="338.6" cy="969.4" r="2.3"/><circle cx="626.9" cy="796.0" r="2.3"/><circle cx="321.6" cy="967.1" r="2.3"/><circle cx="352.2" cy="938.2" r="2.3"/><circle cx="384.6" cy="917.7" r="2.3"/><circle cx="506.5" cy="878.1" r="2.3"/><circle cx="594.7" cy="823.1" r="2.3"/><circle cx="393.7" cy="945.5" r="2.3"/><circle cx="456.0" cy="906.6" r="2.3"/><circle cx="550.0" cy="855.3" r="2.3"/><circle cx="517.0" cy="872.4" r="2.3"/><circle cx="521.8" cy="844.4" r="2.3"/><circle cx="407.6" cy="906.6" r="2.3"/><circle cx="563.8" cy="820.8" r="2.3"/><circle cx="504.5" cy="852.2" r="2.3"/><circle cx="547.5" cy="828.9" r="2.3"/><circle cx="575.4" cy="814.8" r="2.3"/><circle cx="457.7" cy="877.2" r="2.3"/><circle cx="403.3" cy="908.6" r="2.3"/><circle cx="611.4" cy="810.0" r="2.3"/><circle cx="589.0" cy="807.8" r="2.3"/><circle cx="613.9" cy="806.9" r="2.3"/><circle cx="496.5" cy="854.5" r="2.3"/><circle cx="395.2" cy="914.1" r="2.3"/><circle cx="555.8" cy="850.3" r="2.3"/><circle cx="388.2" cy="946.5" r="2.3"/><circle cx="573.4" cy="815.5" r="2.3"/><circle cx="319.9" cy="968.3" r="2.3"/><circle cx="340.0" cy="946.5" r="2.3"/><circle cx="395.7" cy="940.0" r="2.3"/><circle cx="470.5" cy="896.0" r="2.3"/><circle cx="596.0" cy="824.1" r="2.3"/><circle cx="534.9" cy="861.6" r="2.3"/><circle cx="624.7" cy="799.1" r="2.3"/><circle cx="385.6" cy="916.7" r="2.3"/><circle cx="599.8" cy="804.2" r="2.3"/><circle cx="623.1" cy="796.6" r="2.3"/><circle cx="423.7" cy="925.3" r="2.3"/><circle cx="443.9" cy="883.1" r="2.3"/><circle cx="479.0" cy="889.4" r="2.3"/><circle cx="462.4" cy="874.9" r="2.3"/><circle cx="620.2" cy="797.8" r="2.3"/><circle cx="448.1" cy="912.6" r="2.3"/><circle cx="512.2" cy="874.4" r="2.3"/><circle cx="555.8" cy="825.6" r="2.3"/><circle cx="392.1" cy="943.1" r="2.3"/><circle cx="535.8" cy="835.5" r="2.3"/><circle cx="566.1" cy="844.2" r="2.3"/><circle cx="540.9" cy="832.1" r="2.3"/><circle cx="400.6" cy="939.4" r="2.3"/><circle cx="620.1" cy="796.2" r="2.3"/><circle cx="613.3" cy="808.1" r="2.3"/><circle cx="625.5" cy="798.8" r="2.3"/><circle cx="627.7" cy="796.2" r="2.3"/><circle cx="452.1" cy="880.2" r="2.3"/><circle cx="468.6" cy="870.4" r="2.3"/><circle cx="535.9" cy="831.5" r="2.3"/><circle cx="439.4" cy="888.5" r="2.3"/><circle cx="621.0" cy="801.4" r="2.3"/><circle cx="340.4" cy="968.3" r="2.3"/><circle cx="409.5" cy="932.8" r="2.3"/><circle cx="542.0" cy="857.6" r="2.3"/><circle cx="431.3" cy="893.0" r="2.3"/><circle cx="505.3" cy="851.4" r="2.3"/><circle cx="610.5" cy="810.7" r="2.3"/><circle cx="526.5" cy="840.4" r="2.3"/><circle cx="552.0" cy="826.7" r="2.3"/><circle cx="360.6" cy="933.9" r="2.3"/><circle cx="506.3" cy="876.7" r="2.3"/><circle cx="549.7" cy="827.2" r="2.3"/><circle cx="372.9" cy="952.8" r="2.3"/><circle cx="465.5" cy="873.3" r="2.3"/><circle cx="422.0" cy="898.5" r="2.3"/><circle cx="395.6" cy="914.0" r="2.3"/><circle cx="346.7" cy="939.9" r="2.3"/><circle cx="427.9" cy="893.7" r="2.3"/><circle cx="546.7" cy="828.6" r="2.3"/><circle cx="530.5" cy="865.2" r="2.3"/><circle cx="383.7" cy="920.4" r="2.3"/><circle cx="625.9" cy="797.0" r="2.3"/><circle cx="401.9" cy="937.6" r="2.3"/><circle cx="583.4" cy="812.6" r="2.3"/><circle cx="587.2" cy="829.4" r="2.3"/><circle cx="509.3" cy="851.1" r="2.3"/><circle cx="428.0" cy="894.7" r="2.3"/><circle cx="462.3" cy="874.1" r="2.3"/><circle cx="412.7" cy="900.7" r="2.3"/><circle cx="396.2" cy="939.8" r="2.3"/><circle cx="562.8" cy="820.5" r="2.3"/><circle cx="482.1" cy="862.6" r="2.3"/><circle cx="366.4" cy="956.8" r="2.3"/><circle cx="562.5" cy="846.2" r="2.3"/><circle cx="418.4" cy="899.6" r="2.3"/><circle cx="515.8" cy="874.0" r="2.3"/><circle cx="531.8" cy="863.3" r="2.3"/><circle cx="461.7" cy="875.4" r="2.3"/><circle cx="323.6" cy="963.3" r="2.3"/><circle cx="333.9" cy="971.9" r="2.3"/><circle cx="488.0" cy="885.3" r="2.3"/><circle cx="421.3" cy="928.0" r="2.3"/><circle cx="469.3" cy="899.0" r="2.3"/><circle cx="506.0" cy="852.3" r="2.3"/><circle cx="389.7" cy="917.0" r="2.3"/><circle cx="423.7" cy="897.5" r="2.3"/><circle cx="425.6" cy="924.1" r="2.3"/><circle cx="562.1" cy="821.6" r="2.3"/><circle cx="468.9" cy="870.1" r="2.3"/><circle cx="415.1" cy="901.7" r="2.3"/><circle cx="418.8" cy="900.3" r="2.3"/><circle cx="473.8" cy="895.1" r="2.3"/><circle cx="592.0" cy="807.1" r="2.3"/><circle cx="337.4" cy="969.9" r="2.3"/><circle cx="500.2" cy="879.0" r="2.3"/><circle cx="481.1" cy="865.3" r="2.3"/><circle cx="510.4" cy="875.0" r="2.3"/><circle cx="414.5" cy="903.1" r="2.3"/><circle cx="519.2" cy="845.2" r="2.3"/><circle cx="434.7" cy="920.2" r="2.3"/><circle cx="553.1" cy="850.9" r="2.3"/><circle cx="595.6" cy="807.1" r="2.3"/><circle cx="427.1" cy="922.9" r="2.3"/><circle cx="321.7" cy="965.5" r="2.3"/><circle cx="411.1" cy="933.0" r="2.3"/><circle cx="363.9" cy="930.2" r="2.3"/><circle cx="522.9" cy="843.8" r="2.3"/><circle cx="478.8" cy="891.1" r="2.3"/><circle cx="420.6" cy="897.5" r="2.3"/><circle cx="465.0" cy="900.3" r="2.3"/><circle cx="413.1" cy="903.3" r="2.3"/><circle cx="341.4" cy="943.5" r="2.3"/><circle cx="597.2" cy="807.0" r="2.3"/><circle cx="477.9" cy="866.9" r="2.3"/><circle cx="390.8" cy="915.9" r="2.3"/><circle cx="368.5" cy="927.0" r="2.3"/><circle cx="411.8" cy="930.9" r="2.3"/><circle cx="400.3" cy="910.4" r="2.3"/><circle cx="607.6" cy="813.4" r="2.3"/><circle cx="585.7" cy="829.7" r="2.3"/><circle cx="518.8" cy="872.7" r="2.3"/><circle cx="555.5" cy="849.6" r="2.3"/><circle cx="352.3" cy="963.1" r="2.3"/><circle cx="343.2" cy="944.7" r="2.3"/><circle cx="457.7" cy="875.1" r="2.3"/><circle cx="342.6" cy="944.0" r="2.3"/><circle cx="502.4" cy="854.3" r="2.3"/><circle cx="382.3" cy="947.6" r="2.3"/><circle cx="542.7" cy="831.4" r="2.3"/><circle cx="408.5" cy="933.2" r="2.3"/><circle cx="462.4" cy="902.8" r="2.3"/><circle cx="577.6" cy="814.9" r="2.3"/><circle cx="623.5" cy="800.8" r="2.3"/><circle cx="374.9" cy="923.5" r="2.3"/><circle cx="491.3" cy="859.7" r="2.3"/><circle cx="429.1" cy="894.7" r="2.3"/><circle cx="473.6" cy="869.3" r="2.3"/><circle cx="494.0" cy="857.2" r="2.3"/><circle cx="589.2" cy="807.9" r="2.3"/><circle cx="460.2" cy="874.5" r="2.3"/><circle cx="425.5" cy="896.5" r="2.3"/><circle cx="359.1" cy="962.3" r="2.3"/><circle cx="386.3" cy="918.5" r="2.3"/><circle cx="339.5" cy="943.8" r="2.3"/><circle cx="623.8" cy="801.4" r="2.3"/><circle cx="586.1" cy="829.7" r="2.3"/><circle cx="390.9" cy="944.5" r="2.3"/><circle cx="353.1" cy="936.5" r="2.3"/><circle cx="457.1" cy="876.8" r="2.3"/><circle cx="477.9" cy="865.8" r="2.3"/><circle cx="567.4" cy="818.8" r="2.3"/><circle cx="328.8" cy="956.6" r="2.3"/><circle cx="525.7" cy="869.5" r="2.3"/><circle cx="502.1" cy="879.7" r="2.3"/><circle cx="598.7" cy="805.1" r="2.3"/><circle cx="347.3" cy="940.8" r="2.3"/><circle cx="568.8" cy="842.6" r="2.3"/><circle cx="523.8" cy="868.8" r="2.3"/><circle cx="524.7" cy="842.1" r="2.3"/><circle cx="324.3" cy="962.9" r="2.3"/><circle cx="521.4" cy="870.5" r="2.3"/><circle cx="330.5" cy="969.8" r="2.3"/><circle cx="540.4" cy="830.0" r="2.3"/><circle cx="520.6" cy="872.5" r="2.3"/><circle cx="456.6" cy="906.2" r="2.3"/><circle cx="615.9" cy="798.4" r="2.3"/><circle cx="364.9" cy="931.2" r="2.3"/><circle cx="559.9" cy="848.3" r="2.3"/><circle cx="379.5" cy="920.9" r="2.3"/><circle cx="550.8" cy="827.5" r="2.3"/><circle cx="617.9" cy="803.5" r="2.3"/><circle cx="597.1" cy="823.3" r="2.3"/><circle cx="593.3" cy="806.1" r="2.3"/><circle cx="601.2" cy="819.0" r="2.3"/><circle cx="563.4" cy="844.9" r="2.3"/><circle cx="331.3" cy="971.2" r="2.3"/><circle cx="445.4" cy="912.0" r="2.3"/><circle cx="448.8" cy="882.9" r="2.3"/><circle cx="455.9" cy="877.6" r="2.3"/><circle cx="385.4" cy="946.9" r="2.3"/><circle cx="369.7" cy="954.3" r="2.3"/><circle cx="380.2" cy="920.9" r="2.3"/><circle cx="421.8" cy="926.4" r="2.3"/><circle cx="525.3" cy="867.8" r="2.3"/><circle cx="494.2" cy="856.8" r="2.3"/><circle cx="486.2" cy="862.9" r="2.3"/><circle cx="417.2" cy="929.9" r="2.3"/><circle cx="418.2" cy="928.2" r="2.3"/><circle cx="612.0" cy="800.7" r="2.3"/><circle cx="370.9" cy="953.8" r="2.3"/><circle cx="373.1" cy="952.9" r="2.3"/><circle cx="380.6" cy="949.7" r="2.3"/><circle cx="390.8" cy="915.6" r="2.3"/><circle cx="319.7" cy="967.7" r="2.3"/><circle cx="381.5" cy="948.6" r="2.3"/><circle cx="372.5" cy="952.5" r="2.3"/><circle cx="454.9" cy="879.6" r="2.3"/><circle cx="333.3" cy="971.0" r="2.3"/><circle cx="622.0" cy="796.0" r="2.3"/><circle cx="531.2" cy="865.7" r="2.3"/><circle cx="480.6" cy="865.4" r="2.3"/><circle cx="478.9" cy="865.9" r="2.3"/><circle cx="540.8" cy="832.0" r="2.3"/><circle cx="508.5" cy="876.4" r="2.3"/><circle cx="333.8" cy="952.3" r="2.3"/><circle cx="475.9" cy="867.0" r="2.3"/><circle cx="399.4" cy="939.5" r="2.3"/><circle cx="616.0" cy="806.1" r="2.3"/><circle cx="626.9" cy="796.0" r="2.3"/><circle cx="334.7" cy="969.3" r="2.3"/><circle cx="353.1" cy="938.5" r="2.3"/><circle cx="373.5" cy="926.4" r="2.3"/><circle cx="492.1" cy="860.2" r="2.3"/><circle cx="346.6" cy="941.7" r="2.3"/><circle cx="529.2" cy="867.5" r="2.3"/><circle cx="355.9" cy="961.9" r="2.3"/><circle cx="592.9" cy="825.6" r="2.3"/><circle cx="460.7" cy="906.1" r="2.3"/><circle cx="473.4" cy="893.8" r="2.3"/><circle cx="428.8" cy="893.5" r="2.3"/><circle cx="392.3" cy="942.6" r="2.3"/><circle cx="375.5" cy="924.9" r="2.3"/><circle cx="551.7" cy="826.6" r="2.3"/><circle cx="616.6" cy="805.2" r="2.3"/><circle cx="452.2" cy="908.6" r="2.3"/><circle cx="435.8" cy="917.7" r="2.3"/><circle cx="356.6" cy="933.9" r="2.3"/><circle cx="526.4" cy="841.4" r="2.3"/><circle cx="334.8" cy="968.8" r="2.3"/><circle cx="525.5" cy="842.3" r="2.3"/><circle cx="471.0" cy="870.6" r="2.3"/><circle cx="359.0" cy="934.1" r="2.3"/><circle cx="596.4" cy="805.9" r="2.3"/><circle cx="617.6" cy="797.7" r="2.3"/><circle cx="537.3" cy="860.7" r="2.3"/><circle cx="421.1" cy="899.1" r="2.3"/><circle cx="420.1" cy="926.6" r="2.3"/><circle cx="361.7" cy="959.8" r="2.3"/><circle cx="522.1" cy="870.5" r="2.3"/><circle cx="559.7" cy="847.3" r="2.3"/><circle cx="607.2" cy="800.5" r="2.3"/><circle cx="577.5" cy="815.4" r="2.3"/><circle cx="482.3" cy="888.6" r="2.3"/><circle cx="536.8" cy="861.1" r="2.3"/><circle cx="362.2" cy="958.8" r="2.3"/><circle cx="503.8" cy="877.8" r="2.3"/><circle cx="449.4" cy="878.4" r="2.3"/><circle cx="471.4" cy="895.2" r="2.3"/><circle cx="524.3" cy="842.1" r="2.3"/><circle cx="515.6" cy="873.6" r="2.3"/><circle cx="563.1" cy="845.3" r="2.3"/><circle cx="334.4" cy="952.4" r="2.3"/><circle cx="591.7" cy="826.2" r="2.3"/><circle cx="490.1" cy="883.9" r="2.3"/><circle cx="571.6" cy="818.3" r="2.3"/><circle cx="414.0" cy="931.1" r="2.3"/><circle cx="444.6" cy="913.0" r="2.3"/><circle cx="326.1" cy="959.9" r="2.3"/><circle cx="591.8" cy="828.9" r="2.3"/><circle cx="608.1" cy="812.8" r="2.3"/><circle cx="324.8" cy="970.0" r="2.3"/><circle cx="586.1" cy="830.5" r="2.3"/><circle cx="581.5" cy="833.5" r="2.3"/><circle cx="462.8" cy="875.3" r="2.3"/><circle cx="525.3" cy="867.7" r="2.3"/><circle cx="559.1" cy="824.0" r="2.3"/><circle cx="539.4" cy="858.3" r="2.3"/><circle cx="584.0" cy="811.9" r="2.3"/><circle cx="603.5" cy="815.9" r="2.3"/><circle cx="555.7" cy="851.5" r="2.3"/><circle cx="411.5" cy="903.2" r="2.3"/><circle cx="625.9" cy="794.2" r="2.3"/><circle cx="565.0" cy="820.3" r="2.3"/><circle cx="478.7" cy="864.9" r="2.3"/><circle cx="321.7" cy="966.4" r="2.3"/><circle cx="466.4" cy="872.5" r="2.3"/><circle cx="373.8" cy="952.2" r="2.3"/><circle cx="545.4" cy="857.2" r="2.3"/><circle cx="523.4" cy="841.8" r="2.3"/><circle cx="297.6" cy="984.8" r="2.3"/><circle cx="317.5" cy="968.2" r="2.3"/><circle cx="303.2" cy="973.0" r="2.3"/><circle cx="299.8" cy="984.6" r="2.3"/><circle cx="298.8" cy="975.6" r="2.3"/><circle cx="306.4" cy="971.2" r="2.3"/><circle cx="305.0" cy="988.2" r="2.3"/><circle cx="329.3" cy="962.6" r="2.3"/><circle cx="298.4" cy="988.0" r="2.3"/><circle cx="296.8" cy="981.9" r="2.3"/><circle cx="307.1" cy="980.3" r="2.3"/><circle cx="299.1" cy="985.1" r="2.3"/><circle cx="326.9" cy="957.1" r="2.3"/><circle cx="292.3" cy="986.1" r="2.3"/><circle cx="333.3" cy="960.1" r="2.3"/><circle cx="320.1" cy="974.8" r="2.3"/><circle cx="316.5" cy="978.2" r="2.3"/><circle cx="296.1" cy="981.6" r="2.3"/><circle cx="325.8" cy="969.2" r="2.3"/><circle cx="327.0" cy="966.0" r="2.3"/><circle cx="315.5" cy="967.4" r="2.3"/><circle cx="302.5" cy="987.1" r="2.3"/><circle cx="294.2" cy="979.1" r="2.3"/><circle cx="319.7" cy="969.4" r="2.3"/><circle cx="320.6" cy="960.9" r="2.3"/><circle cx="303.7" cy="982.6" r="2.3"/><circle cx="318.8" cy="983.7" r="2.3"/><circle cx="296.7" cy="984.3" r="2.3"/><circle cx="322.3" cy="966.8" r="2.3"/><circle cx="325.7" cy="958.9" r="2.3"/><circle cx="681.6" cy="760.9" r="2.3"/><circle cx="656.4" cy="767.5" r="2.3"/><circle cx="665.1" cy="774.5" r="2.3"/><circle cx="637.0" cy="785.6" r="2.3"/><circle cx="651.1" cy="802.5" r="2.3"/><circle cx="685.1" cy="806.3" r="2.3"/><circle cx="635.4" cy="813.3" r="2.3"/><circle cx="620.5" cy="816.6" r="2.3"/><circle cx="608.3" cy="835.4" r="2.3"/><circle cx="789.6" cy="685.0" r="2.3"/><circle cx="714.4" cy="743.2" r="2.3"/><circle cx="637.2" cy="785.2" r="2.3"/><circle cx="656.1" cy="767.8" r="2.3"/><circle cx="651.3" cy="802.7" r="2.3"/><circle cx="635.8" cy="813.3" r="2.3"/><circle cx="620.7" cy="816.2" r="2.3"/><circle cx="608.1" cy="835.6" r="2.3"/><circle cx="643.0" cy="793.0" r="2.3"/><circle cx="618.8" cy="800.7" r="2.3"/><circle cx="612.0" cy="806.6" r="2.3"/><circle cx="621.0" cy="799.5" r="2.3"/><circle cx="625.0" cy="801.0" r="2.3"/><circle cx="616.0" cy="803.0" r="2.3"/><circle cx="605.0" cy="808.0" r="2.3"/><circle cx="609.0" cy="811.0" r="2.3"/><circle cx="293.8" cy="956.2" r="2.3"/><circle cx="309.7" cy="959.1" r="2.3"/><circle cx="237.2" cy="982.0" r="2.3"/><circle cx="231.8" cy="986.6" r="2.3"/><circle cx="236.6" cy="1020.8" r="2.3"/><circle cx="233.3" cy="1024.3" r="2.3"/><circle cx="244.8" cy="1026.0" r="2.3"/><circle cx="262.8" cy="1005.6" r="2.3"/><circle cx="174.5" cy="1077.0" r="2.3"/><circle cx="289.6" cy="999.8" r="2.3"/><circle cx="285.7" cy="973.6" r="2.3"/><circle cx="294.2" cy="956.2" r="2.3"/><circle cx="309.8" cy="958.1" r="2.3"/><circle cx="324.8" cy="952.8" r="2.3"/><circle cx="294.7" cy="978.0" r="2.3"/><circle cx="289.4" cy="999.8" r="2.3"/><circle cx="285.5" cy="993.0" r="2.3"/><circle cx="289.4" cy="994.0" r="2.3"/><circle cx="344.2" cy="930.5" r="2.3"/><circle cx="300.0" cy="985.0" r="2.3"/><circle cx="304.0" cy="990.0" r="2.3"/><circle cx="298.0" cy="992.0" r="2.3"/><circle cx="309.0" cy="983.0" r="2.3"/><circle cx="313.0" cy="986.0" r="2.3"/><circle cx="306.0" cy="978.0" r="2.3"/><circle cx="301.0" cy="980.0" r="2.3"/><circle cx="318.0" cy="981.0" r="2.3"/><circle cx="376.2" cy="908.5" r="2.3"/><circle cx="344.2" cy="929.2" r="2.3"/><circle cx="310.7" cy="958.9" r="2.3"/><circle cx="428.0" cy="882.9" r="2.3"/><circle cx="399.9" cy="949.2" r="2.3"/><circle cx="453.2" cy="918.2" r="2.3"/><circle cx="443.5" cy="920.1" r="2.3"/><circle cx="453.3" cy="919.3" r="2.3"/></g>
<line x1="213.6" y1="1099.5" x2="213.6" y2="1108.5" stroke="#555" stroke-width="2.2"/>
<text x="213.6" y="1140.2" class="tk" text-anchor="middle">−10</text>
<line x1="336.8" y1="1099.5" x2="336.8" y2="1108.5" stroke="#555" stroke-width="2.2"/>
<text x="336.8" y="1140.2" class="tk" text-anchor="middle">−5</text>
<line x1="460" y1="1099.5" x2="460" y2="1108.5" stroke="#555" stroke-width="2.2"/>
<text x="460" y="1140.2" class="tk" text-anchor="middle">0</text>
<line x1="583.2" y1="1099.5" x2="583.2" y2="1108.5" stroke="#555" stroke-width="2.2"/>
<text x="583.2" y="1140.2" class="tk" text-anchor="middle">5</text>
<line x1="706.4" y1="1099.5" x2="706.4" y2="1108.5" stroke="#555" stroke-width="2.2"/>
<text x="706.4" y="1140.2" class="tk" text-anchor="middle">10</text>
<line x1="130.7" y1="1036.5" x2="139.8" y2="1036.5" stroke="#555" stroke-width="2.2"/>
<text x="120.3" y="1047.4" class="tk" text-anchor="end">−10</text>
<line x1="130.7" y1="964" x2="139.8" y2="964" stroke="#555" stroke-width="2.2"/>
<text x="120.3" y="974.9" class="tk" text-anchor="end">−5</text>
<line x1="130.7" y1="891.5" x2="139.8" y2="891.5" stroke="#555" stroke-width="2.2"/>
<text x="120.3" y="902.4" class="tk" text-anchor="end">0</text>
<line x1="130.7" y1="819" x2="139.8" y2="819" stroke="#555" stroke-width="2.2"/>
<text x="120.3" y="829.9" class="tk" text-anchor="end">5</text>
<line x1="130.7" y1="746.5" x2="139.8" y2="746.5" stroke="#555" stroke-width="2.2"/>
<text x="120.3" y="757.4" class="tk" text-anchor="end">10</text>
<line x1="130.7" y1="673.9" x2="139.8" y2="673.9" stroke="#555" stroke-width="2.2"/>
<text x="120.3" y="684.8" class="tk" text-anchor="end">15</text>
<text x="481" y="645.7" class="tt" text-anchor="middle">(b)</text>
<text x="482.6" y="1191.6" class="lb" text-anchor="middle">DFT Force (eV/Å)</text>
<text x="38.8" y="880.5" class="lb" text-anchor="middle" transform="rotate(-90 38.8 880.5)">Predicted Force (eV/Å)</text>
<rect x="155.5" y="678.7" width="272.5" height="92.8" rx="5.9" fill="#e5e5e5" fill-opacity="0.8" stroke="#cccccc" stroke-opacity="0.8" stroke-width="1.5"/>
<circle cx="196.7" cy="704.4" r="2.3" fill="#0000ff" fill-opacity="0.6" stroke="#0000ff" stroke-opacity="0.6" stroke-width="1"/>
<circle cx="196.7" cy="746.3" r="2.3" fill="#008000" fill-opacity="0.6" stroke="#008000" stroke-opacity="0.6" stroke-width="1"/>
<text x="249.7" y="711.2" class="lg">training set</text>
<text x="249.7" y="754.2" class="lg">test set</text>
</svg>
</body></html>
